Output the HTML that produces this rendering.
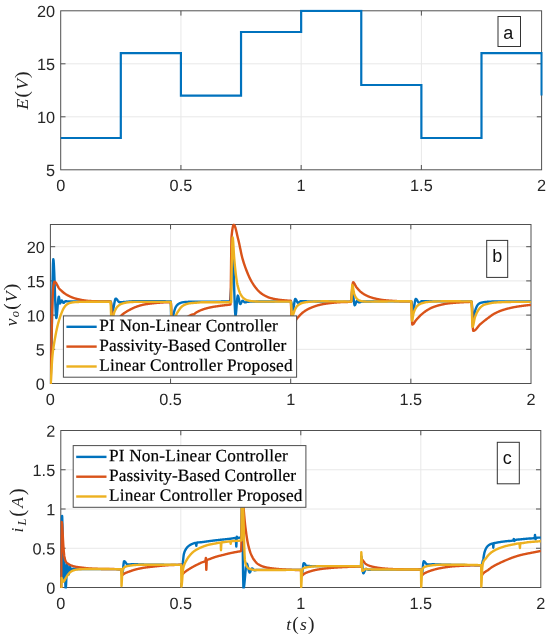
<!DOCTYPE html>
<html><head><meta charset="utf-8"><title>Controller comparison</title>
<style>
html,body{margin:0;padding:0;background:#fff;}
svg{display:block}
.tk{font-family:"Liberation Sans",sans-serif;font-size:16.3px;fill:#262626}
.bx{font-family:"Liberation Sans",sans-serif;font-size:18px;fill:#111}
.lg{font-family:"Liberation Serif",serif;font-size:17.3px;fill:#000;stroke:#000;stroke-width:0.2px}
.lb{font-family:"Liberation Serif",serif;font-size:17.5px;fill:#222;letter-spacing:1.2px}
.pr{font-size:19.5px}
.p2{font-size:20.5px}
.it{font-style:italic}
.sub{font-size:12.5px}
</style></head><body>
<svg width="550" height="639" viewBox="0 0 550 639">
<defs>
<clipPath id="clipa"><rect x="60.2" y="9.600000000000001" width="482.50" height="161.20"/></clipPath>
<clipPath id="clipb"><rect x="49.9" y="223.3" width="482.20" height="161.20"/></clipPath>
<clipPath id="clipc"><rect x="60.3" y="429.3" width="481.60" height="159.20"/></clipPath>
</defs>
<rect width="550" height="639" fill="#fff"/>
<line x1="180.93" y1="10.8" x2="180.93" y2="169.8" stroke="#e8e8e8" stroke-width="1"/>
<line x1="301.15" y1="10.8" x2="301.15" y2="169.8" stroke="#e8e8e8" stroke-width="1"/>
<line x1="421.38" y1="10.8" x2="421.38" y2="169.8" stroke="#e8e8e8" stroke-width="1"/>
<line x1="60.7" y1="116.80" x2="541.6" y2="116.80" stroke="#e8e8e8" stroke-width="1"/>
<line x1="60.7" y1="63.80" x2="541.6" y2="63.80" stroke="#e8e8e8" stroke-width="1"/>
<rect x="60.7" y="10.8" width="480.90" height="159.00" fill="none" stroke="#505050" stroke-width="1"/>
<text x="60.70" y="191" transform="rotate(0.03 60.70 191)" text-anchor="middle" class="tk">0</text>
<line x1="180.93" y1="169.8" x2="180.93" y2="165.0" stroke="#505050" stroke-width="1"/>
<line x1="180.93" y1="10.8" x2="180.93" y2="15.600000000000001" stroke="#505050" stroke-width="1"/>
<text x="180.93" y="191" transform="rotate(0.03 180.93 191)" text-anchor="middle" class="tk">0.5</text>
<line x1="301.15" y1="169.8" x2="301.15" y2="165.0" stroke="#505050" stroke-width="1"/>
<line x1="301.15" y1="10.8" x2="301.15" y2="15.600000000000001" stroke="#505050" stroke-width="1"/>
<text x="301.15" y="191" transform="rotate(0.03 301.15 191)" text-anchor="middle" class="tk">1</text>
<line x1="421.38" y1="169.8" x2="421.38" y2="165.0" stroke="#505050" stroke-width="1"/>
<line x1="421.38" y1="10.8" x2="421.38" y2="15.600000000000001" stroke="#505050" stroke-width="1"/>
<text x="421.38" y="191" transform="rotate(0.03 421.38 191)" text-anchor="middle" class="tk">1.5</text>
<text x="541.60" y="191" transform="rotate(0.03 541.60 191)" text-anchor="middle" class="tk">2</text>
<text x="55.10" y="176.10" transform="rotate(0.03 55.10 176.10)" text-anchor="end" class="tk">5</text>
<line x1="60.7" y1="116.80" x2="65.5" y2="116.80" stroke="#505050" stroke-width="1"/>
<line x1="541.6" y1="116.80" x2="536.8000000000001" y2="116.80" stroke="#505050" stroke-width="1"/>
<text x="55.10" y="123.10" transform="rotate(0.03 55.10 123.10)" text-anchor="end" class="tk">10</text>
<line x1="60.7" y1="63.80" x2="65.5" y2="63.80" stroke="#505050" stroke-width="1"/>
<line x1="541.6" y1="63.80" x2="536.8000000000001" y2="63.80" stroke="#505050" stroke-width="1"/>
<text x="55.10" y="70.10" transform="rotate(0.03 55.10 70.10)" text-anchor="end" class="tk">15</text>
<text x="55.10" y="17.10" transform="rotate(0.03 55.10 17.10)" text-anchor="end" class="tk">20</text>
<polyline points="60.70,138.00 120.81,138.00 120.81,53.20 180.93,53.20 180.93,95.60 241.04,95.60 241.04,32.00 301.15,32.00 301.15,10.80 361.26,10.80 361.26,85.00 421.38,85.00 421.38,138.00 481.49,138.00 481.49,53.20 541.60,53.20 541.60,95.60" fill="none" stroke="#0072BD" stroke-width="2.2" stroke-linejoin="miter" clip-path="url(#clipa)"/>
<rect x="498" y="16.5" width="22.5" height="30" fill="none" stroke="#333" stroke-width="1"/><text x="508.3" y="38.8" class="bx" text-anchor="middle">a</text>
<text transform="translate(27.6,89.8) rotate(-90)" text-anchor="middle" class="lb"><tspan class="it">E</tspan><tspan class="pr" dy="0.7">(</tspan><tspan class="it" dy="-0.7">V</tspan><tspan class="pr" dy="0.7">)</tspan></text>
<line x1="170.55" y1="224.5" x2="170.55" y2="383.5" stroke="#e8e8e8" stroke-width="1"/>
<line x1="290.70" y1="224.5" x2="290.70" y2="383.5" stroke="#e8e8e8" stroke-width="1"/>
<line x1="410.85" y1="224.5" x2="410.85" y2="383.5" stroke="#e8e8e8" stroke-width="1"/>
<line x1="50.4" y1="349.30" x2="531.0" y2="349.30" stroke="#e8e8e8" stroke-width="1"/>
<line x1="50.4" y1="315.10" x2="531.0" y2="315.10" stroke="#e8e8e8" stroke-width="1"/>
<line x1="50.4" y1="280.90" x2="531.0" y2="280.90" stroke="#e8e8e8" stroke-width="1"/>
<line x1="50.4" y1="246.70" x2="531.0" y2="246.70" stroke="#e8e8e8" stroke-width="1"/>
<rect x="50.4" y="224.5" width="480.60" height="159.00" fill="none" stroke="#505050" stroke-width="1"/>
<text x="50.40" y="405" transform="rotate(0.03 50.40 405)" text-anchor="middle" class="tk">0</text>
<line x1="170.55" y1="383.5" x2="170.55" y2="378.7" stroke="#505050" stroke-width="1"/>
<line x1="170.55" y1="224.5" x2="170.55" y2="229.3" stroke="#505050" stroke-width="1"/>
<text x="170.55" y="405" transform="rotate(0.03 170.55 405)" text-anchor="middle" class="tk">0.5</text>
<line x1="290.70" y1="383.5" x2="290.70" y2="378.7" stroke="#505050" stroke-width="1"/>
<line x1="290.70" y1="224.5" x2="290.70" y2="229.3" stroke="#505050" stroke-width="1"/>
<text x="290.70" y="405" transform="rotate(0.03 290.70 405)" text-anchor="middle" class="tk">1</text>
<line x1="410.85" y1="383.5" x2="410.85" y2="378.7" stroke="#505050" stroke-width="1"/>
<line x1="410.85" y1="224.5" x2="410.85" y2="229.3" stroke="#505050" stroke-width="1"/>
<text x="410.85" y="405" transform="rotate(0.03 410.85 405)" text-anchor="middle" class="tk">1.5</text>
<text x="531.00" y="405" transform="rotate(0.03 531.00 405)" text-anchor="middle" class="tk">2</text>
<text x="44.80" y="389.80" transform="rotate(0.03 44.80 389.80)" text-anchor="end" class="tk">0</text>
<line x1="50.4" y1="349.30" x2="55.199999999999996" y2="349.30" stroke="#505050" stroke-width="1"/>
<line x1="531.0" y1="349.30" x2="526.2" y2="349.30" stroke="#505050" stroke-width="1"/>
<text x="44.80" y="355.60" transform="rotate(0.03 44.80 355.60)" text-anchor="end" class="tk">5</text>
<line x1="50.4" y1="315.10" x2="55.199999999999996" y2="315.10" stroke="#505050" stroke-width="1"/>
<line x1="531.0" y1="315.10" x2="526.2" y2="315.10" stroke="#505050" stroke-width="1"/>
<text x="44.80" y="321.40" transform="rotate(0.03 44.80 321.40)" text-anchor="end" class="tk">10</text>
<line x1="50.4" y1="280.90" x2="55.199999999999996" y2="280.90" stroke="#505050" stroke-width="1"/>
<line x1="531.0" y1="280.90" x2="526.2" y2="280.90" stroke="#505050" stroke-width="1"/>
<text x="44.80" y="287.20" transform="rotate(0.03 44.80 287.20)" text-anchor="end" class="tk">15</text>
<line x1="50.4" y1="246.70" x2="55.199999999999996" y2="246.70" stroke="#505050" stroke-width="1"/>
<line x1="531.0" y1="246.70" x2="526.2" y2="246.70" stroke="#505050" stroke-width="1"/>
<text x="44.80" y="253.00" transform="rotate(0.03 44.80 253.00)" text-anchor="end" class="tk">20</text>
<polyline points="50.60,383.90 50.90,371.20 51.20,358.22 51.50,344.92 51.60,340.40 51.80,330.22 52.10,312.13 52.40,293.16 52.70,276.12 53.00,263.82 53.30,259.10 53.30,259.10 53.60,260.75 53.90,265.23 54.20,271.82 54.50,279.83 54.80,288.55 55.10,297.27 55.40,305.28 55.70,311.87 56.00,316.35 56.30,318.00 56.30,318.00 56.60,317.15 56.90,314.91 57.20,311.71 57.50,307.99 57.80,304.20 58.10,300.77 58.40,298.16 58.70,296.80 58.80,296.70 59.00,297.20 59.30,299.22 59.60,301.66 59.90,303.27 60.00,303.40 60.20,303.29 60.50,302.77 60.80,302.03 61.10,301.26 61.40,300.65 61.70,300.40 61.70,300.40 62.00,300.59 62.30,301.05 62.60,301.65 62.90,302.25 63.20,302.71 63.50,302.90 63.50,302.90 63.80,302.80 64.10,302.55 64.40,302.22 64.70,301.86 65.00,301.55 65.30,301.34 65.50,301.30 65.60,301.30 65.90,301.30 66.20,301.31 66.50,301.31 66.80,301.32 67.10,301.33 67.40,301.34 67.70,301.35 68.00,301.36 68.30,301.37 68.60,301.38 68.90,301.38 69.20,301.39 69.50,301.40 69.80,301.40 70.00,301.40 70.10,301.40 70.40,301.40 70.70,301.40 71.00,301.40 71.30,301.40 71.60,301.40 71.90,301.40 72.20,301.40 72.50,301.40 72.80,301.40 73.10,301.40 73.40,301.40 73.70,301.40 74.00,301.40 74.30,301.40 74.60,301.40 74.90,301.40 75.20,301.40 75.50,301.40 75.80,301.40 76.10,301.40 76.40,301.40 76.70,301.40 77.00,301.40 77.30,301.40 77.60,301.40 77.90,301.40 78.20,301.40 78.50,301.40 78.80,301.40 79.10,301.40 79.40,301.40 79.70,301.40 80.00,301.40 80.30,301.40 80.60,301.40 80.90,301.40 81.20,301.40 81.50,301.40 81.80,301.40 82.10,301.40 82.40,301.40 82.70,301.40 83.00,301.40 83.30,301.40 83.60,301.40 83.90,301.40 84.20,301.40 84.50,301.40 84.80,301.40 85.10,301.40 85.40,301.40 85.70,301.40 86.00,301.40 86.30,301.40 86.60,301.40 86.90,301.40 87.20,301.40 87.50,301.40 87.80,301.40 88.10,301.40 88.40,301.40 88.70,301.40 89.00,301.40 89.30,301.40 89.60,301.40 89.90,301.40 90.20,301.40 90.50,301.40 90.80,301.40 91.10,301.40 91.40,301.40 91.70,301.40 92.00,301.40 92.30,301.40 92.60,301.40 92.90,301.40 93.20,301.40 93.50,301.40 93.80,301.40 94.10,301.40 94.40,301.40 94.70,301.40 95.00,301.40 95.30,301.40 95.60,301.40 95.90,301.40 96.20,301.40 96.50,301.40 96.80,301.40 97.10,301.40 97.40,301.40 97.70,301.40 98.00,301.40 98.30,301.40 98.60,301.40 98.90,301.40 99.20,301.40 99.50,301.40 99.80,301.40 100.10,301.40 100.40,301.40 100.70,301.40 101.00,301.40 101.30,301.40 101.60,301.40 101.90,301.40 102.20,301.40 102.50,301.40 102.80,301.40 103.10,301.40 103.40,301.40 103.70,301.40 104.00,301.40 104.30,301.40 104.60,301.40 104.90,301.40 105.20,301.40 105.50,301.40 105.80,301.40 106.10,301.40 106.40,301.40 106.70,301.40 107.00,301.40 107.30,301.40 107.60,301.40 107.90,301.40 108.20,301.40 108.50,301.40 108.80,301.40 109.10,301.40 109.40,301.40 109.70,301.40 110.00,301.40 110.30,301.40 110.60,301.40 110.70,301.40 110.90,301.78 111.20,303.49 111.50,305.96 111.80,308.54 112.10,310.58 112.40,311.40 112.40,311.40 112.70,311.10 113.00,310.28 113.30,309.06 113.60,307.55 113.90,305.87 114.20,304.13 114.50,302.45 114.80,300.94 115.10,299.72 115.40,298.90 115.70,298.60 115.70,298.60 116.00,298.66 116.30,298.83 116.60,299.09 116.90,299.41 117.20,299.79 117.50,300.19 117.80,300.61 118.10,301.01 118.40,301.39 118.70,301.71 119.00,301.97 119.30,302.14 119.60,302.20 119.60,302.20 119.90,302.20 120.20,302.20 120.50,302.19 120.80,302.18 121.10,302.17 121.40,302.16 121.70,302.15 122.00,302.13 122.30,302.12 122.60,302.10 122.90,302.08 123.20,302.06 123.50,302.04 123.80,302.02 124.10,301.99 124.40,301.97 124.70,301.94 125.00,301.92 125.30,301.89 125.60,301.86 125.90,301.83 126.20,301.81 126.50,301.78 126.80,301.75 127.10,301.72 127.40,301.69 127.70,301.66 128.00,301.63 128.30,301.60 128.60,301.57 128.90,301.55 129.20,301.52 129.50,301.49 129.80,301.47 130.10,301.44 130.40,301.41 130.70,301.39 131.00,301.37 131.30,301.35 131.60,301.32 131.90,301.31 132.20,301.29 132.50,301.27 132.80,301.26 133.10,301.24 133.40,301.23 133.70,301.22 134.00,301.21 134.30,301.21 134.60,301.20 134.90,301.20 135.00,301.20 135.20,301.20 135.50,301.20 135.80,301.20 136.10,301.20 136.40,301.20 136.70,301.20 137.00,301.20 137.30,301.20 137.60,301.20 137.90,301.20 138.20,301.20 138.50,301.20 138.80,301.20 139.10,301.20 139.40,301.20 139.70,301.20 140.00,301.20 140.30,301.20 140.60,301.20 140.90,301.20 141.20,301.20 141.50,301.20 141.80,301.20 142.10,301.20 142.40,301.20 142.70,301.20 143.00,301.20 143.30,301.20 143.60,301.20 143.90,301.20 144.20,301.20 144.50,301.20 144.80,301.20 145.10,301.20 145.40,301.21 145.70,301.21 146.00,301.21 146.30,301.21 146.60,301.21 146.90,301.21 147.20,301.21 147.50,301.21 147.80,301.21 148.10,301.21 148.40,301.21 148.70,301.21 149.00,301.21 149.30,301.21 149.60,301.21 149.90,301.22 150.20,301.22 150.50,301.22 150.80,301.22 151.10,301.22 151.40,301.22 151.70,301.22 152.00,301.22 152.30,301.22 152.60,301.22 152.90,301.23 153.20,301.23 153.50,301.23 153.80,301.23 154.10,301.23 154.40,301.23 154.70,301.23 155.00,301.24 155.30,301.24 155.60,301.24 155.90,301.24 156.20,301.24 156.50,301.24 156.80,301.25 157.10,301.25 157.40,301.25 157.70,301.25 158.00,301.25 158.30,301.26 158.60,301.26 158.90,301.26 159.20,301.26 159.50,301.27 159.80,301.27 160.10,301.27 160.40,301.27 160.70,301.28 161.00,301.28 161.30,301.28 161.60,301.28 161.90,301.29 162.20,301.29 162.50,301.29 162.80,301.29 163.10,301.30 163.40,301.30 163.70,301.30 164.00,301.31 164.30,301.31 164.60,301.31 164.90,301.32 165.20,301.32 165.50,301.32 165.80,301.33 166.10,301.33 166.40,301.34 166.70,301.34 167.00,301.34 167.30,301.35 167.60,301.35 167.90,301.36 168.20,301.36 168.50,301.36 168.80,301.37 169.10,301.37 169.40,301.38 169.70,301.38 170.00,301.39 170.30,301.39 170.60,301.40 170.80,301.40 170.90,304.11 171.20,324.70 171.30,327.40 171.50,327.10 171.80,325.69 172.10,323.52 172.40,320.98 172.70,318.50 173.00,316.49 173.10,316.00 173.30,315.13 173.60,313.86 173.90,312.65 174.20,311.50 174.50,310.43 174.80,309.45 175.10,308.56 175.40,307.78 175.70,307.13 176.00,306.60 176.00,306.60 176.30,306.16 176.60,305.75 176.90,305.38 177.20,305.04 177.50,304.74 177.80,304.46 178.10,304.22 178.40,304.00 178.70,303.81 178.90,303.70 179.00,303.65 179.30,303.50 179.60,303.35 179.90,303.21 180.20,303.08 180.50,302.95 180.80,302.83 181.10,302.73 181.40,302.62 181.70,302.53 182.00,302.45 182.30,302.38 182.60,302.31 182.90,302.26 183.20,302.21 183.30,302.20 183.50,302.18 183.80,302.14 184.10,302.11 184.40,302.08 184.70,302.05 185.00,302.02 185.30,302.00 185.60,301.97 185.90,301.95 186.20,301.93 186.50,301.91 186.80,301.89 187.10,301.87 187.40,301.86 187.70,301.85 188.00,301.83 188.30,301.82 188.60,301.81 188.90,301.80 189.10,301.80 189.20,301.80 189.50,301.79 189.80,301.79 190.10,301.78 190.40,301.77 190.70,301.77 191.00,301.76 191.30,301.76 191.60,301.75 191.90,301.75 192.20,301.74 192.50,301.74 192.80,301.73 193.10,301.73 193.40,301.73 193.70,301.72 194.00,301.72 194.30,301.72 194.60,301.71 194.90,301.71 195.20,301.70 195.50,301.70 195.80,301.70 196.10,301.70 196.40,301.69 196.70,301.69 197.00,301.69 197.30,301.69 197.60,301.68 197.90,301.68 198.20,301.68 198.50,301.68 198.80,301.67 199.10,301.67 199.40,301.67 199.70,301.67 200.00,301.67 200.30,301.67 200.60,301.66 200.90,301.66 201.20,301.66 201.50,301.66 201.80,301.66 202.10,301.66 202.40,301.66 202.70,301.65 203.00,301.65 203.30,301.65 203.60,301.65 203.90,301.65 204.20,301.65 204.50,301.65 204.80,301.65 205.10,301.65 205.40,301.65 205.70,301.65 206.00,301.65 206.30,301.64 206.60,301.64 206.90,301.64 207.20,301.64 207.50,301.64 207.80,301.64 208.10,301.64 208.40,301.64 208.70,301.64 209.00,301.64 209.30,301.64 209.60,301.64 209.90,301.64 210.20,301.64 210.50,301.64 210.80,301.63 211.10,301.63 211.40,301.63 211.70,301.63 212.00,301.63 212.30,301.63 212.60,301.63 212.90,301.63 213.20,301.63 213.50,301.63 213.80,301.63 214.10,301.62 214.40,301.62 214.70,301.62 215.00,301.62 215.30,301.62 215.60,301.62 215.90,301.62 216.20,301.61 216.50,301.61 216.80,301.61 217.10,301.61 217.40,301.61 217.70,301.60 218.00,301.60 218.30,301.60 218.60,301.60 218.90,301.59 219.20,301.59 219.50,301.59 219.80,301.59 220.10,301.58 220.40,301.58 220.70,301.58 221.00,301.57 221.30,301.57 221.60,301.57 221.90,301.56 222.20,301.56 222.50,301.55 222.80,301.55 223.10,301.54 223.40,301.54 223.70,301.54 224.00,301.53 224.30,301.53 224.60,301.52 224.90,301.52 225.20,301.51 225.50,301.50 225.80,301.50 226.10,301.49 226.40,301.49 226.70,301.48 227.00,301.47 227.30,301.47 227.60,301.46 227.90,301.45 228.20,301.45 228.50,301.44 228.80,301.43 229.10,301.42 229.40,301.41 229.70,301.41 229.90,301.40 230.00,301.25 230.30,299.30 230.60,295.81 230.90,291.73 231.00,290.40 231.20,287.07 231.50,280.06 231.80,271.98 232.10,264.33 232.40,258.63 232.70,256.40 232.70,256.40 233.00,258.30 233.30,263.41 233.60,270.87 233.90,279.78 234.20,289.28 234.50,298.48 234.80,306.52 235.10,312.51 235.40,315.58 235.50,315.80 235.70,315.37 236.00,313.35 236.30,310.17 236.60,306.36 236.90,302.46 237.20,299.01 237.50,296.54 237.80,295.60 237.80,295.60 238.10,295.97 238.40,296.93 238.70,298.29 239.00,299.85 239.30,301.41 239.60,302.77 239.90,303.73 240.20,304.10 240.20,304.10 240.50,303.95 240.80,303.54 241.10,302.98 241.40,302.34 241.70,301.72 242.00,301.20 242.30,300.87 242.50,300.80 242.60,300.81 242.90,300.91 243.20,301.11 243.50,301.36 243.80,301.65 244.10,301.93 244.40,302.17 244.70,302.34 245.00,302.40 245.00,302.40 245.30,302.38 245.60,302.33 245.90,302.25 246.20,302.16 246.50,302.06 246.80,301.95 247.10,301.86 247.40,301.78 247.70,301.72 248.00,301.70 248.00,301.70 248.30,301.69 248.60,301.69 248.90,301.68 249.20,301.68 249.50,301.67 249.80,301.67 250.10,301.66 250.40,301.66 250.70,301.65 251.00,301.65 251.30,301.64 251.60,301.64 251.90,301.63 252.20,301.63 252.50,301.62 252.80,301.62 253.10,301.61 253.40,301.61 253.70,301.61 254.00,301.60 254.30,301.60 254.60,301.59 254.90,301.59 255.20,301.58 255.50,301.58 255.80,301.58 256.10,301.57 256.40,301.57 256.70,301.56 257.00,301.56 257.30,301.56 257.60,301.55 257.90,301.55 258.20,301.55 258.50,301.54 258.80,301.54 259.10,301.54 259.40,301.53 259.70,301.53 260.00,301.53 260.30,301.52 260.60,301.52 260.90,301.52 261.20,301.51 261.50,301.51 261.80,301.51 262.10,301.51 262.40,301.50 262.70,301.50 263.00,301.50 263.30,301.49 263.60,301.49 263.90,301.49 264.20,301.49 264.50,301.48 264.80,301.48 265.10,301.48 265.40,301.48 265.70,301.47 266.00,301.47 266.30,301.47 266.60,301.47 266.90,301.47 267.20,301.46 267.50,301.46 267.80,301.46 268.10,301.46 268.40,301.46 268.70,301.45 269.00,301.45 269.30,301.45 269.60,301.45 269.90,301.45 270.20,301.45 270.50,301.44 270.80,301.44 271.10,301.44 271.40,301.44 271.70,301.44 272.00,301.44 272.30,301.43 272.60,301.43 272.90,301.43 273.20,301.43 273.50,301.43 273.80,301.43 274.10,301.43 274.40,301.43 274.70,301.42 275.00,301.42 275.30,301.42 275.60,301.42 275.90,301.42 276.20,301.42 276.50,301.42 276.80,301.42 277.10,301.42 277.40,301.42 277.70,301.42 278.00,301.41 278.30,301.41 278.60,301.41 278.90,301.41 279.20,301.41 279.50,301.41 279.80,301.41 280.10,301.41 280.40,301.41 280.70,301.41 281.00,301.41 281.30,301.41 281.60,301.41 281.90,301.41 282.20,301.41 282.50,301.41 282.80,301.40 283.10,301.40 283.40,301.40 283.70,301.40 284.00,301.40 284.30,301.40 284.60,301.40 284.90,301.40 285.20,301.40 285.50,301.40 285.80,301.40 286.10,301.40 286.40,301.40 286.70,301.40 287.00,301.40 287.30,301.40 287.60,301.40 287.90,301.40 288.20,301.40 288.50,301.40 288.80,301.40 289.10,301.40 289.40,301.40 289.70,301.40 290.00,301.40 290.30,301.40 290.60,301.40 290.90,301.40 290.90,301.40 291.20,301.92 291.50,303.24 291.80,305.01 292.10,306.91 292.40,308.57 292.70,309.66 292.90,309.90 293.00,309.84 293.30,309.09 293.60,307.64 293.90,305.76 294.20,303.71 294.50,301.75 294.80,300.13 295.10,299.12 295.30,298.90 295.40,298.92 295.70,299.13 296.00,299.55 296.30,300.11 296.60,300.74 296.90,301.39 297.20,301.98 297.50,302.45 297.80,302.74 298.00,302.80 298.10,302.79 298.40,302.72 298.70,302.57 299.00,302.36 299.30,302.12 299.60,301.87 299.90,301.62 300.20,301.40 300.50,301.23 300.80,301.12 301.00,301.10 301.10,301.10 301.40,301.11 301.70,301.11 302.00,301.13 302.30,301.15 302.60,301.16 302.90,301.19 303.20,301.21 303.50,301.23 303.80,301.25 304.10,301.27 304.40,301.28 304.70,301.29 305.00,301.30 305.00,301.30 305.30,301.30 305.60,301.31 305.90,301.31 306.20,301.32 306.50,301.32 306.80,301.33 307.10,301.33 307.40,301.33 307.70,301.34 308.00,301.34 308.30,301.35 308.60,301.35 308.90,301.35 309.20,301.36 309.50,301.36 309.80,301.37 310.10,301.37 310.40,301.37 310.70,301.38 311.00,301.38 311.30,301.38 311.60,301.39 311.90,301.39 312.20,301.39 312.50,301.40 312.80,301.40 313.10,301.41 313.40,301.41 313.70,301.41 314.00,301.42 314.30,301.42 314.60,301.42 314.90,301.43 315.20,301.43 315.50,301.43 315.80,301.43 316.10,301.44 316.40,301.44 316.70,301.44 317.00,301.45 317.30,301.45 317.60,301.45 317.90,301.46 318.20,301.46 318.50,301.46 318.80,301.46 319.10,301.47 319.40,301.47 319.70,301.47 320.00,301.47 320.30,301.48 320.60,301.48 320.90,301.48 321.20,301.48 321.50,301.49 321.80,301.49 322.10,301.49 322.40,301.49 322.70,301.50 323.00,301.50 323.30,301.50 323.60,301.50 323.90,301.51 324.20,301.51 324.50,301.51 324.80,301.51 325.10,301.51 325.40,301.52 325.70,301.52 326.00,301.52 326.30,301.52 326.60,301.53 326.90,301.53 327.20,301.53 327.50,301.53 327.80,301.53 328.10,301.53 328.40,301.54 328.70,301.54 329.00,301.54 329.30,301.54 329.60,301.54 329.90,301.55 330.20,301.55 330.50,301.55 330.80,301.55 331.10,301.55 331.40,301.55 331.70,301.55 332.00,301.56 332.30,301.56 332.60,301.56 332.90,301.56 333.20,301.56 333.50,301.56 333.80,301.56 334.10,301.57 334.40,301.57 334.70,301.57 335.00,301.57 335.30,301.57 335.60,301.57 335.90,301.57 336.20,301.57 336.50,301.57 336.80,301.58 337.10,301.58 337.40,301.58 337.70,301.58 338.00,301.58 338.30,301.58 338.60,301.58 338.90,301.58 339.20,301.58 339.50,301.58 339.80,301.59 340.10,301.59 340.40,301.59 340.70,301.59 341.00,301.59 341.30,301.59 341.60,301.59 341.90,301.59 342.20,301.59 342.50,301.59 342.80,301.59 343.10,301.59 343.40,301.59 343.70,301.59 344.00,301.59 344.30,301.59 344.60,301.60 344.90,301.60 345.20,301.60 345.50,301.60 345.80,301.60 346.10,301.60 346.40,301.60 346.70,301.60 347.00,301.60 347.30,301.60 347.60,301.60 347.90,301.60 348.20,301.60 348.50,301.60 348.80,301.60 349.10,301.60 349.40,301.60 349.70,301.60 350.00,301.60 350.30,301.60 350.60,301.60 350.90,301.60 351.20,301.60 351.20,301.60 351.50,299.56 351.80,295.24 352.10,291.38 352.30,290.40 352.40,290.47 352.70,291.50 353.00,293.44 353.30,295.97 353.60,298.72 353.90,301.36 354.20,303.54 354.50,304.91 354.70,305.20 354.80,305.18 355.10,304.86 355.40,304.25 355.70,303.47 356.00,302.63 356.30,301.85 356.60,301.24 356.90,300.92 357.00,300.90 357.20,300.94 357.50,301.13 357.80,301.43 358.10,301.76 358.40,302.08 358.70,302.31 359.00,302.40 359.00,302.40 359.30,302.38 359.60,302.32 359.90,302.23 360.20,302.12 360.50,302.01 360.80,301.89 361.10,301.78 361.40,301.69 361.70,301.63 362.00,301.60 362.00,301.60 362.30,301.59 362.60,301.59 362.90,301.58 363.20,301.57 363.50,301.57 363.80,301.56 364.10,301.56 364.40,301.55 364.70,301.54 365.00,301.54 365.30,301.53 365.60,301.53 365.90,301.52 366.20,301.52 366.50,301.51 366.80,301.50 367.10,301.50 367.40,301.49 367.70,301.49 368.00,301.48 368.30,301.48 368.60,301.47 368.90,301.47 369.20,301.46 369.50,301.46 369.80,301.45 370.10,301.45 370.40,301.44 370.70,301.44 371.00,301.43 371.30,301.43 371.60,301.42 371.90,301.42 372.20,301.42 372.50,301.41 372.80,301.41 373.10,301.40 373.40,301.40 373.70,301.39 374.00,301.39 374.30,301.39 374.60,301.38 374.90,301.38 375.20,301.37 375.50,301.37 375.80,301.37 376.10,301.36 376.40,301.36 376.70,301.36 377.00,301.35 377.30,301.35 377.60,301.35 377.90,301.34 378.20,301.34 378.50,301.34 378.80,301.33 379.10,301.33 379.40,301.33 379.70,301.32 380.00,301.32 380.30,301.32 380.60,301.31 380.90,301.31 381.20,301.31 381.50,301.31 381.80,301.30 382.10,301.30 382.40,301.30 382.70,301.30 383.00,301.29 383.30,301.29 383.60,301.29 383.90,301.29 384.20,301.28 384.50,301.28 384.80,301.28 385.10,301.28 385.40,301.27 385.70,301.27 386.00,301.27 386.30,301.27 386.60,301.27 386.90,301.26 387.20,301.26 387.50,301.26 387.80,301.26 388.10,301.26 388.40,301.25 388.70,301.25 389.00,301.25 389.30,301.25 389.60,301.25 389.90,301.25 390.20,301.24 390.50,301.24 390.80,301.24 391.10,301.24 391.40,301.24 391.70,301.24 392.00,301.24 392.30,301.23 392.60,301.23 392.90,301.23 393.20,301.23 393.50,301.23 393.80,301.23 394.10,301.23 394.40,301.23 394.70,301.22 395.00,301.22 395.30,301.22 395.60,301.22 395.90,301.22 396.20,301.22 396.50,301.22 396.80,301.22 397.10,301.22 397.40,301.22 397.70,301.22 398.00,301.21 398.30,301.21 398.60,301.21 398.90,301.21 399.20,301.21 399.50,301.21 399.80,301.21 400.10,301.21 400.40,301.21 400.70,301.21 401.00,301.21 401.30,301.21 401.60,301.21 401.90,301.21 402.20,301.21 402.50,301.21 402.80,301.21 403.10,301.20 403.40,301.20 403.70,301.20 404.00,301.20 404.30,301.20 404.60,301.20 404.90,301.20 405.20,301.20 405.50,301.20 405.80,301.20 406.10,301.20 406.40,301.20 406.70,301.20 407.00,301.20 407.30,301.20 407.60,301.20 407.90,301.20 408.20,301.20 408.50,301.20 408.80,301.20 409.10,301.20 409.40,301.20 409.70,301.20 410.00,301.20 410.30,301.20 410.60,301.20 410.90,301.20 411.20,301.20 411.20,301.20 411.50,301.85 411.80,303.49 412.10,305.67 412.40,307.92 412.70,309.79 413.00,310.82 413.10,310.90 413.30,310.71 413.60,309.82 413.90,308.36 414.20,306.55 414.50,304.57 414.80,302.62 415.10,300.90 415.40,299.61 415.70,298.95 415.80,298.90 416.00,298.94 416.30,299.14 416.60,299.48 416.90,299.91 417.20,300.41 417.50,300.94 417.80,301.46 418.10,301.94 418.40,302.35 418.70,302.64 419.00,302.79 419.10,302.80 419.30,302.78 419.60,302.67 419.90,302.48 420.20,302.25 420.50,301.99 420.80,301.73 421.10,301.49 421.40,301.29 421.70,301.15 422.00,301.10 422.00,301.10 422.30,301.10 422.60,301.11 422.90,301.12 423.20,301.14 423.50,301.16 423.80,301.18 424.10,301.20 424.40,301.23 424.70,301.25 425.00,301.27 425.30,301.28 425.60,301.29 425.90,301.30 426.00,301.30 426.20,301.30 426.50,301.30 426.80,301.30 427.10,301.31 427.40,301.31 427.70,301.31 428.00,301.31 428.30,301.31 428.60,301.31 428.90,301.31 429.20,301.32 429.50,301.32 429.80,301.32 430.10,301.32 430.40,301.32 430.70,301.32 431.00,301.32 431.30,301.32 431.60,301.32 431.90,301.33 432.20,301.33 432.50,301.33 432.80,301.33 433.10,301.33 433.40,301.33 433.70,301.33 434.00,301.33 434.30,301.33 434.60,301.33 434.90,301.33 435.20,301.33 435.50,301.33 435.80,301.34 436.10,301.34 436.40,301.34 436.70,301.34 437.00,301.34 437.30,301.34 437.60,301.34 437.90,301.34 438.20,301.34 438.50,301.34 438.80,301.34 439.10,301.34 439.40,301.34 439.70,301.34 440.00,301.34 440.30,301.34 440.60,301.34 440.90,301.34 441.20,301.34 441.50,301.34 441.80,301.34 442.10,301.34 442.40,301.34 442.70,301.34 443.00,301.34 443.30,301.34 443.60,301.34 443.90,301.34 444.20,301.34 444.50,301.34 444.80,301.34 445.10,301.34 445.40,301.34 445.70,301.34 446.00,301.35 446.30,301.35 446.60,301.35 446.90,301.35 447.20,301.35 447.50,301.35 447.80,301.35 448.10,301.35 448.40,301.35 448.70,301.35 449.00,301.35 449.30,301.35 449.60,301.35 449.90,301.35 450.20,301.35 450.50,301.35 450.80,301.35 451.10,301.35 451.40,301.35 451.70,301.35 452.00,301.35 452.30,301.35 452.60,301.35 452.90,301.35 453.20,301.35 453.50,301.35 453.80,301.35 454.10,301.35 454.40,301.35 454.70,301.35 455.00,301.35 455.30,301.35 455.60,301.35 455.90,301.35 456.20,301.35 456.50,301.35 456.80,301.35 457.10,301.35 457.40,301.35 457.70,301.35 458.00,301.35 458.30,301.35 458.60,301.35 458.90,301.35 459.20,301.35 459.50,301.35 459.80,301.35 460.10,301.36 460.40,301.36 460.70,301.36 461.00,301.36 461.30,301.36 461.60,301.36 461.90,301.36 462.20,301.36 462.50,301.36 462.80,301.36 463.10,301.36 463.40,301.36 463.70,301.36 464.00,301.37 464.30,301.37 464.60,301.37 464.90,301.37 465.20,301.37 465.50,301.37 465.80,301.37 466.10,301.37 466.40,301.37 466.70,301.37 467.00,301.38 467.30,301.38 467.60,301.38 467.90,301.38 468.20,301.38 468.50,301.38 468.80,301.38 469.10,301.39 469.40,301.39 469.70,301.39 470.00,301.39 470.30,301.39 470.60,301.39 470.90,301.40 471.20,301.40 471.50,301.40 471.50,301.40 471.80,303.12 472.10,307.21 472.40,312.09 472.70,316.18 473.00,317.90 473.00,317.90 473.30,317.67 473.60,317.04 473.90,316.09 474.20,314.93 474.50,313.64 474.80,312.31 475.10,311.03 475.40,309.90 475.70,309.00 475.70,309.00 476.00,308.25 476.30,307.52 476.60,306.82 476.90,306.18 477.20,305.61 477.50,305.15 477.70,304.90 477.80,304.79 478.10,304.48 478.40,304.20 478.70,303.93 479.00,303.69 479.30,303.48 479.60,303.29 479.90,303.13 480.20,303.00 480.50,302.90 480.50,302.90 480.80,302.82 481.10,302.73 481.40,302.66 481.70,302.59 482.00,302.52 482.30,302.45 482.60,302.39 482.90,302.33 483.20,302.27 483.50,302.22 483.80,302.17 484.10,302.13 484.40,302.09 484.70,302.05 485.00,302.01 485.30,301.97 485.60,301.94 485.90,301.91 486.20,301.88 486.50,301.86 486.80,301.83 487.10,301.81 487.30,301.80 487.40,301.79 487.70,301.77 488.00,301.76 488.30,301.74 488.60,301.72 488.90,301.70 489.20,301.69 489.50,301.67 489.80,301.65 490.10,301.64 490.40,301.62 490.70,301.61 491.00,301.60 491.30,301.58 491.60,301.57 491.90,301.56 492.20,301.55 492.50,301.54 492.80,301.53 493.10,301.52 493.40,301.52 493.70,301.51 494.00,301.51 494.30,301.50 494.60,301.50 494.90,301.50 495.00,301.50 495.20,301.50 495.50,301.50 495.80,301.50 496.10,301.50 496.40,301.50 496.70,301.50 497.00,301.50 497.30,301.50 497.60,301.50 497.90,301.50 498.20,301.50 498.50,301.50 498.80,301.50 499.10,301.50 499.40,301.50 499.70,301.50 500.00,301.50 500.30,301.50 500.60,301.50 500.90,301.50 501.20,301.50 501.50,301.50 501.80,301.50 502.10,301.50 502.40,301.50 502.70,301.50 503.00,301.50 503.30,301.50 503.60,301.50 503.90,301.50 504.20,301.50 504.50,301.50 504.80,301.50 505.10,301.50 505.40,301.50 505.70,301.50 506.00,301.50 506.30,301.50 506.60,301.50 506.90,301.50 507.20,301.50 507.50,301.50 507.80,301.50 508.10,301.50 508.40,301.50 508.70,301.50 509.00,301.50 509.30,301.50 509.60,301.50 509.90,301.50 510.20,301.50 510.50,301.50 510.80,301.50 511.10,301.50 511.40,301.50 511.70,301.50 512.00,301.50 512.30,301.50 512.60,301.50 512.90,301.50 513.20,301.50 513.50,301.50 513.80,301.50 514.10,301.50 514.40,301.50 514.70,301.50 515.00,301.50 515.30,301.50 515.60,301.50 515.90,301.50 516.20,301.50 516.50,301.50 516.80,301.50 517.10,301.50 517.40,301.50 517.70,301.50 518.00,301.50 518.30,301.50 518.60,301.50 518.90,301.50 519.20,301.50 519.50,301.50 519.80,301.50 520.10,301.50 520.40,301.50 520.70,301.50 521.00,301.50 521.30,301.50 521.60,301.50 521.90,301.50 522.20,301.50 522.50,301.50 522.80,301.50 523.10,301.50 523.40,301.50 523.70,301.50 524.00,301.50 524.30,301.50 524.60,301.50 524.90,301.50 525.20,301.50 525.50,301.50 525.80,301.50 526.10,301.50 526.40,301.50 526.70,301.50 527.00,301.50 527.30,301.50 527.60,301.50 527.90,301.50 528.20,301.50 528.50,301.50 528.80,301.50 529.10,301.50 529.40,301.50 529.70,301.50 530.00,301.50 530.30,301.50 530.60,301.50 530.90,301.50" fill="none" stroke="#0072BD" stroke-width="2.4" stroke-linejoin="round" stroke-linecap="butt" clip-path="url(#clipb)"/>
<polyline points="50.80,383.90 51.10,363.42 51.40,345.56 51.50,340.40 51.70,330.63 52.00,316.96 52.30,305.78 52.50,300.40 52.60,298.27 52.90,292.55 53.20,288.14 53.50,285.40 53.50,285.40 53.80,283.73 54.10,282.43 54.40,281.75 54.50,281.70 54.70,281.73 55.00,281.85 55.30,282.08 55.60,282.39 55.90,282.78 56.20,283.23 56.50,283.73 56.80,284.27 57.10,284.83 57.40,285.41 57.70,286.00 58.00,286.57 58.30,287.12 58.60,287.65 58.90,288.12 59.20,288.55 59.50,288.90 59.50,288.90 59.80,289.21 60.10,289.52 60.40,289.82 60.70,290.11 61.00,290.40 61.30,290.68 61.60,290.96 61.90,291.23 62.20,291.49 62.50,291.75 62.80,292.00 63.10,292.24 63.40,292.48 63.70,292.71 64.00,292.94 64.30,293.16 64.60,293.38 64.90,293.59 65.20,293.80 65.50,294.00 65.80,294.19 66.10,294.38 66.40,294.56 66.70,294.74 66.80,294.80 67.00,294.92 67.30,295.09 67.60,295.25 67.90,295.42 68.20,295.58 68.50,295.74 68.80,295.89 69.10,296.04 69.40,296.19 69.70,296.34 70.00,296.48 70.30,296.62 70.60,296.76 70.90,296.89 71.20,297.02 71.50,297.14 71.80,297.27 72.10,297.39 72.40,297.50 72.70,297.62 73.00,297.73 73.30,297.83 73.60,297.94 73.90,298.04 74.10,298.10 74.20,298.13 74.50,298.23 74.80,298.32 75.10,298.41 75.40,298.50 75.70,298.58 76.00,298.67 76.30,298.75 76.60,298.83 76.90,298.91 77.20,298.99 77.50,299.07 77.80,299.14 78.10,299.21 78.40,299.28 78.70,299.35 79.00,299.42 79.30,299.49 79.60,299.55 79.90,299.61 80.20,299.67 80.50,299.73 80.80,299.79 81.10,299.85 81.40,299.90 81.40,299.90 81.70,299.95 82.00,300.01 82.30,300.06 82.60,300.11 82.90,300.16 83.20,300.21 83.50,300.26 83.80,300.31 84.10,300.36 84.40,300.41 84.70,300.45 85.00,300.50 85.30,300.54 85.60,300.58 85.90,300.62 86.20,300.66 86.50,300.70 86.80,300.73 87.10,300.77 87.40,300.80 87.70,300.83 88.00,300.85 88.30,300.88 88.60,300.90 88.60,300.90 88.90,300.92 89.20,300.94 89.50,300.96 89.80,300.98 90.10,301.00 90.40,301.02 90.70,301.03 91.00,301.05 91.30,301.07 91.60,301.08 91.90,301.10 92.20,301.11 92.50,301.13 92.80,301.14 93.10,301.16 93.40,301.17 93.70,301.19 94.00,301.20 94.30,301.21 94.60,301.22 94.90,301.24 95.20,301.25 95.50,301.26 95.80,301.27 96.10,301.28 96.40,301.29 96.70,301.30 97.00,301.31 97.30,301.32 97.60,301.33 97.90,301.34 98.20,301.35 98.50,301.36 98.80,301.37 99.10,301.38 99.40,301.38 99.70,301.39 100.00,301.40 100.00,301.40 100.30,301.41 100.60,301.41 100.90,301.42 101.20,301.43 101.50,301.43 101.80,301.44 102.10,301.44 102.40,301.44 102.70,301.45 103.00,301.45 103.30,301.45 103.60,301.46 103.90,301.46 104.20,301.46 104.50,301.46 104.80,301.47 105.10,301.47 105.40,301.47 105.70,301.47 106.00,301.48 106.30,301.48 106.60,301.48 106.90,301.49 107.20,301.49 107.50,301.50 107.80,301.50 108.10,301.51 108.40,301.52 108.70,301.53 109.00,301.53 109.30,301.54 109.60,301.55 109.90,301.57 110.20,301.58 110.50,301.59 110.70,301.60 110.80,301.78 111.10,304.16 111.40,308.56 111.70,314.06 112.00,319.70 112.30,324.57 112.60,327.72 112.80,328.40 112.90,328.40 113.20,328.33 113.50,328.19 113.80,327.97 114.10,327.69 114.40,327.36 114.70,326.96 115.00,326.52 115.30,326.04 115.60,325.52 115.90,324.96 116.20,324.38 116.50,323.78 116.80,323.16 117.10,322.53 117.40,321.89 117.70,321.26 118.00,320.63 118.30,320.01 118.60,319.41 118.90,318.83 119.20,318.27 119.50,317.75 119.80,317.27 120.10,316.83 120.40,316.44 120.70,316.10 120.80,316.00 121.00,315.81 121.30,315.53 121.60,315.26 121.90,314.99 122.20,314.73 122.50,314.48 122.80,314.24 123.10,314.00 123.40,313.76 123.70,313.53 124.00,313.31 124.30,313.09 124.60,312.88 124.90,312.67 125.20,312.47 125.50,312.27 125.80,312.08 126.10,311.89 126.40,311.70 126.70,311.51 127.00,311.33 127.30,311.16 127.60,310.98 127.90,310.81 128.20,310.64 128.50,310.47 128.80,310.31 129.10,310.14 129.40,309.98 129.70,309.82 130.00,309.66 130.30,309.50 130.30,309.50 130.60,309.34 130.90,309.19 131.20,309.03 131.50,308.88 131.80,308.73 132.10,308.58 132.40,308.44 132.70,308.29 133.00,308.15 133.30,308.01 133.60,307.87 133.90,307.74 134.20,307.61 134.50,307.48 134.80,307.35 135.10,307.23 135.40,307.11 135.70,306.99 136.00,306.87 136.30,306.76 136.60,306.65 136.90,306.54 137.20,306.43 137.50,306.33 137.60,306.30 137.80,306.23 138.10,306.14 138.40,306.04 138.70,305.95 139.00,305.85 139.30,305.76 139.60,305.67 139.90,305.58 140.20,305.49 140.50,305.41 140.80,305.33 141.10,305.24 141.40,305.16 141.70,305.08 142.00,305.01 142.30,304.93 142.60,304.86 142.90,304.79 143.20,304.72 143.50,304.66 143.80,304.59 144.10,304.53 144.40,304.47 144.70,304.42 144.80,304.40 145.00,304.36 145.30,304.31 145.60,304.26 145.90,304.21 146.20,304.16 146.50,304.12 146.80,304.07 147.10,304.03 147.40,303.98 147.70,303.94 148.00,303.90 148.30,303.86 148.60,303.82 148.90,303.78 149.20,303.74 149.50,303.70 149.80,303.67 150.10,303.63 150.40,303.60 150.70,303.56 151.00,303.53 151.30,303.49 151.60,303.46 151.90,303.42 152.10,303.40 152.20,303.39 152.50,303.35 152.80,303.32 153.10,303.29 153.40,303.25 153.70,303.22 154.00,303.19 154.30,303.16 154.60,303.12 154.90,303.09 155.20,303.06 155.50,303.03 155.80,303.00 156.10,302.97 156.40,302.94 156.70,302.92 157.00,302.89 157.30,302.86 157.60,302.84 157.90,302.81 158.20,302.79 158.50,302.76 158.80,302.74 159.10,302.72 159.40,302.70 159.40,302.70 159.70,302.68 160.00,302.66 160.30,302.64 160.60,302.62 160.90,302.60 161.20,302.58 161.50,302.56 161.80,302.54 162.10,302.52 162.40,302.50 162.70,302.48 163.00,302.46 163.30,302.44 163.60,302.42 163.90,302.41 164.20,302.39 164.50,302.37 164.80,302.35 165.10,302.34 165.40,302.32 165.70,302.31 166.00,302.29 166.30,302.28 166.60,302.27 166.90,302.26 167.20,302.25 167.50,302.24 167.80,302.23 168.10,302.22 168.40,302.21 168.70,302.21 169.00,302.20 169.30,302.20 169.60,302.20 169.80,302.20 169.90,302.20 170.20,302.20 170.50,302.20 170.80,302.20 170.80,302.20 171.10,305.53 171.40,313.30 171.70,322.18 172.00,328.84 172.20,330.40 172.30,330.40 172.60,330.36 172.90,330.27 173.20,330.13 173.50,329.96 173.80,329.75 174.10,329.50 174.40,329.22 174.70,328.92 175.00,328.59 175.30,328.24 175.60,327.87 175.90,327.48 176.20,327.08 176.50,326.68 176.80,326.27 177.10,325.85 177.40,325.44 177.70,325.04 178.00,324.64 178.30,324.25 178.60,323.87 178.90,323.51 179.20,323.18 179.50,322.86 179.80,322.57 180.00,322.40 180.10,322.32 180.40,322.07 180.70,321.82 181.00,321.58 181.30,321.33 181.60,321.09 181.90,320.86 182.20,320.62 182.50,320.39 182.80,320.16 183.10,319.93 183.40,319.71 183.70,319.49 184.00,319.27 184.30,319.05 184.60,318.84 184.90,318.63 185.20,318.42 185.50,318.22 185.80,318.02 186.10,317.82 186.40,317.62 186.70,317.43 187.00,317.24 187.30,317.06 187.60,316.87 187.90,316.69 188.20,316.51 188.50,316.34 188.80,316.17 189.10,316.00 189.10,316.00 189.40,315.83 189.70,315.66 190.00,315.48 190.30,315.32 190.60,315.15 190.90,315.00 191.20,314.87 191.50,314.75 191.80,314.65 192.00,314.60 192.10,314.58 192.40,314.53 192.70,314.49 193.00,314.46 193.30,314.43 193.60,314.38 193.90,314.33 194.00,314.30 194.20,314.21 194.50,313.98 194.80,313.68 195.10,313.36 195.40,313.08 195.50,313.00 195.70,312.86 196.00,312.66 196.30,312.47 196.60,312.29 196.90,312.12 197.20,311.95 197.50,311.78 197.80,311.63 198.10,311.48 198.40,311.33 198.70,311.18 199.00,311.04 199.30,310.90 199.30,310.90 199.60,310.76 199.90,310.63 200.20,310.50 200.50,310.37 200.80,310.24 201.10,310.11 201.40,309.99 201.70,309.87 202.00,309.76 202.30,309.65 202.60,309.54 202.90,309.43 203.20,309.33 203.50,309.23 203.60,309.20 203.80,309.14 204.10,309.04 204.40,308.95 204.70,308.86 205.00,308.77 205.30,308.68 205.60,308.59 205.90,308.51 206.20,308.42 206.50,308.34 206.80,308.26 207.10,308.18 207.40,308.10 207.70,308.03 208.00,307.95 208.30,307.88 208.60,307.81 208.90,307.73 209.20,307.67 209.50,307.60 209.80,307.53 210.10,307.47 210.40,307.40 210.70,307.34 210.90,307.30 211.00,307.28 211.30,307.22 211.60,307.16 211.90,307.11 212.20,307.05 212.50,307.00 212.80,306.94 213.10,306.89 213.40,306.84 213.70,306.79 214.00,306.74 214.30,306.69 214.60,306.64 214.90,306.60 215.20,306.55 215.50,306.50 215.80,306.46 216.10,306.41 216.40,306.37 216.70,306.32 217.00,306.28 217.30,306.23 217.60,306.19 217.90,306.14 218.20,306.10 218.20,306.10 218.50,306.06 218.80,306.01 219.10,305.97 219.40,305.93 219.70,305.88 220.00,305.84 220.30,305.80 220.60,305.76 220.90,305.72 221.20,305.68 221.50,305.64 221.80,305.60 222.10,305.56 222.40,305.52 222.70,305.48 223.00,305.44 223.30,305.40 223.60,305.36 223.90,305.32 224.20,305.28 224.50,305.24 224.80,305.20 225.10,305.16 225.40,305.11 225.50,305.10 225.70,305.07 226.00,305.04 226.30,305.01 226.60,304.99 226.90,304.97 227.20,304.95 227.50,304.93 227.80,304.90 228.10,304.88 228.40,304.85 228.70,304.81 229.00,304.77 229.30,304.72 229.60,304.66 229.90,304.59 230.20,304.50 230.50,304.40 230.50,304.40 230.80,290.59 231.10,262.59 231.40,240.20 231.50,237.40 231.70,235.23 232.00,232.38 232.30,230.01 232.60,228.10 232.90,226.63 233.20,225.61 233.50,225.00 233.80,224.80 233.80,224.80 234.10,224.92 234.40,225.27 234.70,225.81 235.00,226.54 235.30,227.42 235.60,228.44 235.90,229.56 236.20,230.77 236.50,232.04 236.80,233.35 237.10,234.68 237.40,236.00 237.70,237.28 238.00,238.52 238.20,239.30 238.30,239.69 238.60,240.91 238.90,242.20 239.20,243.56 239.50,244.97 239.80,246.42 240.10,247.89 240.40,249.36 240.70,250.82 241.00,252.25 241.30,253.65 241.60,254.99 241.90,256.27 242.20,257.46 242.40,258.20 242.50,258.56 242.80,259.61 243.10,260.63 243.40,261.62 243.70,262.59 244.00,263.53 244.30,264.45 244.60,265.34 244.90,266.21 245.20,267.06 245.50,267.89 245.80,268.71 246.10,269.50 246.40,270.28 246.70,271.05 246.80,271.30 247.00,271.80 247.30,272.54 247.60,273.27 247.90,273.99 248.20,274.70 248.50,275.39 248.80,276.07 249.10,276.73 249.40,277.38 249.70,278.02 250.00,278.63 250.30,279.24 250.60,279.82 250.90,280.39 251.20,280.94 251.40,281.30 251.50,281.48 251.80,282.00 252.10,282.50 252.40,283.00 252.70,283.49 253.00,283.96 253.30,284.43 253.60,284.88 253.90,285.32 254.20,285.75 254.50,286.17 254.80,286.58 255.10,286.98 255.40,287.37 255.70,287.75 255.90,288.00 256.00,288.12 256.30,288.49 256.60,288.85 256.90,289.20 257.20,289.55 257.50,289.88 257.80,290.22 258.10,290.54 258.40,290.86 258.70,291.17 259.00,291.46 259.30,291.75 259.60,292.03 259.90,292.30 260.20,292.56 260.50,292.80 260.50,292.80 260.80,293.04 261.10,293.26 261.40,293.48 261.70,293.70 262.00,293.91 262.30,294.11 262.60,294.31 262.90,294.50 263.20,294.68 263.50,294.86 263.80,295.04 264.10,295.21 264.40,295.38 264.70,295.54 265.00,295.70 265.00,295.70 265.30,295.86 265.60,296.01 265.90,296.17 266.20,296.32 266.50,296.47 266.80,296.61 267.10,296.75 267.40,296.89 267.70,297.03 268.00,297.15 268.30,297.28 268.60,297.39 268.90,297.50 269.20,297.60 269.50,297.70 269.50,297.70 269.80,297.79 270.10,297.88 270.40,297.97 270.70,298.05 271.00,298.14 271.30,298.22 271.60,298.30 271.90,298.38 272.20,298.46 272.50,298.53 272.80,298.60 273.10,298.68 273.40,298.75 273.70,298.81 274.00,298.88 274.30,298.95 274.60,299.01 274.90,299.07 275.20,299.13 275.50,299.19 275.80,299.25 276.10,299.30 276.40,299.36 276.70,299.41 277.00,299.46 277.30,299.51 277.60,299.55 277.90,299.60 278.20,299.64 278.50,299.69 278.60,299.70 278.80,299.73 279.10,299.77 279.40,299.81 279.70,299.84 280.00,299.88 280.30,299.92 280.60,299.95 280.90,299.99 281.20,300.02 281.50,300.05 281.80,300.08 282.10,300.11 282.40,300.14 282.70,300.17 283.00,300.20 283.30,300.23 283.60,300.26 283.90,300.29 284.20,300.31 284.50,300.34 284.80,300.37 285.10,300.39 285.40,300.42 285.70,300.44 286.00,300.47 286.30,300.49 286.60,300.51 286.90,300.54 287.20,300.56 287.50,300.58 287.70,300.60 287.80,300.61 288.10,300.63 288.40,300.64 288.70,300.65 289.00,300.66 289.30,300.68 289.60,300.69 289.90,300.71 290.20,300.74 290.50,300.77 290.70,300.80 290.80,301.24 291.10,306.61 291.40,315.10 291.70,322.95 292.00,326.40 292.00,326.40 292.30,326.33 292.60,326.15 292.90,325.85 293.20,325.46 293.50,324.99 293.80,324.45 294.10,323.87 294.40,323.25 294.70,322.61 295.00,321.96 295.30,321.32 295.60,320.71 295.90,320.13 296.20,319.60 296.50,319.14 296.60,319.00 296.80,318.74 297.10,318.36 297.40,318.00 297.70,317.65 298.00,317.31 298.30,316.98 298.60,316.65 298.90,316.33 299.20,316.01 299.30,315.90 299.50,315.69 299.80,315.36 300.10,315.05 300.40,314.73 300.70,314.42 301.00,314.12 301.30,313.83 301.60,313.55 301.90,313.28 302.00,313.20 302.20,313.03 302.50,312.79 302.80,312.55 303.10,312.31 303.40,312.08 303.70,311.85 304.00,311.63 304.30,311.41 304.60,311.20 304.90,310.99 305.20,310.79 305.50,310.59 305.80,310.40 306.10,310.21 306.40,310.03 306.70,309.85 307.00,309.68 307.30,309.51 307.50,309.40 307.60,309.35 307.90,309.19 308.20,309.03 308.50,308.88 308.80,308.73 309.10,308.59 309.40,308.45 309.70,308.31 310.00,308.18 310.30,308.05 310.60,307.92 310.90,307.79 311.20,307.67 311.50,307.54 311.80,307.42 312.10,307.31 312.40,307.19 312.70,307.08 312.90,307.00 313.00,306.96 313.30,306.85 313.60,306.74 313.90,306.63 314.20,306.52 314.50,306.42 314.80,306.31 315.10,306.21 315.40,306.11 315.70,306.01 316.00,305.91 316.30,305.81 316.60,305.72 316.90,305.63 317.20,305.54 317.50,305.45 317.80,305.36 318.10,305.28 318.40,305.20 318.40,305.20 318.70,305.12 319.00,305.04 319.30,304.97 319.60,304.89 319.90,304.82 320.20,304.75 320.50,304.68 320.80,304.61 321.10,304.54 321.40,304.47 321.70,304.41 322.00,304.35 322.30,304.28 322.60,304.22 322.90,304.17 323.20,304.11 323.50,304.05 323.80,304.00 323.80,304.00 324.10,303.95 324.40,303.90 324.70,303.85 325.00,303.80 325.30,303.75 325.60,303.71 325.90,303.66 326.20,303.62 326.50,303.57 326.80,303.53 327.10,303.49 327.40,303.45 327.70,303.41 328.00,303.37 328.30,303.33 328.60,303.29 328.90,303.25 329.20,303.21 329.30,303.20 329.50,303.17 329.80,303.14 330.10,303.10 330.40,303.06 330.70,303.03 331.00,302.99 331.30,302.96 331.60,302.92 331.90,302.89 332.20,302.85 332.50,302.82 332.80,302.79 333.10,302.76 333.40,302.72 333.70,302.69 334.00,302.67 334.30,302.64 334.60,302.61 334.70,302.60 334.90,302.58 335.20,302.56 335.50,302.53 335.80,302.50 336.10,302.48 336.40,302.46 336.70,302.43 337.00,302.41 337.30,302.39 337.60,302.36 337.90,302.34 338.20,302.32 338.50,302.30 338.80,302.28 339.10,302.26 339.40,302.24 339.70,302.22 340.00,302.20 340.00,302.20 340.30,302.18 340.60,302.17 340.90,302.15 341.20,302.14 341.50,302.12 341.80,302.11 342.10,302.10 342.40,302.09 342.70,302.09 343.00,302.08 343.30,302.07 343.60,302.07 343.90,302.06 344.20,302.05 344.50,302.05 344.80,302.04 345.10,302.03 345.40,302.03 345.70,302.02 346.00,302.01 346.30,302.00 346.60,301.99 346.90,301.98 347.20,301.96 347.50,301.95 347.80,301.93 348.10,301.92 348.40,301.90 348.70,301.87 349.00,301.85 349.30,301.82 349.60,301.80 349.90,301.77 350.20,301.73 350.50,301.70 350.80,301.66 351.10,301.61 351.20,301.60 351.40,300.20 351.70,295.08 352.00,290.40 352.00,290.40 352.30,287.36 352.60,284.58 352.90,282.71 353.10,282.30 353.20,282.31 353.50,282.45 353.80,282.72 354.10,283.12 354.40,283.60 354.70,284.15 355.00,284.73 355.30,285.33 355.60,285.91 355.90,286.46 356.20,286.93 356.40,287.20 356.50,287.32 356.80,287.69 357.10,288.05 357.40,288.40 357.70,288.75 358.00,289.09 358.30,289.42 358.60,289.75 358.90,290.07 359.20,290.38 359.50,290.68 359.80,290.98 360.10,291.27 360.40,291.54 360.70,291.81 361.00,292.07 361.30,292.31 361.60,292.55 361.80,292.70 361.90,292.77 362.20,292.99 362.50,293.20 362.80,293.41 363.10,293.61 363.40,293.80 363.70,293.99 364.00,294.17 364.30,294.35 364.60,294.53 364.90,294.70 365.20,294.86 365.50,295.02 365.80,295.18 366.10,295.33 366.40,295.48 366.70,295.62 367.00,295.76 367.30,295.90 367.30,295.90 367.60,296.03 367.90,296.17 368.20,296.29 368.50,296.42 368.80,296.54 369.10,296.66 369.40,296.78 369.70,296.90 370.00,297.01 370.30,297.12 370.60,297.23 370.90,297.33 371.20,297.43 371.50,297.53 371.80,297.63 372.10,297.72 372.40,297.81 372.70,297.90 372.70,297.90 373.00,297.99 373.30,298.07 373.60,298.15 373.90,298.23 374.20,298.31 374.50,298.38 374.80,298.46 375.10,298.53 375.40,298.60 375.70,298.67 376.00,298.74 376.30,298.81 376.60,298.87 376.90,298.94 377.20,299.00 377.50,299.06 377.80,299.12 378.10,299.18 378.20,299.20 378.40,299.24 378.70,299.30 379.00,299.35 379.30,299.41 379.60,299.47 379.90,299.52 380.20,299.58 380.50,299.63 380.80,299.69 381.10,299.74 381.40,299.79 381.70,299.83 382.00,299.88 382.30,299.93 382.60,299.97 382.90,300.01 383.20,300.05 383.50,300.09 383.60,300.10 383.80,300.12 384.10,300.16 384.40,300.19 384.70,300.22 385.00,300.25 385.30,300.28 385.60,300.31 385.90,300.34 386.20,300.37 386.50,300.40 386.80,300.42 387.10,300.45 387.40,300.47 387.70,300.50 388.00,300.52 388.30,300.54 388.60,300.56 388.90,300.59 389.10,300.60 389.20,300.61 389.50,300.63 389.80,300.65 390.10,300.67 390.40,300.69 390.70,300.71 391.00,300.73 391.30,300.75 391.60,300.77 391.90,300.79 392.20,300.81 392.50,300.83 392.80,300.85 393.10,300.87 393.40,300.89 393.70,300.91 394.00,300.93 394.30,300.94 394.60,300.96 394.90,300.98 395.20,301.00 395.50,301.01 395.80,301.03 396.10,301.04 396.40,301.06 396.70,301.07 397.00,301.09 397.30,301.10 397.60,301.12 397.90,301.13 398.20,301.14 398.50,301.15 398.80,301.16 399.10,301.17 399.40,301.18 399.70,301.19 400.00,301.20 400.00,301.20 400.30,301.21 400.60,301.21 400.90,301.22 401.20,301.23 401.50,301.23 401.80,301.24 402.10,301.24 402.40,301.24 402.70,301.25 403.00,301.25 403.30,301.25 403.60,301.25 403.90,301.26 404.20,301.26 404.50,301.26 404.80,301.26 405.10,301.27 405.40,301.27 405.70,301.27 406.00,301.27 406.30,301.28 406.60,301.28 406.90,301.28 407.20,301.29 407.50,301.29 407.80,301.29 408.10,301.30 408.40,301.31 408.70,301.31 409.00,301.32 409.30,301.33 409.60,301.34 409.90,301.35 410.20,301.36 410.50,301.37 410.80,301.38 411.10,301.40 411.20,301.40 411.40,303.43 411.70,311.43 412.00,320.37 412.30,324.60 412.30,324.60 412.60,324.55 412.90,324.40 413.20,324.17 413.50,323.86 413.80,323.50 414.10,323.09 414.40,322.64 414.70,322.17 415.00,321.69 415.30,321.22 415.60,320.76 415.90,320.33 416.20,319.93 416.40,319.70 416.50,319.59 416.80,319.26 417.10,318.93 417.40,318.60 417.70,318.27 418.00,317.95 418.30,317.63 418.60,317.31 418.90,316.99 419.20,316.68 419.50,316.38 419.80,316.07 420.10,315.77 420.40,315.48 420.70,315.20 421.00,314.91 421.30,314.64 421.60,314.37 421.80,314.20 421.90,314.11 422.20,313.86 422.50,313.61 422.80,313.36 423.10,313.11 423.40,312.87 423.70,312.63 424.00,312.40 424.30,312.17 424.60,311.94 424.90,311.72 425.20,311.50 425.50,311.29 425.80,311.08 426.10,310.87 426.40,310.67 426.70,310.48 427.00,310.29 427.30,310.10 427.30,310.10 427.60,309.92 427.90,309.74 428.20,309.56 428.50,309.39 428.80,309.21 429.10,309.05 429.40,308.88 429.70,308.72 430.00,308.56 430.30,308.40 430.60,308.25 430.90,308.10 431.20,307.96 431.50,307.82 431.80,307.68 432.10,307.55 432.40,307.42 432.70,307.30 432.70,307.30 433.00,307.18 433.30,307.07 433.60,306.95 433.90,306.84 434.20,306.74 434.50,306.63 434.80,306.53 435.10,306.43 435.40,306.33 435.70,306.23 436.00,306.14 436.30,306.05 436.60,305.96 436.90,305.87 437.20,305.78 437.50,305.70 437.80,305.61 438.10,305.53 438.20,305.50 438.40,305.44 438.70,305.36 439.00,305.28 439.30,305.20 439.60,305.12 439.90,305.04 440.20,304.97 440.50,304.89 440.80,304.82 441.10,304.75 441.40,304.67 441.70,304.61 442.00,304.54 442.30,304.47 442.60,304.40 442.90,304.34 443.20,304.28 443.50,304.22 443.60,304.20 443.80,304.16 444.10,304.10 444.40,304.05 444.70,303.99 445.00,303.93 445.30,303.88 445.60,303.83 445.90,303.77 446.20,303.72 446.50,303.67 446.80,303.62 447.10,303.58 447.40,303.53 447.70,303.49 448.00,303.44 448.30,303.40 448.60,303.36 448.90,303.32 449.10,303.30 449.20,303.29 449.50,303.25 449.80,303.22 450.10,303.19 450.40,303.16 450.70,303.13 451.00,303.10 451.30,303.07 451.60,303.04 451.90,303.02 452.20,302.99 452.50,302.96 452.80,302.94 453.10,302.91 453.40,302.89 453.70,302.87 454.00,302.84 454.30,302.82 454.50,302.80 454.60,302.79 454.90,302.77 455.20,302.74 455.50,302.72 455.80,302.69 456.10,302.67 456.40,302.65 456.70,302.62 457.00,302.60 457.30,302.58 457.60,302.56 457.90,302.54 458.20,302.51 458.50,302.49 458.80,302.47 459.10,302.45 459.40,302.44 459.70,302.42 460.00,302.40 460.00,302.40 460.30,302.38 460.60,302.37 460.90,302.35 461.20,302.33 461.50,302.31 461.80,302.30 462.10,302.28 462.40,302.26 462.70,302.24 463.00,302.22 463.30,302.21 463.60,302.19 463.90,302.17 464.20,302.15 464.50,302.14 464.80,302.12 465.10,302.10 465.40,302.09 465.70,302.07 466.00,302.06 466.30,302.04 466.60,302.03 466.90,302.01 467.20,302.00 467.50,301.99 467.80,301.98 468.10,301.97 468.40,301.96 468.70,301.95 469.00,301.94 469.30,301.93 469.60,301.92 469.90,301.92 470.20,301.91 470.50,301.91 470.80,301.90 471.10,301.90 471.40,301.90 471.50,301.90 471.70,303.01 472.00,307.95 472.30,315.12 472.60,322.61 472.90,328.51 473.20,330.90 473.20,330.90 473.50,330.88 473.80,330.81 474.10,330.70 474.40,330.54 474.70,330.36 475.00,330.14 475.30,329.89 475.60,329.61 475.90,329.31 476.20,328.99 476.50,328.65 476.80,328.30 477.10,327.93 477.40,327.56 477.70,327.18 478.00,326.81 478.30,326.43 478.60,326.06 478.90,325.69 479.20,325.34 479.50,325.00 479.80,324.67 480.10,324.37 480.40,324.09 480.50,324.00 480.70,323.83 481.00,323.57 481.30,323.32 481.60,323.07 481.90,322.82 482.20,322.57 482.50,322.32 482.80,322.08 483.10,321.84 483.40,321.60 483.70,321.36 484.00,321.12 484.30,320.89 484.60,320.65 484.90,320.42 485.20,320.19 485.50,319.96 485.80,319.73 486.10,319.50 486.40,319.28 486.70,319.05 487.00,318.82 487.30,318.60 487.30,318.60 487.60,318.37 487.90,318.15 488.20,317.92 488.50,317.69 488.80,317.46 489.10,317.24 489.40,317.01 489.70,316.78 490.00,316.56 490.30,316.33 490.60,316.11 490.90,315.89 491.20,315.67 491.50,315.46 491.80,315.25 492.10,315.04 492.40,314.84 492.70,314.64 493.00,314.45 493.30,314.27 493.60,314.09 493.90,313.91 494.10,313.80 494.20,313.74 494.50,313.58 494.80,313.42 495.10,313.26 495.40,313.11 495.70,312.95 496.00,312.80 496.30,312.66 496.60,312.51 496.90,312.37 497.20,312.23 497.50,312.09 497.80,311.96 498.10,311.82 498.40,311.70 498.70,311.57 499.00,311.44 499.30,311.32 499.60,311.20 499.90,311.08 500.20,310.96 500.50,310.85 500.80,310.74 500.90,310.70 501.10,310.63 501.40,310.52 501.70,310.41 502.00,310.31 502.30,310.20 502.60,310.10 502.90,310.00 503.20,309.90 503.50,309.81 503.80,309.71 504.10,309.62 504.40,309.53 504.70,309.43 505.00,309.34 505.30,309.26 505.60,309.17 505.90,309.08 506.20,309.00 506.50,308.92 506.80,308.84 507.10,308.76 507.40,308.68 507.70,308.60 507.70,308.60 508.00,308.52 508.30,308.45 508.60,308.37 508.90,308.30 509.20,308.23 509.50,308.15 509.80,308.08 510.10,308.01 510.40,307.95 510.70,307.88 511.00,307.81 511.30,307.74 511.60,307.68 511.90,307.62 512.20,307.55 512.50,307.49 512.80,307.43 513.10,307.37 513.40,307.31 513.70,307.25 514.00,307.19 514.30,307.14 514.50,307.10 514.60,307.08 514.90,307.03 515.20,306.97 515.50,306.92 515.80,306.87 516.10,306.81 516.40,306.76 516.70,306.71 517.00,306.66 517.30,306.61 517.60,306.56 517.90,306.51 518.20,306.47 518.50,306.42 518.80,306.37 519.10,306.33 519.40,306.28 519.70,306.24 520.00,306.20 520.30,306.15 520.60,306.11 520.90,306.07 521.20,306.03 521.40,306.00 521.50,305.99 521.80,305.95 522.10,305.91 522.40,305.87 522.70,305.83 523.00,305.79 523.30,305.75 523.60,305.71 523.90,305.67 524.20,305.63 524.50,305.60 524.80,305.56 525.10,305.52 525.40,305.49 525.70,305.45 526.00,305.41 526.30,305.38 526.60,305.34 526.90,305.31 527.20,305.28 527.50,305.24 527.80,305.21 528.10,305.18 528.40,305.15 528.70,305.11 529.00,305.08 529.30,305.05 529.60,305.02 529.90,304.99 530.20,304.96 530.50,304.94 530.80,304.91 530.90,304.90" fill="none" stroke="#D95319" stroke-width="2.4" stroke-linejoin="round" stroke-linecap="butt" clip-path="url(#clipb)"/>
<polyline points="50.80,383.90 51.10,377.75 51.40,371.89 51.70,366.48 52.00,361.66 52.30,357.61 52.50,355.40 52.60,354.43 52.90,351.74 53.20,349.35 53.50,347.22 53.80,345.28 54.10,343.48 54.40,341.77 54.70,340.10 55.00,338.40 55.00,338.40 55.30,336.70 55.60,335.04 55.90,333.43 56.20,331.89 56.50,330.41 56.80,329.00 57.10,327.66 57.40,326.40 57.40,326.40 57.70,325.20 58.00,324.04 58.30,322.92 58.60,321.84 58.90,320.79 59.20,319.77 59.50,318.79 59.80,317.85 60.10,316.94 60.40,316.06 60.70,315.21 61.00,314.40 61.00,314.40 61.30,313.61 61.60,312.83 61.90,312.07 62.20,311.33 62.50,310.63 62.80,309.96 63.10,309.33 63.40,308.75 63.70,308.22 63.90,307.90 64.00,307.75 64.30,307.30 64.60,306.87 64.90,306.46 65.20,306.07 65.50,305.71 65.80,305.37 66.10,305.07 66.40,304.80 66.70,304.57 66.80,304.50 67.00,304.37 67.30,304.18 67.60,304.00 67.90,303.83 68.20,303.67 68.50,303.52 68.80,303.38 69.10,303.26 69.40,303.14 69.70,303.03 70.00,302.94 70.30,302.85 70.50,302.80 70.60,302.78 70.90,302.71 71.20,302.64 71.50,302.58 71.80,302.52 72.10,302.46 72.40,302.41 72.70,302.36 73.00,302.32 73.30,302.28 73.60,302.25 73.90,302.22 74.10,302.20 74.20,302.19 74.50,302.17 74.80,302.15 75.10,302.12 75.40,302.10 75.70,302.08 76.00,302.06 76.30,302.04 76.60,302.03 76.90,302.01 77.20,301.99 77.50,301.98 77.80,301.96 78.10,301.95 78.40,301.94 78.70,301.93 79.00,301.92 79.30,301.91 79.60,301.91 79.90,301.90 80.00,301.90 80.20,301.90 80.50,301.89 80.80,301.89 81.10,301.88 81.40,301.88 81.70,301.88 82.00,301.87 82.30,301.87 82.60,301.87 82.90,301.86 83.20,301.86 83.50,301.85 83.80,301.85 84.10,301.85 84.40,301.84 84.70,301.84 85.00,301.84 85.30,301.83 85.60,301.83 85.90,301.83 86.20,301.82 86.50,301.82 86.80,301.82 87.10,301.81 87.40,301.81 87.70,301.81 88.00,301.80 88.30,301.80 88.60,301.80 88.90,301.80 89.20,301.79 89.50,301.79 89.80,301.79 90.10,301.79 90.40,301.78 90.70,301.78 91.00,301.78 91.30,301.78 91.60,301.77 91.90,301.77 92.20,301.77 92.50,301.77 92.80,301.76 93.10,301.76 93.40,301.76 93.70,301.76 94.00,301.75 94.30,301.75 94.60,301.75 94.90,301.75 95.20,301.75 95.50,301.74 95.80,301.74 96.10,301.74 96.40,301.74 96.70,301.74 97.00,301.74 97.30,301.73 97.60,301.73 97.90,301.73 98.20,301.73 98.50,301.73 98.80,301.73 99.10,301.73 99.40,301.72 99.70,301.72 100.00,301.72 100.30,301.72 100.60,301.72 100.90,301.72 101.20,301.72 101.50,301.72 101.80,301.71 102.10,301.71 102.40,301.71 102.70,301.71 103.00,301.71 103.30,301.71 103.60,301.71 103.90,301.71 104.20,301.71 104.50,301.71 104.80,301.71 105.10,301.71 105.40,301.70 105.70,301.70 106.00,301.70 106.30,301.70 106.60,301.70 106.90,301.70 107.20,301.70 107.50,301.70 107.80,301.70 108.10,301.70 108.40,301.70 108.70,301.70 109.00,301.70 109.30,301.70 109.60,301.70 109.90,301.70 110.20,301.70 110.50,301.70 110.50,301.70 110.80,306.17 111.10,315.11 111.40,321.82 111.50,322.40 111.70,322.29 112.00,321.77 112.30,320.88 112.60,319.73 112.90,318.39 113.20,316.95 113.50,315.50 113.80,314.12 114.10,312.91 114.40,311.95 114.50,311.70 114.70,311.25 115.00,310.59 115.30,309.97 115.60,309.38 115.90,308.83 116.20,308.32 116.50,307.85 116.80,307.42 117.10,307.04 117.40,306.70 117.50,306.60 117.70,306.40 118.00,306.12 118.30,305.85 118.60,305.59 118.90,305.35 119.20,305.12 119.50,304.90 119.80,304.69 120.10,304.50 120.40,304.33 120.70,304.17 121.00,304.02 121.30,303.89 121.60,303.77 121.80,303.70 121.90,303.67 122.20,303.57 122.50,303.48 122.80,303.39 123.10,303.30 123.40,303.22 123.70,303.13 124.00,303.06 124.30,302.98 124.60,302.91 124.90,302.84 125.20,302.77 125.50,302.71 125.80,302.65 126.10,302.60 126.40,302.54 126.70,302.49 127.00,302.44 127.30,302.40 127.60,302.36 127.90,302.32 128.20,302.29 128.50,302.25 128.80,302.23 129.10,302.20 129.10,302.20 129.40,302.18 129.70,302.15 130.00,302.13 130.30,302.11 130.60,302.09 130.90,302.06 131.20,302.04 131.50,302.02 131.80,302.01 132.10,301.99 132.40,301.97 132.70,301.96 133.00,301.94 133.30,301.93 133.60,301.92 133.90,301.91 134.20,301.91 134.50,301.90 134.80,301.90 135.00,301.90 135.10,301.90 135.40,301.90 135.70,301.90 136.00,301.90 136.30,301.90 136.60,301.90 136.90,301.90 137.20,301.90 137.50,301.90 137.80,301.90 138.10,301.90 138.40,301.90 138.70,301.90 139.00,301.90 139.30,301.90 139.60,301.90 139.90,301.90 140.20,301.90 140.50,301.90 140.80,301.90 141.10,301.90 141.40,301.90 141.70,301.90 142.00,301.90 142.30,301.90 142.60,301.90 142.90,301.90 143.20,301.90 143.50,301.90 143.80,301.90 144.10,301.90 144.40,301.90 144.70,301.90 145.00,301.90 145.30,301.90 145.60,301.90 145.90,301.90 146.20,301.90 146.50,301.90 146.80,301.90 147.10,301.90 147.40,301.90 147.70,301.90 148.00,301.90 148.30,301.90 148.60,301.90 148.90,301.90 149.20,301.90 149.50,301.90 149.80,301.90 150.10,301.90 150.40,301.90 150.70,301.90 151.00,301.90 151.30,301.90 151.60,301.90 151.90,301.90 152.20,301.90 152.50,301.90 152.80,301.90 153.10,301.90 153.40,301.90 153.70,301.90 154.00,301.90 154.30,301.90 154.60,301.90 154.90,301.90 155.20,301.90 155.50,301.90 155.80,301.90 156.10,301.90 156.40,301.90 156.70,301.90 157.00,301.90 157.30,301.90 157.60,301.90 157.90,301.90 158.20,301.90 158.50,301.90 158.80,301.90 159.10,301.90 159.40,301.90 159.70,301.90 160.00,301.90 160.30,301.90 160.60,301.90 160.90,301.90 161.20,301.90 161.50,301.90 161.80,301.90 162.10,301.90 162.40,301.90 162.70,301.90 163.00,301.90 163.30,301.90 163.60,301.90 163.90,301.90 164.20,301.90 164.50,301.90 164.80,301.90 165.10,301.90 165.40,301.90 165.70,301.90 166.00,301.90 166.30,301.90 166.60,301.90 166.90,301.90 167.20,301.90 167.50,301.90 167.80,301.90 168.10,301.90 168.40,301.90 168.70,301.90 169.00,301.90 169.30,301.90 169.60,301.90 169.90,301.90 170.20,301.90 170.50,301.90 170.80,301.90 170.80,301.90 171.10,309.14 171.40,323.61 171.70,334.46 171.80,335.40 172.00,335.28 172.30,334.67 172.60,333.63 172.90,332.22 173.20,330.54 173.50,328.65 173.80,326.63 174.10,324.57 174.40,322.54 174.70,320.62 175.00,318.88 175.30,317.41 175.60,316.29 175.70,316.00 175.90,315.49 176.20,314.78 176.50,314.14 176.80,313.54 177.10,312.99 177.40,312.47 177.70,311.99 178.00,311.53 178.30,311.08 178.60,310.64 178.90,310.20 178.90,310.20 179.20,309.76 179.50,309.33 179.80,308.90 180.10,308.49 180.40,308.10 180.70,307.73 181.00,307.38 181.30,307.06 181.60,306.77 181.80,306.60 181.90,306.52 182.20,306.28 182.50,306.06 182.80,305.84 183.10,305.64 183.40,305.45 183.70,305.27 184.00,305.10 184.30,304.94 184.60,304.79 184.90,304.65 185.20,304.52 185.50,304.40 185.50,304.40 185.80,304.29 186.10,304.18 186.40,304.08 186.70,303.98 187.00,303.89 187.30,303.80 187.60,303.72 187.90,303.64 188.20,303.57 188.50,303.51 188.80,303.45 189.10,303.40 189.10,303.40 189.40,303.36 189.70,303.31 190.00,303.27 190.30,303.24 190.60,303.20 190.90,303.17 191.20,303.13 191.50,303.10 191.80,303.07 192.10,303.04 192.40,303.02 192.70,302.99 193.00,302.96 193.30,302.94 193.60,302.92 193.90,302.89 194.20,302.87 194.50,302.85 194.80,302.82 195.10,302.80 195.40,302.78 195.70,302.75 196.00,302.73 196.30,302.71 196.40,302.70 196.60,302.68 196.90,302.66 197.20,302.63 197.50,302.60 197.80,302.58 198.10,302.55 198.40,302.52 198.70,302.49 199.00,302.47 199.30,302.44 199.60,302.41 199.90,302.39 200.20,302.36 200.50,302.34 200.80,302.31 201.10,302.29 201.40,302.27 201.70,302.26 202.00,302.24 202.30,302.23 202.60,302.22 202.90,302.21 203.20,302.20 203.50,302.20 203.60,302.20 203.80,302.20 204.10,302.20 204.40,302.20 204.70,302.20 205.00,302.20 205.30,302.20 205.60,302.20 205.90,302.20 206.20,302.20 206.50,302.20 206.80,302.20 207.10,302.20 207.40,302.20 207.70,302.20 208.00,302.20 208.30,302.20 208.60,302.20 208.90,302.20 209.20,302.20 209.50,302.20 209.80,302.20 210.10,302.20 210.40,302.20 210.70,302.20 211.00,302.20 211.30,302.20 211.60,302.20 211.90,302.20 212.20,302.20 212.50,302.20 212.80,302.20 213.10,302.20 213.40,302.20 213.70,302.20 214.00,302.20 214.30,302.20 214.60,302.20 214.90,302.20 215.20,302.20 215.50,302.20 215.80,302.20 216.10,302.20 216.40,302.20 216.70,302.20 217.00,302.20 217.30,302.20 217.60,302.20 217.90,302.20 218.20,302.20 218.50,302.20 218.80,302.20 219.10,302.20 219.40,302.20 219.70,302.20 220.00,302.20 220.30,302.20 220.60,302.20 220.90,302.20 221.20,302.20 221.50,302.20 221.80,302.20 222.10,302.20 222.40,302.20 222.70,302.20 223.00,302.20 223.30,302.20 223.60,302.20 223.90,302.20 224.20,302.20 224.50,302.20 224.80,302.20 225.10,302.20 225.40,302.20 225.70,302.20 226.00,302.20 226.30,302.20 226.60,302.20 226.90,302.20 227.20,302.20 227.50,302.20 227.80,302.20 228.10,302.20 228.40,302.20 228.70,302.20 229.00,302.20 229.30,302.20 229.60,302.20 229.80,302.20 229.90,302.20 230.20,302.20 230.50,302.20 230.80,302.20 231.10,302.20 231.20,302.20 231.40,288.64 231.60,270.40 231.70,265.77 232.00,252.94 232.30,243.06 232.60,237.88 232.70,237.50 232.90,238.28 233.20,241.78 233.50,246.91 233.80,252.35 234.10,256.80 234.10,256.80 234.40,260.26 234.70,263.60 235.00,266.77 235.30,269.74 235.60,272.46 235.90,274.90 235.90,274.90 236.20,277.13 236.50,279.24 236.80,281.20 237.10,282.99 237.40,284.56 237.70,285.90 237.70,285.90 238.00,287.07 238.30,288.17 238.60,289.19 238.90,290.14 239.20,291.01 239.50,291.82 239.80,292.55 240.10,293.22 240.40,293.82 240.50,294.00 240.70,294.35 241.00,294.87 241.30,295.35 241.60,295.81 241.90,296.25 242.20,296.66 242.50,297.04 242.80,297.39 243.10,297.72 243.40,298.02 243.70,298.29 244.00,298.53 244.10,298.60 244.30,298.74 244.60,298.95 244.90,299.14 245.20,299.32 245.50,299.50 245.80,299.66 246.10,299.81 246.40,299.95 246.70,300.07 247.00,300.19 247.30,300.29 247.60,300.37 247.70,300.40 247.90,300.45 248.20,300.52 248.50,300.59 248.80,300.66 249.10,300.73 249.40,300.79 249.70,300.84 250.00,300.90 250.30,300.95 250.60,301.00 250.90,301.05 251.20,301.09 251.50,301.13 251.80,301.17 252.10,301.20 252.40,301.23 252.70,301.26 253.00,301.29 253.20,301.30 253.30,301.31 253.60,301.33 253.90,301.35 254.20,301.37 254.50,301.39 254.80,301.41 255.10,301.43 255.40,301.45 255.70,301.46 256.00,301.48 256.30,301.50 256.60,301.51 256.90,301.52 257.20,301.54 257.50,301.55 257.80,301.56 258.10,301.57 258.40,301.58 258.70,301.59 259.00,301.59 259.30,301.60 259.60,301.60 259.90,301.60 260.00,301.60 260.20,301.60 260.50,301.60 260.80,301.60 261.10,301.60 261.40,301.60 261.70,301.60 262.00,301.60 262.30,301.60 262.60,301.60 262.90,301.60 263.20,301.60 263.50,301.60 263.80,301.60 264.10,301.60 264.40,301.60 264.70,301.60 265.00,301.60 265.30,301.60 265.60,301.60 265.90,301.60 266.20,301.60 266.50,301.60 266.80,301.60 267.10,301.60 267.40,301.60 267.70,301.60 268.00,301.60 268.30,301.60 268.60,301.60 268.90,301.60 269.20,301.60 269.50,301.60 269.80,301.60 270.10,301.60 270.40,301.60 270.70,301.60 271.00,301.60 271.30,301.60 271.60,301.60 271.90,301.60 272.20,301.60 272.50,301.60 272.80,301.60 273.10,301.60 273.40,301.60 273.70,301.60 274.00,301.60 274.30,301.60 274.60,301.60 274.90,301.60 275.20,301.60 275.50,301.60 275.80,301.60 276.10,301.60 276.40,301.60 276.70,301.60 277.00,301.60 277.30,301.60 277.60,301.60 277.90,301.60 278.20,301.60 278.50,301.60 278.80,301.60 279.10,301.60 279.40,301.60 279.70,301.60 280.00,301.60 280.30,301.60 280.60,301.60 280.90,301.60 281.20,301.60 281.50,301.60 281.80,301.60 282.10,301.60 282.40,301.60 282.70,301.60 283.00,301.60 283.30,301.60 283.60,301.60 283.90,301.60 284.20,301.60 284.50,301.60 284.80,301.60 285.10,301.60 285.40,301.60 285.70,301.60 286.00,301.60 286.30,301.60 286.60,301.60 286.90,301.60 287.20,301.60 287.50,301.60 287.80,301.60 288.10,301.60 288.40,301.60 288.70,301.60 289.00,301.60 289.30,301.60 289.60,301.60 289.90,301.60 290.20,301.60 290.50,301.60 290.80,301.60 290.90,301.60 291.10,302.89 291.40,307.99 291.70,313.70 292.00,316.40 292.00,316.40 292.30,316.27 292.60,315.89 292.90,315.32 293.20,314.59 293.50,313.76 293.80,312.85 294.10,311.92 294.40,311.01 294.70,310.15 295.00,309.40 295.30,308.80 295.30,308.80 295.60,308.29 295.90,307.80 296.20,307.33 296.50,306.89 296.80,306.49 297.10,306.12 297.40,305.80 297.50,305.70 297.70,305.52 298.00,305.26 298.30,305.03 298.60,304.82 298.90,304.63 299.20,304.44 299.50,304.26 299.60,304.20 299.80,304.08 300.10,303.91 300.40,303.73 300.70,303.57 301.00,303.42 301.30,303.28 301.60,303.17 301.80,303.10 301.90,303.07 302.20,302.98 302.50,302.90 302.80,302.82 303.10,302.74 303.40,302.67 303.70,302.60 304.00,302.53 304.30,302.47 304.60,302.41 304.90,302.35 305.20,302.29 305.50,302.24 305.80,302.20 306.10,302.15 306.40,302.11 306.70,302.07 307.00,302.03 307.30,302.00 307.30,302.00 307.60,301.97 307.90,301.94 308.20,301.91 308.50,301.88 308.80,301.85 309.10,301.83 309.40,301.80 309.70,301.78 310.00,301.76 310.30,301.73 310.60,301.71 310.90,301.69 311.20,301.68 311.50,301.66 311.80,301.64 312.10,301.63 312.40,301.61 312.70,301.60 312.70,301.60 313.00,301.59 313.30,301.57 313.60,301.56 313.90,301.55 314.20,301.54 314.50,301.53 314.80,301.51 315.10,301.50 315.40,301.49 315.70,301.48 316.00,301.47 316.30,301.46 316.60,301.44 316.90,301.43 317.20,301.42 317.50,301.41 317.80,301.40 318.10,301.39 318.40,301.38 318.70,301.38 319.00,301.37 319.30,301.36 319.60,301.35 319.90,301.35 320.20,301.34 320.50,301.33 320.80,301.33 321.10,301.32 321.40,301.32 321.70,301.31 322.00,301.31 322.30,301.31 322.60,301.30 322.90,301.30 323.20,301.30 323.50,301.30 323.60,301.30 323.80,301.30 324.10,301.30 324.40,301.30 324.70,301.30 325.00,301.30 325.30,301.30 325.60,301.30 325.90,301.31 326.20,301.31 326.50,301.31 326.80,301.31 327.10,301.31 327.40,301.32 327.70,301.32 328.00,301.32 328.30,301.32 328.60,301.33 328.90,301.33 329.20,301.33 329.50,301.34 329.80,301.34 330.10,301.34 330.40,301.35 330.70,301.35 331.00,301.35 331.30,301.36 331.60,301.36 331.90,301.37 332.20,301.37 332.50,301.37 332.80,301.38 333.10,301.38 333.40,301.39 333.70,301.39 334.00,301.40 334.30,301.40 334.60,301.40 334.90,301.41 335.20,301.41 335.50,301.42 335.80,301.42 336.10,301.43 336.40,301.43 336.70,301.44 337.00,301.44 337.30,301.45 337.60,301.45 337.90,301.46 338.20,301.46 338.50,301.47 338.80,301.47 339.10,301.48 339.40,301.48 339.70,301.49 340.00,301.49 340.30,301.50 340.60,301.50 340.90,301.51 341.20,301.51 341.50,301.51 341.80,301.52 342.10,301.52 342.40,301.53 342.70,301.53 343.00,301.54 343.30,301.54 343.60,301.54 343.90,301.55 344.20,301.55 344.50,301.56 344.80,301.56 345.10,301.56 345.40,301.57 345.70,301.57 346.00,301.57 346.30,301.57 346.60,301.58 346.90,301.58 347.20,301.58 347.50,301.59 347.80,301.59 348.10,301.59 348.40,301.59 348.70,301.59 349.00,301.59 349.30,301.60 349.60,301.60 349.90,301.60 350.20,301.60 350.50,301.60 350.80,301.60 351.10,301.60 351.20,301.60 351.40,300.15 351.70,294.43 352.00,288.03 352.30,285.00 352.30,285.00 352.60,285.48 352.90,286.72 353.20,288.43 353.50,290.32 353.80,292.10 354.10,293.48 354.20,293.80 354.40,294.34 354.70,295.09 355.00,295.78 355.30,296.39 355.60,296.94 355.90,297.43 356.20,297.85 356.40,298.10 356.50,298.22 356.80,298.55 357.10,298.85 357.40,299.13 357.70,299.39 358.00,299.63 358.30,299.84 358.60,300.03 358.90,300.20 359.10,300.30 359.20,300.35 359.50,300.48 359.80,300.61 360.10,300.74 360.40,300.85 360.70,300.95 361.00,301.04 361.30,301.11 361.60,301.17 361.80,301.20 361.90,301.21 362.20,301.25 362.50,301.29 362.80,301.32 363.10,301.35 363.40,301.39 363.70,301.42 364.00,301.44 364.30,301.47 364.60,301.49 364.90,301.51 365.20,301.53 365.50,301.55 365.80,301.57 366.10,301.58 366.40,301.59 366.70,301.59 367.00,301.60 367.30,301.60 367.30,301.60 367.60,301.60 367.90,301.60 368.20,301.60 368.50,301.60 368.80,301.60 369.10,301.60 369.40,301.60 369.70,301.60 370.00,301.60 370.30,301.59 370.60,301.59 370.90,301.59 371.20,301.59 371.50,301.59 371.80,301.59 372.10,301.59 372.40,301.59 372.70,301.58 373.00,301.58 373.30,301.58 373.60,301.58 373.90,301.58 374.20,301.57 374.50,301.57 374.80,301.57 375.10,301.57 375.40,301.56 375.70,301.56 376.00,301.56 376.30,301.56 376.60,301.55 376.90,301.55 377.20,301.55 377.50,301.55 377.80,301.54 378.10,301.54 378.40,301.54 378.70,301.53 379.00,301.53 379.30,301.53 379.60,301.52 379.90,301.52 380.20,301.52 380.50,301.51 380.80,301.51 381.10,301.51 381.40,301.50 381.70,301.50 382.00,301.50 382.30,301.49 382.60,301.49 382.90,301.48 383.20,301.48 383.50,301.48 383.80,301.47 384.10,301.47 384.40,301.47 384.70,301.46 385.00,301.46 385.30,301.45 385.60,301.45 385.90,301.45 386.20,301.44 386.50,301.44 386.80,301.43 387.10,301.43 387.40,301.43 387.70,301.42 388.00,301.42 388.30,301.41 388.60,301.41 388.90,301.40 389.20,301.40 389.50,301.40 389.80,301.39 390.10,301.39 390.40,301.38 390.70,301.38 391.00,301.38 391.30,301.37 391.60,301.37 391.90,301.36 392.20,301.36 392.50,301.36 392.80,301.35 393.10,301.35 393.40,301.34 393.70,301.34 394.00,301.34 394.30,301.33 394.60,301.33 394.90,301.32 395.20,301.32 395.50,301.32 395.80,301.31 396.10,301.31 396.40,301.31 396.70,301.30 397.00,301.30 397.30,301.29 397.60,301.29 397.90,301.29 398.20,301.28 398.50,301.28 398.80,301.28 399.10,301.27 399.40,301.27 399.70,301.27 400.00,301.26 400.30,301.26 400.60,301.26 400.90,301.26 401.20,301.25 401.50,301.25 401.80,301.25 402.10,301.24 402.40,301.24 402.70,301.24 403.00,301.24 403.30,301.23 403.60,301.23 403.90,301.23 404.20,301.23 404.50,301.23 404.80,301.22 405.10,301.22 405.40,301.22 405.70,301.22 406.00,301.22 406.30,301.21 406.60,301.21 406.90,301.21 407.20,301.21 407.50,301.21 407.80,301.21 408.10,301.21 408.40,301.20 408.70,301.20 409.00,301.20 409.30,301.20 409.60,301.20 409.90,301.20 410.20,301.20 410.50,301.20 410.80,301.20 411.10,301.20 411.20,301.20 411.40,304.26 411.70,314.60 412.00,320.80 412.00,320.80 412.30,320.24 412.60,318.83 412.90,316.97 413.20,315.05 413.50,313.48 413.60,313.10 413.80,312.46 414.10,311.56 414.40,310.76 414.70,310.03 415.00,309.38 415.30,308.80 415.30,308.80 415.60,308.27 415.90,307.77 416.20,307.30 416.50,306.87 416.80,306.47 417.10,306.11 417.40,305.80 417.50,305.70 417.70,305.52 418.00,305.26 418.30,305.02 418.60,304.80 418.90,304.60 419.20,304.42 419.50,304.25 419.60,304.20 419.80,304.10 420.10,303.95 420.40,303.82 420.70,303.69 421.00,303.57 421.30,303.47 421.60,303.36 421.80,303.30 421.90,303.27 422.20,303.18 422.50,303.08 422.80,302.99 423.10,302.91 423.40,302.82 423.70,302.74 424.00,302.66 424.30,302.58 424.60,302.50 424.90,302.43 425.20,302.36 425.50,302.29 425.80,302.23 426.10,302.18 426.40,302.13 426.70,302.08 427.00,302.04 427.30,302.00 427.30,302.00 427.60,301.97 427.90,301.94 428.20,301.91 428.50,301.88 428.80,301.85 429.10,301.82 429.40,301.80 429.70,301.77 430.00,301.75 430.30,301.73 430.60,301.71 430.90,301.69 431.20,301.67 431.50,301.66 431.80,301.64 432.10,301.63 432.40,301.61 432.70,301.60 432.70,301.60 433.00,301.59 433.30,301.57 433.60,301.56 433.90,301.55 434.20,301.54 434.50,301.53 434.80,301.51 435.10,301.50 435.40,301.49 435.70,301.48 436.00,301.47 436.30,301.46 436.60,301.44 436.90,301.43 437.20,301.42 437.50,301.41 437.80,301.40 438.10,301.39 438.40,301.38 438.70,301.38 439.00,301.37 439.30,301.36 439.60,301.35 439.90,301.35 440.20,301.34 440.50,301.33 440.80,301.33 441.10,301.32 441.40,301.32 441.70,301.31 442.00,301.31 442.30,301.31 442.60,301.30 442.90,301.30 443.20,301.30 443.50,301.30 443.60,301.30 443.80,301.30 444.10,301.30 444.40,301.30 444.70,301.30 445.00,301.30 445.30,301.30 445.60,301.30 445.90,301.30 446.20,301.30 446.50,301.30 446.80,301.30 447.10,301.30 447.40,301.30 447.70,301.30 448.00,301.30 448.30,301.30 448.60,301.30 448.90,301.30 449.20,301.30 449.50,301.30 449.80,301.30 450.10,301.30 450.40,301.30 450.70,301.30 451.00,301.30 451.30,301.30 451.60,301.30 451.90,301.30 452.20,301.30 452.50,301.30 452.80,301.30 453.10,301.30 453.40,301.31 453.70,301.31 454.00,301.31 454.30,301.31 454.60,301.31 454.90,301.31 455.20,301.31 455.50,301.31 455.80,301.31 456.10,301.31 456.40,301.31 456.70,301.31 457.00,301.31 457.30,301.31 457.60,301.31 457.90,301.31 458.20,301.32 458.50,301.32 458.80,301.32 459.10,301.32 459.40,301.32 459.70,301.32 460.00,301.32 460.30,301.32 460.60,301.32 460.90,301.33 461.20,301.33 461.50,301.33 461.80,301.33 462.10,301.33 462.40,301.33 462.70,301.33 463.00,301.34 463.30,301.34 463.60,301.34 463.90,301.34 464.20,301.34 464.50,301.34 464.80,301.35 465.10,301.35 465.40,301.35 465.70,301.35 466.00,301.35 466.30,301.36 466.60,301.36 466.90,301.36 467.20,301.36 467.50,301.36 467.80,301.37 468.10,301.37 468.40,301.37 468.70,301.37 469.00,301.38 469.30,301.38 469.60,301.38 469.90,301.38 470.20,301.39 470.50,301.39 470.80,301.39 471.10,301.40 471.40,301.40 471.50,301.40 471.70,304.04 472.00,314.10 472.30,324.16 472.50,326.80 472.60,326.77 472.90,326.29 473.20,325.37 473.50,324.11 473.80,322.64 474.10,321.09 474.40,319.58 474.70,318.24 475.00,317.20 475.00,317.20 475.30,316.36 475.60,315.57 475.90,314.81 476.20,314.09 476.50,313.42 476.80,312.78 477.10,312.18 477.40,311.62 477.70,311.10 477.70,311.10 478.00,310.61 478.30,310.14 478.60,309.69 478.90,309.27 479.20,308.87 479.50,308.49 479.80,308.13 480.10,307.80 480.40,307.50 480.50,307.40 480.70,307.21 481.00,306.93 481.30,306.66 481.60,306.41 481.90,306.16 482.20,305.92 482.50,305.70 482.80,305.50 483.10,305.31 483.40,305.14 483.70,304.99 483.90,304.90 484.00,304.86 484.30,304.74 484.60,304.63 484.90,304.53 485.20,304.44 485.50,304.35 485.80,304.27 486.10,304.19 486.40,304.11 486.70,304.04 487.00,303.97 487.30,303.90 487.30,303.90 487.60,303.83 487.90,303.76 488.20,303.69 488.50,303.62 488.80,303.55 489.10,303.48 489.40,303.41 489.70,303.34 490.00,303.27 490.30,303.21 490.60,303.15 490.90,303.08 491.20,303.03 491.50,302.97 491.80,302.91 492.10,302.86 492.40,302.81 492.70,302.77 493.00,302.73 493.30,302.69 493.60,302.65 493.90,302.62 494.10,302.60 494.20,302.59 494.50,302.56 494.80,302.54 495.10,302.52 495.40,302.49 495.70,302.47 496.00,302.45 496.30,302.43 496.60,302.41 496.90,302.39 497.20,302.37 497.50,302.35 497.80,302.34 498.10,302.32 498.40,302.30 498.70,302.29 499.00,302.28 499.30,302.26 499.60,302.25 499.90,302.24 500.20,302.23 500.50,302.21 500.80,302.20 500.90,302.20 501.10,302.19 501.40,302.18 501.70,302.17 502.00,302.16 502.30,302.15 502.60,302.14 502.90,302.13 503.20,302.12 503.50,302.11 503.80,302.10 504.10,302.09 504.40,302.09 504.70,302.08 505.00,302.07 505.30,302.06 505.60,302.05 505.90,302.04 506.20,302.03 506.50,302.02 506.80,302.02 507.10,302.01 507.40,302.00 507.70,301.99 508.00,301.99 508.30,301.98 508.60,301.97 508.90,301.96 509.20,301.96 509.50,301.95 509.80,301.95 510.10,301.94 510.40,301.94 510.70,301.93 511.00,301.93 511.30,301.92 511.60,301.92 511.90,301.92 512.20,301.91 512.50,301.91 512.80,301.91 513.10,301.90 513.40,301.90 513.70,301.90 514.00,301.90 514.30,301.90 514.50,301.90 514.60,301.90 514.90,301.90 515.20,301.90 515.50,301.90 515.80,301.90 516.10,301.90 516.40,301.90 516.70,301.90 517.00,301.90 517.30,301.90 517.60,301.90 517.90,301.90 518.20,301.90 518.50,301.90 518.80,301.90 519.10,301.90 519.40,301.90 519.70,301.90 520.00,301.90 520.30,301.90 520.60,301.90 520.90,301.90 521.20,301.90 521.50,301.90 521.80,301.90 522.10,301.90 522.40,301.90 522.70,301.90 523.00,301.90 523.30,301.90 523.60,301.90 523.90,301.90 524.20,301.90 524.50,301.90 524.80,301.90 525.10,301.90 525.40,301.90 525.70,301.90 526.00,301.90 526.30,301.90 526.60,301.90 526.90,301.90 527.20,301.90 527.50,301.90 527.80,301.90 528.10,301.90 528.40,301.90 528.70,301.90 529.00,301.90 529.30,301.90 529.60,301.90 529.90,301.90 530.20,301.90 530.50,301.90 530.80,301.90 530.90,301.90" fill="none" stroke="#EDB120" stroke-width="2.4" stroke-linejoin="round" stroke-linecap="butt" clip-path="url(#clipb)"/>
<rect x="63.4" y="315.9" width="233.2" height="61.3" fill="#fff" stroke="#4d4d4d" stroke-width="1"/>
<line x1="66.4" y1="326.8" x2="96.7" y2="326.8" stroke="#0072BD" stroke-width="2.4"/>
<text x="99.3" y="331.1" transform="rotate(0.03 99.3 331.1)" class="lg" textLength="178.6" lengthAdjust="spacing">PI Non-Linear Controller</text>
<line x1="66.4" y1="346.6" x2="96.7" y2="346.6" stroke="#D95319" stroke-width="2.4"/>
<text x="99.3" y="350.9" transform="rotate(0.03 99.3 350.9)" class="lg" textLength="187.0" lengthAdjust="spacing">Passivity-Based Controller</text>
<line x1="66.4" y1="366.5" x2="96.7" y2="366.5" stroke="#EDB120" stroke-width="2.4"/>
<text x="99.3" y="370.8" transform="rotate(0.03 99.3 370.8)" class="lg" textLength="193.3" lengthAdjust="spacing">Linear Controller Proposed</text>
<rect x="486.7" y="240.4" width="21" height="37" fill="none" stroke="#333" stroke-width="1"/><text x="497.2" y="262.2" class="bx" text-anchor="middle">b</text>
<text transform="translate(16.5,304.4) rotate(-90)" text-anchor="middle" class="lb"><tspan class="it">v</tspan><tspan class="it sub" dy="2.6">o</tspan><tspan class="pr" dy="-1.9">(</tspan><tspan class="it" dy="-0.7">V</tspan><tspan class="pr" dy="0.7">)</tspan></text>
<line x1="180.80" y1="430.5" x2="180.80" y2="587.5" stroke="#e8e8e8" stroke-width="1"/>
<line x1="300.80" y1="430.5" x2="300.80" y2="587.5" stroke="#e8e8e8" stroke-width="1"/>
<line x1="420.80" y1="430.5" x2="420.80" y2="587.5" stroke="#e8e8e8" stroke-width="1"/>
<line x1="60.8" y1="548.25" x2="540.8" y2="548.25" stroke="#e8e8e8" stroke-width="1"/>
<line x1="60.8" y1="509.00" x2="540.8" y2="509.00" stroke="#e8e8e8" stroke-width="1"/>
<line x1="60.8" y1="469.75" x2="540.8" y2="469.75" stroke="#e8e8e8" stroke-width="1"/>
<rect x="60.8" y="430.5" width="480.00" height="157.00" fill="none" stroke="#505050" stroke-width="1"/>
<text x="60.80" y="609" transform="rotate(0.03 60.80 609)" text-anchor="middle" class="tk">0</text>
<line x1="180.80" y1="587.5" x2="180.80" y2="582.7" stroke="#505050" stroke-width="1"/>
<line x1="180.80" y1="430.5" x2="180.80" y2="435.3" stroke="#505050" stroke-width="1"/>
<text x="180.80" y="609" transform="rotate(0.03 180.80 609)" text-anchor="middle" class="tk">0.5</text>
<line x1="300.80" y1="587.5" x2="300.80" y2="582.7" stroke="#505050" stroke-width="1"/>
<line x1="300.80" y1="430.5" x2="300.80" y2="435.3" stroke="#505050" stroke-width="1"/>
<text x="300.80" y="609" transform="rotate(0.03 300.80 609)" text-anchor="middle" class="tk">1</text>
<line x1="420.80" y1="587.5" x2="420.80" y2="582.7" stroke="#505050" stroke-width="1"/>
<line x1="420.80" y1="430.5" x2="420.80" y2="435.3" stroke="#505050" stroke-width="1"/>
<text x="420.80" y="609" transform="rotate(0.03 420.80 609)" text-anchor="middle" class="tk">1.5</text>
<text x="540.80" y="609" transform="rotate(0.03 540.80 609)" text-anchor="middle" class="tk">2</text>
<text x="55.20" y="593.80" transform="rotate(0.03 55.20 593.80)" text-anchor="end" class="tk">0</text>
<line x1="60.8" y1="548.25" x2="65.6" y2="548.25" stroke="#505050" stroke-width="1"/>
<line x1="540.8" y1="548.25" x2="536.0" y2="548.25" stroke="#505050" stroke-width="1"/>
<text x="55.20" y="554.55" transform="rotate(0.03 55.20 554.55)" text-anchor="end" class="tk">0.5</text>
<line x1="60.8" y1="509.00" x2="65.6" y2="509.00" stroke="#505050" stroke-width="1"/>
<line x1="540.8" y1="509.00" x2="536.0" y2="509.00" stroke="#505050" stroke-width="1"/>
<text x="55.20" y="515.30" transform="rotate(0.03 55.20 515.30)" text-anchor="end" class="tk">1</text>
<line x1="60.8" y1="469.75" x2="65.6" y2="469.75" stroke="#505050" stroke-width="1"/>
<line x1="540.8" y1="469.75" x2="536.0" y2="469.75" stroke="#505050" stroke-width="1"/>
<text x="55.20" y="476.05" transform="rotate(0.03 55.20 476.05)" text-anchor="end" class="tk">1.5</text>
<text x="55.20" y="436.80" transform="rotate(0.03 55.20 436.80)" text-anchor="end" class="tk">2</text>
<polyline points="61.00,587.90 61.30,557.18 61.60,533.31 61.90,518.97 62.10,516.00 62.20,516.81 62.50,527.12 62.80,544.53 63.10,562.96 63.40,576.32 63.60,579.40 63.70,578.40 64.00,568.48 64.30,561.40 64.30,561.40 64.60,564.59 64.90,572.03 65.20,580.53 65.50,586.90 65.70,588.40 65.80,588.09 66.10,584.10 66.40,577.37 66.70,570.25 67.00,565.09 67.20,563.90 67.30,564.05 67.60,565.98 67.90,569.15 68.20,572.32 68.50,574.25 68.60,574.40 68.80,573.98 69.10,572.21 69.40,569.85 69.70,567.79 70.00,566.90 70.00,566.90 70.30,567.44 70.60,568.67 70.90,570.00 71.20,570.83 71.30,570.90 71.50,570.82 71.80,570.44 72.10,569.90 72.40,569.33 72.70,568.88 73.00,568.70 73.00,568.70 73.30,568.71 73.60,568.72 73.90,568.75 74.20,568.78 74.50,568.82 74.80,568.87 75.10,568.91 75.40,568.96 75.70,569.00 76.00,569.03 76.30,569.06 76.60,569.09 76.90,569.10 77.00,569.10 77.20,569.10 77.50,569.10 77.80,569.10 78.10,569.11 78.40,569.11 78.70,569.11 79.00,569.11 79.30,569.11 79.60,569.11 79.90,569.12 80.20,569.12 80.50,569.12 80.80,569.12 81.10,569.12 81.40,569.12 81.70,569.12 82.00,569.12 82.30,569.13 82.60,569.13 82.90,569.13 83.20,569.13 83.50,569.13 83.80,569.13 84.10,569.13 84.40,569.13 84.70,569.13 85.00,569.13 85.30,569.13 85.60,569.13 85.90,569.14 86.20,569.14 86.50,569.14 86.80,569.14 87.10,569.14 87.40,569.14 87.70,569.14 88.00,569.14 88.30,569.14 88.60,569.14 88.90,569.14 89.20,569.14 89.50,569.14 89.80,569.14 90.10,569.14 90.40,569.14 90.70,569.14 91.00,569.14 91.30,569.14 91.60,569.14 91.90,569.14 92.20,569.14 92.50,569.14 92.80,569.14 93.10,569.14 93.40,569.14 93.70,569.15 94.00,569.15 94.30,569.15 94.60,569.15 94.90,569.15 95.20,569.15 95.50,569.15 95.80,569.15 96.10,569.15 96.40,569.15 96.70,569.15 97.00,569.15 97.30,569.15 97.60,569.15 97.90,569.15 98.20,569.15 98.50,569.15 98.80,569.15 99.10,569.15 99.40,569.15 99.70,569.15 100.00,569.15 100.30,569.15 100.60,569.15 100.90,569.15 101.20,569.15 101.50,569.15 101.80,569.15 102.10,569.15 102.40,569.15 102.70,569.15 103.00,569.15 103.30,569.15 103.60,569.15 103.90,569.15 104.20,569.15 104.50,569.15 104.80,569.15 105.10,569.15 105.40,569.15 105.70,569.15 106.00,569.15 106.30,569.15 106.60,569.15 106.90,569.15 107.20,569.15 107.50,569.15 107.80,569.15 108.10,569.15 108.40,569.15 108.70,569.15 109.00,569.15 109.30,569.15 109.60,569.15 109.90,569.16 110.20,569.16 110.50,569.16 110.80,569.16 111.10,569.16 111.40,569.16 111.70,569.16 112.00,569.16 112.30,569.16 112.60,569.16 112.90,569.16 113.20,569.16 113.50,569.16 113.80,569.16 114.10,569.17 114.40,569.17 114.70,569.17 115.00,569.17 115.30,569.17 115.60,569.17 115.90,569.17 116.20,569.17 116.50,569.17 116.80,569.18 117.10,569.18 117.40,569.18 117.70,569.18 118.00,569.18 118.30,569.18 118.60,569.18 118.90,569.19 119.20,569.19 119.50,569.19 119.80,569.19 120.10,569.19 120.40,569.19 120.70,569.20 121.00,569.20 121.20,569.20 121.30,569.32 121.60,570.76 121.90,572.84 122.20,574.28 122.30,574.40 122.50,573.95 122.80,571.91 123.10,568.90 123.40,565.64 123.70,562.87 124.00,561.32 124.10,561.20 124.30,561.23 124.60,561.37 124.90,561.62 125.20,561.94 125.50,562.31 125.80,562.71 126.10,563.12 126.40,563.52 126.70,563.88 127.00,564.17 127.30,564.39 127.60,564.49 127.70,564.50 127.90,564.50 128.20,564.49 128.50,564.48 128.80,564.47 129.10,564.45 129.40,564.43 129.70,564.40 130.00,564.38 130.30,564.35 130.60,564.33 130.90,564.30 131.20,564.28 131.50,564.26 131.80,564.24 132.10,564.22 132.40,564.21 132.70,564.20 133.00,564.20 133.00,564.20 133.30,564.20 133.60,564.20 133.90,564.21 134.20,564.21 134.50,564.21 134.80,564.22 135.10,564.23 135.40,564.24 135.70,564.24 136.00,564.25 136.30,564.26 136.60,564.28 136.90,564.29 137.20,564.30 137.50,564.31 137.80,564.32 138.10,564.34 138.40,564.35 138.70,564.36 139.00,564.38 139.30,564.39 139.60,564.41 139.90,564.42 140.20,564.43 140.50,564.45 140.80,564.46 141.10,564.47 141.40,564.49 141.70,564.50 142.00,564.51 142.30,564.52 142.60,564.54 142.90,564.55 143.20,564.56 143.50,564.57 143.80,564.57 144.10,564.58 144.40,564.59 144.70,564.60 145.00,564.60 145.00,564.60 145.30,564.60 145.60,564.61 145.90,564.61 146.20,564.62 146.50,564.62 146.80,564.63 147.10,564.63 147.40,564.63 147.70,564.64 148.00,564.64 148.30,564.65 148.60,564.65 148.90,564.66 149.20,564.66 149.50,564.66 149.80,564.67 150.10,564.67 150.40,564.68 150.70,564.68 151.00,564.68 151.30,564.69 151.60,564.69 151.90,564.70 152.20,564.70 152.50,564.70 152.80,564.71 153.10,564.71 153.40,564.71 153.70,564.72 154.00,564.72 154.30,564.73 154.60,564.73 154.90,564.73 155.20,564.74 155.50,564.74 155.80,564.74 156.10,564.75 156.40,564.75 156.70,564.75 157.00,564.76 157.30,564.76 157.60,564.76 157.90,564.77 158.20,564.77 158.50,564.77 158.80,564.78 159.10,564.78 159.40,564.78 159.70,564.78 160.00,564.79 160.30,564.79 160.60,564.79 160.90,564.80 161.20,564.80 161.50,564.80 161.80,564.81 162.10,564.81 162.40,564.81 162.70,564.81 163.00,564.82 163.30,564.82 163.60,564.82 163.90,564.82 164.20,564.83 164.50,564.83 164.80,564.83 165.10,564.83 165.40,564.84 165.70,564.84 166.00,564.84 166.30,564.84 166.60,564.84 166.90,564.85 167.20,564.85 167.50,564.85 167.80,564.85 168.10,564.86 168.40,564.86 168.70,564.86 169.00,564.86 169.30,564.86 169.60,564.86 169.90,564.87 170.20,564.87 170.50,564.87 170.80,564.87 171.10,564.87 171.40,564.87 171.70,564.88 172.00,564.88 172.30,564.88 172.60,564.88 172.90,564.88 173.20,564.88 173.50,564.88 173.80,564.89 174.10,564.89 174.40,564.89 174.70,564.89 175.00,564.89 175.30,564.89 175.60,564.89 175.90,564.89 176.20,564.89 176.50,564.89 176.80,564.89 177.10,564.90 177.40,564.90 177.70,564.90 178.00,564.90 178.30,564.90 178.60,564.90 178.90,564.90 179.20,564.90 179.50,564.90 179.80,564.90 180.10,564.90 180.40,564.90 180.70,564.90 181.00,564.90 181.20,564.90 181.30,564.89 181.60,564.80 181.90,564.62 182.20,564.34 182.50,564.00 182.50,564.00 182.80,562.76 183.10,560.32 183.40,557.45 183.70,554.96 183.90,553.90 184.00,553.54 184.30,552.57 184.60,551.72 184.90,550.99 185.20,550.35 185.50,549.78 185.80,549.27 186.10,548.80 186.10,548.80 186.40,548.36 186.70,547.96 187.00,547.59 187.30,547.25 187.60,546.94 187.90,546.65 188.20,546.39 188.30,546.30 188.50,546.13 188.80,545.89 189.10,545.66 189.40,545.44 189.70,545.24 190.00,545.04 190.30,544.86 190.60,544.69 190.90,544.54 191.20,544.40 191.20,544.40 191.50,544.27 191.80,544.13 192.10,544.00 192.40,543.86 192.70,543.73 193.00,543.61 193.30,543.49 193.60,543.37 193.90,543.27 194.20,543.17 194.50,543.09 194.80,543.02 195.10,542.97 195.40,542.93 195.70,542.90 195.90,542.90 196.00,543.37 196.30,545.90 196.30,545.90 196.60,543.85 196.80,542.70 196.90,542.67 197.20,542.60 197.50,542.53 197.80,542.48 198.10,542.44 198.40,542.41 198.70,542.38 199.00,542.36 199.30,542.34 199.60,542.33 199.90,542.31 200.20,542.30 200.50,542.28 200.80,542.26 201.10,542.23 201.40,542.20 201.40,542.20 201.70,542.16 202.00,542.13 202.30,542.09 202.60,542.05 202.90,542.01 203.20,541.97 203.50,541.92 203.80,541.88 204.10,541.84 204.40,541.80 204.70,541.75 205.00,541.71 205.30,541.67 205.60,541.62 205.90,541.58 206.20,541.53 206.50,541.49 206.80,541.45 207.10,541.41 207.40,541.36 207.70,541.32 208.00,541.28 208.30,541.24 208.60,541.20 208.60,541.20 208.90,541.16 209.20,541.12 209.50,541.08 209.80,541.04 210.10,541.01 210.40,540.97 210.70,540.93 211.00,540.89 211.30,540.85 211.60,540.82 211.90,540.78 212.20,540.74 212.50,540.71 212.80,540.67 213.10,540.63 213.40,540.60 213.70,540.56 214.00,540.52 214.30,540.49 214.60,540.45 214.90,540.42 215.20,540.38 215.50,540.35 215.80,540.31 215.90,540.30 216.10,540.28 216.40,540.24 216.70,540.21 217.00,540.17 217.30,540.14 217.60,540.11 217.90,540.07 218.20,540.04 218.50,540.01 218.80,539.98 219.10,539.94 219.40,539.91 219.70,539.88 220.00,539.85 220.30,539.81 220.60,539.78 220.90,539.75 221.20,539.72 221.50,539.68 221.80,539.65 222.10,539.62 222.40,539.59 222.70,539.55 223.00,539.52 223.20,539.50 223.30,539.49 223.60,539.46 223.90,539.42 224.20,539.39 224.50,539.36 224.80,539.33 225.10,539.30 225.40,539.26 225.70,539.23 226.00,539.20 226.30,539.17 226.60,539.14 226.90,539.10 227.20,539.07 227.50,539.04 227.80,539.01 228.10,538.97 228.40,538.94 228.70,538.91 229.00,538.87 229.30,538.84 229.60,538.81 229.90,538.77 230.20,538.74 230.50,538.70 230.50,538.70 230.80,538.66 231.10,538.62 231.40,538.57 231.70,538.52 232.00,538.47 232.30,538.42 232.60,538.37 232.90,538.31 233.20,538.26 233.50,538.21 233.80,538.17 234.10,538.13 234.40,538.09 234.70,538.06 235.00,538.03 235.30,538.01 235.60,538.00 235.80,538.00 235.90,538.89 236.20,545.71 236.30,546.60 236.50,543.12 236.80,536.70 236.80,536.70 237.10,537.01 237.40,537.59 237.70,537.90 237.70,537.90 238.00,537.89 238.30,537.86 238.60,537.82 238.90,537.77 239.20,537.72 239.50,537.66 239.80,537.61 239.90,537.60 240.10,537.58 240.40,537.55 240.70,537.52 241.00,537.48 241.30,537.40 241.30,537.40 241.60,518.88 241.90,500.40 241.90,500.40 242.20,508.52 242.50,528.24 242.80,552.61 243.10,574.65 243.40,587.41 243.50,588.40 243.70,588.12 244.00,586.77 244.30,584.53 244.60,581.62 244.90,578.31 245.20,574.84 245.50,571.45 245.80,568.38 246.10,565.89 246.40,564.21 246.70,563.60 246.70,563.60 247.00,563.85 247.30,564.53 247.60,565.52 247.90,566.73 248.20,568.05 248.50,569.37 248.80,570.58 249.10,571.57 249.40,572.25 249.70,572.50 249.70,572.50 250.00,572.31 250.30,571.81 250.60,571.11 250.90,570.32 251.20,569.54 251.50,568.90 251.80,568.49 252.00,568.40 252.10,568.41 252.40,568.53 252.70,568.76 253.00,569.07 253.30,569.41 253.60,569.74 253.90,570.02 254.20,570.22 254.50,570.30 254.50,570.30 254.80,570.28 255.10,570.24 255.40,570.18 255.70,570.11 256.00,570.04 256.30,569.98 256.60,569.93 256.90,569.90 257.00,569.90 257.20,569.90 257.50,569.90 257.80,569.90 258.10,569.90 258.40,569.90 258.70,569.90 259.00,569.90 259.30,569.90 259.60,569.90 259.90,569.90 260.20,569.90 260.50,569.90 260.80,569.90 261.10,569.90 261.40,569.90 261.70,569.90 262.00,569.90 262.30,569.90 262.60,569.90 262.90,569.90 263.20,569.90 263.50,569.90 263.80,569.90 264.10,569.90 264.40,569.90 264.70,569.90 265.00,569.90 265.30,569.90 265.60,569.90 265.90,569.90 266.20,569.90 266.50,569.90 266.80,569.90 267.10,569.90 267.40,569.90 267.70,569.90 268.00,569.90 268.30,569.90 268.60,569.90 268.90,569.90 269.20,569.90 269.50,569.90 269.80,569.90 270.10,569.90 270.40,569.90 270.70,569.90 271.00,569.90 271.30,569.90 271.60,569.90 271.90,569.90 272.20,569.90 272.50,569.90 272.80,569.90 273.10,569.90 273.40,569.90 273.70,569.90 274.00,569.90 274.30,569.90 274.60,569.90 274.90,569.90 275.20,569.90 275.50,569.90 275.80,569.90 276.10,569.90 276.40,569.90 276.70,569.90 277.00,569.90 277.30,569.90 277.60,569.90 277.90,569.90 278.20,569.90 278.50,569.90 278.80,569.90 279.10,569.90 279.40,569.90 279.70,569.90 280.00,569.90 280.30,569.90 280.60,569.90 280.90,569.90 281.20,569.90 281.50,569.90 281.80,569.90 282.10,569.90 282.40,569.90 282.70,569.90 283.00,569.90 283.30,569.90 283.60,569.90 283.90,569.90 284.20,569.90 284.50,569.90 284.80,569.90 285.10,569.90 285.40,569.90 285.70,569.90 286.00,569.90 286.30,569.90 286.60,569.90 286.90,569.90 287.20,569.90 287.50,569.90 287.80,569.90 288.10,569.90 288.40,569.90 288.70,569.90 289.00,569.90 289.30,569.90 289.60,569.90 289.90,569.90 290.20,569.90 290.50,569.90 290.80,569.90 291.10,569.90 291.40,569.90 291.70,569.90 292.00,569.90 292.30,569.90 292.60,569.90 292.90,569.90 293.20,569.90 293.50,569.90 293.80,569.90 294.10,569.90 294.40,569.90 294.70,569.90 295.00,569.90 295.30,569.90 295.60,569.90 295.90,569.90 296.20,569.90 296.50,569.90 296.80,569.90 297.10,569.90 297.40,569.90 297.70,569.90 298.00,569.90 298.30,569.90 298.60,569.90 298.90,569.90 299.20,569.90 299.50,569.90 299.80,569.90 300.10,569.90 300.40,569.90 300.70,569.90 300.90,569.90 301.00,570.09 301.30,572.19 301.60,574.71 301.80,575.40 301.90,575.30 302.20,573.99 302.50,571.62 302.80,568.76 303.10,566.01 303.40,563.92 303.70,563.10 303.70,563.10 304.00,563.16 304.30,563.34 304.60,563.59 304.90,563.91 305.20,564.27 305.50,564.65 305.80,565.01 306.10,565.34 306.40,565.62 306.70,565.81 307.00,565.90 307.00,565.90 307.30,565.93 307.60,565.95 307.90,565.98 308.20,566.00 308.50,566.02 308.80,566.04 309.10,566.05 309.40,566.06 309.70,566.07 310.00,566.08 310.30,566.09 310.60,566.10 310.90,566.10 311.00,566.10 311.20,566.10 311.50,566.10 311.80,566.10 312.10,566.11 312.40,566.11 312.70,566.11 313.00,566.11 313.30,566.11 313.60,566.11 313.90,566.11 314.20,566.12 314.50,566.12 314.80,566.12 315.10,566.12 315.40,566.12 315.70,566.12 316.00,566.12 316.30,566.13 316.60,566.13 316.90,566.13 317.20,566.13 317.50,566.13 317.80,566.13 318.10,566.13 318.40,566.13 318.70,566.14 319.00,566.14 319.30,566.14 319.60,566.14 319.90,566.14 320.20,566.14 320.50,566.14 320.80,566.14 321.10,566.14 321.40,566.15 321.70,566.15 322.00,566.15 322.30,566.15 322.60,566.15 322.90,566.15 323.20,566.15 323.50,566.15 323.80,566.15 324.10,566.15 324.40,566.16 324.70,566.16 325.00,566.16 325.30,566.16 325.60,566.16 325.90,566.16 326.20,566.16 326.50,566.16 326.80,566.16 327.10,566.16 327.40,566.16 327.70,566.16 328.00,566.17 328.30,566.17 328.60,566.17 328.90,566.17 329.20,566.17 329.50,566.17 329.80,566.17 330.10,566.17 330.40,566.17 330.70,566.17 331.00,566.17 331.30,566.17 331.60,566.17 331.90,566.17 332.20,566.18 332.50,566.18 332.80,566.18 333.10,566.18 333.40,566.18 333.70,566.18 334.00,566.18 334.30,566.18 334.60,566.18 334.90,566.18 335.20,566.18 335.50,566.18 335.80,566.18 336.10,566.18 336.40,566.18 336.70,566.18 337.00,566.18 337.30,566.18 337.60,566.19 337.90,566.19 338.20,566.19 338.50,566.19 338.80,566.19 339.10,566.19 339.40,566.19 339.70,566.19 340.00,566.19 340.30,566.19 340.60,566.19 340.90,566.19 341.20,566.19 341.50,566.19 341.80,566.19 342.10,566.19 342.40,566.19 342.70,566.19 343.00,566.19 343.30,566.19 343.60,566.19 343.90,566.19 344.20,566.19 344.50,566.19 344.80,566.19 345.10,566.19 345.40,566.19 345.70,566.19 346.00,566.19 346.30,566.20 346.60,566.20 346.90,566.20 347.20,566.20 347.50,566.20 347.80,566.20 348.10,566.20 348.40,566.20 348.70,566.20 349.00,566.20 349.30,566.20 349.60,566.20 349.90,566.20 350.20,566.20 350.50,566.20 350.80,566.20 351.10,566.20 351.40,566.20 351.70,566.20 352.00,566.20 352.30,566.20 352.60,566.20 352.90,566.20 353.20,566.20 353.50,566.20 353.80,566.20 354.10,566.20 354.40,566.20 354.70,566.20 355.00,566.20 355.30,566.20 355.60,566.20 355.90,566.20 356.20,566.20 356.50,566.20 356.80,566.20 357.10,566.20 357.40,566.20 357.70,566.20 358.00,566.20 358.30,566.20 358.60,566.20 358.90,566.20 359.20,566.20 359.50,566.20 359.80,566.20 360.10,566.20 360.40,566.20 360.70,566.20 361.00,566.20 361.00,566.20 361.30,556.40 361.30,556.40 361.60,557.43 361.90,560.05 362.20,563.59 362.50,567.35 362.80,570.66 363.10,572.83 363.30,573.30 363.40,573.28 363.70,573.04 364.00,572.57 364.30,571.94 364.60,571.22 364.90,570.50 365.20,569.83 365.50,569.30 365.80,568.97 366.00,568.90 366.10,568.90 366.40,568.95 366.70,569.03 367.00,569.15 367.30,569.28 367.60,569.42 367.90,569.55 368.20,569.67 368.50,569.75 368.80,569.80 368.90,569.80 369.10,569.80 369.40,569.79 369.70,569.77 370.00,569.74 370.30,569.71 370.60,569.69 370.90,569.66 371.20,569.63 371.50,569.61 371.80,569.60 372.00,569.60 372.10,569.60 372.40,569.60 372.70,569.60 373.00,569.60 373.30,569.60 373.60,569.60 373.90,569.60 374.20,569.60 374.50,569.60 374.80,569.60 375.10,569.60 375.40,569.60 375.70,569.60 376.00,569.60 376.30,569.60 376.60,569.60 376.90,569.60 377.20,569.60 377.50,569.60 377.80,569.60 378.10,569.60 378.40,569.60 378.70,569.60 379.00,569.60 379.30,569.60 379.60,569.60 379.90,569.60 380.20,569.60 380.50,569.60 380.80,569.60 381.10,569.60 381.40,569.60 381.70,569.60 382.00,569.60 382.30,569.60 382.60,569.60 382.90,569.60 383.20,569.60 383.50,569.60 383.80,569.60 384.10,569.60 384.40,569.60 384.70,569.60 385.00,569.60 385.30,569.60 385.60,569.60 385.90,569.60 386.20,569.60 386.50,569.60 386.80,569.60 387.10,569.60 387.40,569.60 387.70,569.60 388.00,569.60 388.30,569.60 388.60,569.60 388.90,569.60 389.20,569.60 389.50,569.60 389.80,569.60 390.10,569.60 390.40,569.60 390.70,569.60 391.00,569.60 391.30,569.60 391.60,569.60 391.90,569.60 392.20,569.60 392.50,569.60 392.80,569.60 393.10,569.60 393.40,569.60 393.70,569.60 394.00,569.60 394.30,569.60 394.60,569.60 394.90,569.60 395.20,569.60 395.50,569.60 395.80,569.60 396.10,569.60 396.40,569.60 396.70,569.60 397.00,569.60 397.30,569.60 397.60,569.60 397.90,569.60 398.20,569.60 398.50,569.60 398.80,569.60 399.10,569.60 399.40,569.60 399.70,569.60 400.00,569.60 400.30,569.60 400.60,569.60 400.90,569.60 401.20,569.60 401.50,569.60 401.80,569.60 402.10,569.60 402.40,569.60 402.70,569.60 403.00,569.60 403.30,569.60 403.60,569.60 403.90,569.60 404.20,569.60 404.50,569.60 404.80,569.60 405.10,569.60 405.40,569.60 405.70,569.60 406.00,569.60 406.30,569.60 406.60,569.60 406.90,569.60 407.20,569.60 407.50,569.60 407.80,569.60 408.10,569.60 408.40,569.60 408.70,569.60 409.00,569.60 409.30,569.60 409.60,569.60 409.90,569.60 410.20,569.60 410.50,569.60 410.80,569.60 411.10,569.60 411.40,569.60 411.70,569.60 412.00,569.60 412.30,569.60 412.60,569.60 412.90,569.60 413.20,569.60 413.50,569.60 413.80,569.60 414.10,569.60 414.40,569.60 414.70,569.60 415.00,569.60 415.30,569.60 415.60,569.60 415.90,569.60 416.20,569.60 416.50,569.60 416.80,569.60 417.10,569.60 417.40,569.60 417.70,569.60 418.00,569.60 418.30,569.60 418.60,569.60 418.90,569.60 419.20,569.60 419.50,569.60 419.80,569.60 420.10,569.60 420.40,569.60 420.70,569.60 421.00,569.60 421.00,569.60 421.30,571.44 421.60,574.49 421.80,575.40 421.90,575.29 422.20,573.79 422.50,571.07 422.80,567.79 423.10,564.63 423.40,562.24 423.70,561.30 423.70,561.30 424.00,561.36 424.30,561.53 424.60,561.78 424.90,562.09 425.20,562.45 425.50,562.84 425.80,563.22 426.10,563.59 426.40,563.93 426.70,564.20 427.00,564.40 427.30,564.49 427.40,564.50 427.60,564.50 427.90,564.50 428.20,564.49 428.50,564.48 428.80,564.47 429.10,564.46 429.40,564.44 429.70,564.43 430.00,564.41 430.30,564.39 430.60,564.38 430.90,564.36 431.20,564.35 431.50,564.34 431.80,564.32 432.10,564.31 432.40,564.31 432.70,564.30 433.00,564.30 433.00,564.30 433.30,564.30 433.60,564.30 433.90,564.31 434.20,564.31 434.50,564.31 434.80,564.32 435.10,564.33 435.40,564.33 435.70,564.34 436.00,564.35 436.30,564.36 436.60,564.37 436.90,564.38 437.20,564.39 437.50,564.40 437.80,564.42 438.10,564.43 438.40,564.44 438.70,564.46 439.00,564.47 439.30,564.48 439.60,564.50 439.90,564.51 440.20,564.52 440.50,564.54 440.80,564.55 441.10,564.56 441.40,564.58 441.70,564.59 442.00,564.60 442.30,564.61 442.60,564.63 442.90,564.64 443.20,564.65 443.50,564.66 443.80,564.67 444.10,564.68 444.40,564.69 444.70,564.69 445.00,564.70 445.00,564.70 445.30,564.71 445.60,564.71 445.90,564.72 446.20,564.73 446.50,564.73 446.80,564.74 447.10,564.74 447.40,564.75 447.70,564.76 448.00,564.76 448.30,564.77 448.60,564.78 448.90,564.78 449.20,564.79 449.50,564.79 449.80,564.80 450.10,564.81 450.40,564.81 450.70,564.82 451.00,564.82 451.30,564.83 451.60,564.84 451.90,564.84 452.20,564.85 452.50,564.85 452.80,564.86 453.10,564.87 453.40,564.87 453.70,564.88 454.00,564.88 454.30,564.89 454.60,564.90 454.90,564.90 455.20,564.91 455.50,564.91 455.80,564.92 456.10,564.92 456.40,564.93 456.70,564.94 457.00,564.94 457.30,564.95 457.60,564.95 457.90,564.96 458.20,564.96 458.50,564.97 458.80,564.97 459.10,564.98 459.40,564.98 459.70,564.99 460.00,564.99 460.30,565.00 460.60,565.00 460.90,565.01 461.20,565.01 461.50,565.02 461.80,565.02 462.10,565.03 462.40,565.03 462.70,565.04 463.00,565.04 463.30,565.05 463.60,565.05 463.90,565.06 464.20,565.06 464.50,565.07 464.80,565.07 465.10,565.07 465.40,565.08 465.70,565.08 466.00,565.09 466.30,565.09 466.60,565.10 466.90,565.10 467.20,565.10 467.50,565.11 467.80,565.11 468.10,565.11 468.40,565.12 468.70,565.12 469.00,565.13 469.30,565.13 469.60,565.13 469.90,565.14 470.20,565.14 470.50,565.14 470.80,565.14 471.10,565.15 471.40,565.15 471.70,565.15 472.00,565.16 472.30,565.16 472.60,565.16 472.90,565.16 473.20,565.17 473.50,565.17 473.80,565.17 474.10,565.17 474.40,565.18 474.70,565.18 475.00,565.18 475.30,565.18 475.60,565.18 475.90,565.18 476.20,565.19 476.50,565.19 476.80,565.19 477.10,565.19 477.40,565.19 477.70,565.19 478.00,565.19 478.30,565.20 478.60,565.20 478.90,565.20 479.20,565.20 479.50,565.20 479.80,565.20 480.10,565.20 480.40,565.20 480.70,565.20 481.00,565.20 481.20,565.20 481.30,565.17 481.60,564.82 481.90,564.13 482.20,563.17 482.50,562.06 482.80,560.87 483.10,559.70 483.10,559.70 483.40,558.31 483.70,556.57 484.00,554.78 484.30,553.20 484.50,552.40 484.60,552.07 484.90,551.15 485.20,550.32 485.50,549.56 485.80,548.88 486.10,548.28 486.40,547.75 486.70,547.30 486.70,547.30 487.00,546.90 487.30,546.53 487.60,546.20 487.90,545.90 488.20,545.63 488.50,545.39 488.80,545.17 488.90,545.10 489.10,544.97 489.40,544.78 489.70,544.60 490.00,544.43 490.30,544.27 490.60,544.12 490.90,543.99 491.20,543.88 491.50,543.78 491.80,543.70 491.80,543.70 492.10,543.63 492.40,543.57 492.70,543.52 493.00,543.50 493.00,543.50 493.30,547.70 493.30,547.70 493.60,544.02 493.70,543.30 493.90,543.20 494.20,543.10 494.50,543.04 494.80,543.00 495.10,542.96 495.40,542.92 495.50,542.90 495.70,542.86 496.00,542.80 496.30,542.73 496.60,542.67 496.90,542.61 497.20,542.55 497.50,542.49 497.80,542.43 498.10,542.38 498.40,542.32 498.70,542.27 499.00,542.22 499.10,542.20 499.30,542.17 499.60,542.12 499.90,542.07 500.20,542.03 500.50,541.98 500.80,541.94 501.10,541.89 501.40,541.85 501.70,541.81 502.00,541.77 502.30,541.73 502.60,541.68 502.90,541.64 503.20,541.61 503.50,541.57 503.80,541.53 504.10,541.49 504.40,541.45 504.70,541.41 505.00,541.38 505.30,541.34 505.60,541.30 505.90,541.26 506.20,541.23 506.40,541.20 506.50,541.19 506.80,541.15 507.10,541.13 507.40,541.10 507.70,541.08 508.00,541.06 508.30,541.04 508.60,541.03 508.90,541.01 509.20,540.99 509.50,540.98 509.80,540.96 510.10,540.94 510.40,540.91 510.70,540.89 511.00,540.85 511.30,540.82 511.60,540.78 511.90,540.73 512.20,540.67 512.50,540.61 512.80,540.54 513.10,540.46 513.30,540.40 513.40,540.22 513.70,539.05 513.80,538.90 514.00,539.64 514.30,541.00 514.30,541.00 514.60,540.51 514.80,540.20 514.90,540.17 515.20,540.07 515.50,539.98 515.80,539.90 516.10,539.84 516.40,539.78 516.70,539.72 517.00,539.67 517.30,539.63 517.60,539.60 517.90,539.56 518.20,539.54 518.50,539.51 518.80,539.48 519.10,539.46 519.40,539.44 519.70,539.41 520.00,539.39 520.30,539.36 520.60,539.33 520.90,539.30 520.90,539.30 521.20,539.27 521.50,539.23 521.80,539.20 522.10,539.17 522.40,539.14 522.70,539.11 523.00,539.08 523.30,539.05 523.60,539.02 523.90,538.99 524.20,538.96 524.50,538.93 524.80,538.91 525.10,538.88 525.40,538.85 525.70,538.83 526.00,538.80 526.30,538.77 526.60,538.75 526.90,538.72 527.20,538.69 527.50,538.67 527.80,538.64 528.10,538.61 528.20,538.60 528.40,538.58 528.70,538.56 529.00,538.54 529.30,538.52 529.60,538.51 529.90,538.49 530.20,538.48 530.50,538.47 530.80,538.46 531.10,538.44 531.40,538.43 531.70,538.41 532.00,538.39 532.30,538.36 532.60,538.33 532.90,538.30 533.20,538.26 533.50,538.21 533.80,538.16 534.10,538.10 534.40,538.03 534.50,538.00 534.70,536.89 535.00,534.90 535.00,534.90 535.30,537.82 535.50,539.40 535.60,539.24 535.90,537.97 536.00,537.80 536.20,537.78 536.50,537.75 536.80,537.72 537.10,537.70 537.40,537.68 537.70,537.66 538.00,537.65 538.30,537.64 538.60,537.63 538.90,537.62 539.20,537.61 539.50,537.61 539.80,537.60 540.10,537.60 540.40,537.60 540.70,537.60 540.80,537.60" fill="none" stroke="#0072BD" stroke-width="2.4" stroke-linejoin="round" stroke-linecap="butt" clip-path="url(#clipc)"/>
<polyline points="61.20,587.90 61.50,537.41 61.70,522.00 61.80,522.16 62.10,524.34 62.40,528.48 62.70,533.78 63.00,539.49 63.30,544.82 63.60,549.00 63.60,549.00 63.90,552.39 64.20,555.47 64.50,557.60 64.50,557.60 64.80,558.93 65.10,559.99 65.40,560.81 65.70,561.40 65.70,561.40 66.00,561.85 66.30,562.23 66.60,562.55 66.90,562.84 67.20,563.09 67.50,563.32 67.80,563.53 67.90,563.60 68.10,563.74 68.40,563.94 68.70,564.13 69.00,564.31 69.30,564.49 69.60,564.66 69.90,564.82 70.20,564.97 70.50,565.11 70.80,565.25 71.10,565.38 71.40,565.50 71.70,565.62 72.00,565.73 72.20,565.80 72.30,565.83 72.60,565.93 72.90,566.03 73.20,566.12 73.50,566.21 73.80,566.29 74.10,566.37 74.40,566.45 74.70,566.52 75.00,566.59 75.30,566.66 75.60,566.72 75.90,566.79 76.20,566.84 76.50,566.90 76.50,566.90 76.80,566.95 77.10,567.00 77.40,567.05 77.70,567.10 78.00,567.14 78.30,567.18 78.60,567.23 78.90,567.26 79.20,567.30 79.50,567.34 79.80,567.38 80.10,567.42 80.40,567.45 80.70,567.49 80.80,567.50 81.00,567.52 81.30,567.56 81.60,567.60 81.90,567.63 82.20,567.67 82.50,567.71 82.80,567.74 83.10,567.78 83.40,567.81 83.70,567.85 84.00,567.89 84.30,567.92 84.60,567.95 84.90,567.99 85.20,568.02 85.50,568.05 85.80,568.09 86.10,568.12 86.40,568.15 86.70,568.18 87.00,568.21 87.30,568.23 87.60,568.26 87.90,568.29 88.20,568.31 88.50,568.34 88.80,568.36 89.10,568.38 89.40,568.40 89.40,568.40 89.70,568.42 90.00,568.44 90.30,568.46 90.60,568.48 90.90,568.49 91.20,568.51 91.50,568.53 91.80,568.55 92.10,568.57 92.40,568.58 92.70,568.60 93.00,568.61 93.30,568.63 93.60,568.65 93.90,568.66 94.20,568.68 94.50,568.69 94.80,568.70 95.10,568.72 95.40,568.73 95.70,568.75 96.00,568.76 96.30,568.77 96.60,568.78 96.90,568.80 97.20,568.81 97.50,568.82 97.80,568.83 98.10,568.84 98.40,568.85 98.70,568.86 99.00,568.87 99.30,568.88 99.60,568.89 99.90,568.90 100.00,568.90 100.20,568.91 100.50,568.91 100.80,568.92 101.10,568.93 101.40,568.93 101.70,568.94 102.00,568.95 102.30,568.95 102.60,568.96 102.90,568.96 103.20,568.97 103.50,568.97 103.80,568.98 104.10,568.98 104.40,568.98 104.70,568.99 105.00,568.99 105.30,568.99 105.60,569.00 105.90,569.00 106.20,569.00 106.50,569.00 106.80,569.00 107.10,569.01 107.40,569.01 107.70,569.01 108.00,569.01 108.30,569.01 108.60,569.02 108.90,569.02 109.20,569.02 109.50,569.02 109.80,569.02 110.10,569.03 110.40,569.03 110.70,569.03 111.00,569.03 111.30,569.04 111.60,569.04 111.90,569.04 112.20,569.04 112.50,569.05 112.80,569.05 113.10,569.05 113.40,569.06 113.70,569.06 114.00,569.07 114.30,569.07 114.60,569.08 114.90,569.08 115.20,569.09 115.50,569.09 115.80,569.10 116.10,569.11 116.40,569.11 116.70,569.12 117.00,569.13 117.30,569.14 117.60,569.15 117.90,569.15 118.20,569.16 118.50,569.18 118.80,569.19 119.10,569.20 119.40,569.21 119.70,569.22 120.00,569.24 120.30,569.25 120.60,569.26 120.90,569.28 121.20,569.29 121.30,569.30 121.50,570.48 121.80,574.03 122.00,575.20 122.10,575.19 122.40,575.08 122.70,574.86 123.00,574.59 123.30,574.31 123.60,574.07 123.70,574.00 123.90,573.88 124.20,573.70 124.50,573.52 124.80,573.35 125.10,573.19 125.40,573.04 125.70,572.89 125.90,572.80 126.00,572.76 126.30,572.63 126.60,572.51 126.90,572.40 127.20,572.29 127.50,572.18 127.80,572.08 128.10,571.98 128.40,571.88 128.70,571.78 129.00,571.67 129.30,571.57 129.50,571.50 129.60,571.46 129.90,571.36 130.20,571.25 130.50,571.14 130.80,571.03 131.10,570.92 131.40,570.81 131.70,570.70 132.00,570.60 132.30,570.49 132.60,570.39 132.90,570.29 133.20,570.20 133.20,570.20 133.50,570.11 133.80,570.02 134.10,569.93 134.40,569.84 134.70,569.75 135.00,569.67 135.30,569.59 135.60,569.50 135.90,569.43 136.20,569.35 136.50,569.27 136.80,569.20 136.80,569.20 137.10,569.13 137.40,569.06 137.70,568.99 138.00,568.92 138.30,568.85 138.60,568.78 138.90,568.71 139.20,568.64 139.50,568.58 139.80,568.51 140.10,568.45 140.40,568.38 140.70,568.32 141.00,568.26 141.30,568.20 141.60,568.14 141.90,568.08 142.20,568.02 142.50,567.97 142.80,567.92 143.10,567.86 143.40,567.81 143.70,567.76 144.00,567.72 144.10,567.70 144.30,567.67 144.60,567.62 144.90,567.58 145.20,567.54 145.50,567.50 145.80,567.46 146.10,567.42 146.40,567.38 146.70,567.34 147.00,567.31 147.30,567.27 147.60,567.23 147.90,567.20 148.20,567.16 148.50,567.13 148.80,567.09 149.10,567.06 149.40,567.03 149.70,566.99 150.00,566.96 150.30,566.93 150.60,566.89 150.90,566.86 151.20,566.82 151.40,566.80 151.50,566.79 151.80,566.75 152.10,566.72 152.40,566.69 152.70,566.65 153.00,566.62 153.30,566.58 153.60,566.55 153.90,566.52 154.20,566.49 154.50,566.45 154.80,566.42 155.00,566.40 155.10,566.39 155.40,566.36 155.70,566.33 156.00,566.29 156.30,566.26 156.60,566.23 156.90,566.20 157.20,566.17 157.50,566.14 157.80,566.10 158.10,566.07 158.40,566.04 158.70,566.01 159.00,565.98 159.30,565.95 159.60,565.92 159.90,565.89 160.20,565.86 160.50,565.84 160.80,565.81 161.10,565.78 161.40,565.75 161.70,565.73 162.00,565.70 162.00,565.70 162.30,565.67 162.60,565.65 162.90,565.62 163.20,565.60 163.50,565.57 163.80,565.54 164.10,565.52 164.40,565.49 164.70,565.46 165.00,565.44 165.30,565.41 165.60,565.39 165.90,565.36 166.20,565.34 166.50,565.31 166.80,565.29 167.10,565.27 167.40,565.25 167.70,565.23 168.00,565.21 168.30,565.19 168.60,565.17 168.90,565.15 169.20,565.14 169.50,565.12 169.80,565.11 170.00,565.10 170.10,565.10 170.40,565.08 170.70,565.07 171.00,565.06 171.30,565.05 171.60,565.04 171.90,565.02 172.20,565.01 172.50,565.00 172.80,564.99 173.10,564.98 173.40,564.97 173.70,564.96 174.00,564.95 174.30,564.94 174.60,564.92 174.90,564.92 175.20,564.91 175.50,564.90 175.80,564.89 176.10,564.88 176.40,564.87 176.70,564.86 177.00,564.86 177.30,564.85 177.60,564.84 177.90,564.83 178.20,564.83 178.50,564.82 178.80,564.82 179.10,564.81 179.40,564.81 179.70,564.81 180.00,564.80 180.30,564.80 180.60,564.80 180.90,564.80 181.20,564.80 181.20,564.80 181.50,567.84 181.80,572.90 182.00,574.40 182.10,574.39 182.40,574.27 182.70,574.04 183.00,573.74 183.30,573.40 183.60,573.08 183.90,572.80 183.90,572.80 184.20,572.56 184.50,572.32 184.80,572.08 185.10,571.85 185.40,571.62 185.70,571.39 186.00,571.17 186.30,570.95 186.60,570.74 186.80,570.60 186.90,570.53 187.20,570.33 187.50,570.13 187.80,569.93 188.10,569.73 188.40,569.54 188.70,569.35 189.00,569.16 189.30,568.97 189.60,568.79 189.90,568.60 190.20,568.42 190.50,568.24 190.80,568.06 191.10,567.89 191.40,567.71 191.70,567.54 192.00,567.37 192.30,567.20 192.60,567.03 192.90,566.86 193.20,566.69 193.50,566.53 193.80,566.36 194.10,566.20 194.10,566.20 194.40,566.04 194.70,565.88 195.00,565.72 195.30,565.57 195.60,565.42 195.90,565.27 196.20,565.12 196.50,564.97 196.80,564.82 197.10,564.68 197.40,564.53 197.70,564.39 198.00,564.24 198.30,564.10 198.60,563.96 198.90,563.82 199.20,563.67 199.50,563.53 199.80,563.39 200.10,563.24 200.40,563.09 200.70,562.95 201.00,562.80 201.30,562.65 201.40,562.60 201.60,562.51 201.90,562.39 202.20,562.29 202.50,562.20 202.80,562.12 203.10,562.03 203.40,561.94 203.70,561.84 204.00,561.71 204.30,561.55 204.60,561.36 204.90,561.13 205.20,560.84 205.50,560.50 205.50,560.50 205.80,558.28 205.90,557.90 206.10,563.90 206.30,569.90 206.40,568.88 206.70,561.08 206.80,560.00 207.00,559.86 207.30,559.71 207.60,559.62 207.90,559.56 208.20,559.50 208.50,559.43 208.60,559.40 208.80,559.33 209.10,559.23 209.40,559.12 209.70,559.01 210.00,558.90 210.30,558.79 210.60,558.68 210.90,558.57 211.20,558.46 211.50,558.34 211.80,558.23 212.10,558.12 212.40,558.01 212.70,557.89 213.00,557.78 213.30,557.67 213.60,557.57 213.90,557.46 214.20,557.35 214.50,557.25 214.80,557.15 215.10,557.05 215.40,556.95 215.70,556.86 215.90,556.80 216.00,556.77 216.30,556.68 216.60,556.59 216.90,556.51 217.20,556.42 217.50,556.34 217.80,556.26 218.10,556.18 218.40,556.10 218.70,556.02 219.00,555.95 219.30,555.87 219.60,555.79 219.90,555.72 220.20,555.64 220.50,555.57 220.80,555.50 221.10,555.42 221.40,555.35 221.70,555.27 222.00,555.20 222.30,555.13 222.60,555.05 222.90,554.98 223.20,554.90 223.20,554.90 223.50,554.82 223.80,554.75 224.10,554.67 224.40,554.59 224.70,554.52 225.00,554.44 225.30,554.36 225.60,554.29 225.90,554.21 226.20,554.13 226.50,554.06 226.80,553.98 227.10,553.90 227.40,553.83 227.70,553.75 228.00,553.68 228.30,553.61 228.60,553.54 228.90,553.46 229.20,553.39 229.50,553.32 229.80,553.26 230.10,553.19 230.40,553.12 230.50,553.10 230.70,553.06 231.00,552.99 231.30,552.93 231.60,552.87 231.90,552.81 232.20,552.75 232.50,552.69 232.80,552.64 233.10,552.58 233.40,552.52 233.70,552.47 234.00,552.41 234.30,552.36 234.60,552.30 234.90,552.25 235.20,552.19 235.50,552.14 235.80,552.08 236.10,552.02 236.40,551.96 236.70,551.90 237.00,551.84 237.30,551.78 237.60,551.72 237.70,551.70 237.90,551.66 238.20,551.61 238.50,551.57 238.80,551.53 239.10,551.50 239.40,551.46 239.70,551.41 240.00,551.35 240.30,551.27 240.60,551.17 240.90,551.05 241.20,550.90 241.20,550.90 241.50,539.77 241.80,516.47 242.10,495.66 242.30,490.40 242.40,490.60 242.70,493.17 243.00,497.77 243.30,503.15 243.60,508.07 243.70,509.40 243.90,511.82 244.20,515.34 244.50,518.68 244.80,521.75 244.90,522.70 245.10,524.52 245.40,527.10 245.70,529.51 246.00,531.78 246.30,533.91 246.40,534.60 246.60,535.95 246.90,537.92 247.20,539.78 247.50,541.50 247.80,543.04 247.90,543.50 248.10,544.39 248.40,545.67 248.70,546.89 249.00,548.04 249.30,549.14 249.60,550.17 249.90,551.14 250.20,552.04 250.50,552.88 250.80,553.66 250.90,553.90 251.10,554.37 251.40,555.06 251.70,555.71 252.00,556.33 252.30,556.93 252.60,557.49 252.90,558.03 253.20,558.54 253.50,559.03 253.80,559.49 254.10,559.92 254.40,560.34 254.60,560.60 254.70,560.73 255.00,561.11 255.30,561.48 255.60,561.83 255.90,562.17 256.20,562.50 256.50,562.82 256.80,563.11 257.10,563.39 257.40,563.65 257.70,563.89 258.00,564.11 258.30,564.30 258.30,564.30 258.60,564.48 258.90,564.65 259.20,564.82 259.50,564.99 259.80,565.14 260.10,565.30 260.40,565.45 260.70,565.59 261.00,565.73 261.30,565.86 261.60,565.99 261.90,566.12 262.20,566.24 262.50,566.35 262.80,566.46 263.10,566.57 263.40,566.67 263.70,566.77 264.00,566.86 264.30,566.95 264.60,567.03 264.90,567.11 265.20,567.18 265.50,567.26 265.70,567.30 265.80,567.32 266.10,567.39 266.40,567.45 266.70,567.51 267.00,567.57 267.30,567.63 267.60,567.68 267.90,567.74 268.20,567.79 268.50,567.85 268.80,567.90 269.10,567.95 269.40,567.99 269.70,568.04 270.00,568.09 270.30,568.13 270.60,568.17 270.90,568.22 271.20,568.26 271.50,568.30 271.80,568.34 272.10,568.37 272.40,568.41 272.70,568.45 273.00,568.48 273.30,568.52 273.60,568.55 273.90,568.58 274.20,568.62 274.50,568.65 274.80,568.68 275.10,568.71 275.40,568.74 275.70,568.77 276.00,568.80 276.00,568.80 276.30,568.83 276.60,568.86 276.90,568.89 277.20,568.91 277.50,568.94 277.80,568.97 278.10,569.00 278.40,569.02 278.70,569.05 279.00,569.08 279.30,569.10 279.60,569.13 279.90,569.15 280.20,569.18 280.50,569.20 280.80,569.23 281.10,569.25 281.40,569.27 281.70,569.30 282.00,569.32 282.30,569.34 282.60,569.36 282.90,569.38 283.20,569.40 283.50,569.43 283.80,569.45 284.10,569.46 284.40,569.48 284.70,569.50 285.00,569.52 285.30,569.54 285.60,569.56 285.90,569.57 286.20,569.59 286.50,569.60 286.80,569.62 287.10,569.63 287.40,569.65 287.70,569.66 288.00,569.68 288.30,569.69 288.60,569.70 288.60,569.70 288.90,569.71 289.20,569.72 289.50,569.74 289.80,569.75 290.10,569.76 290.40,569.77 290.70,569.78 291.00,569.79 291.30,569.81 291.60,569.82 291.90,569.83 292.20,569.84 292.50,569.85 292.80,569.86 293.10,569.87 293.40,569.88 293.70,569.89 294.00,569.90 294.30,569.91 294.60,569.92 294.90,569.93 295.20,569.94 295.50,569.94 295.80,569.95 296.10,569.96 296.40,569.97 296.70,569.97 297.00,569.98 297.30,569.98 297.60,569.99 297.90,569.99 298.20,569.99 298.50,570.00 298.80,570.00 299.10,570.00 299.40,570.00 299.50,570.00 299.70,570.00 300.00,570.00 300.30,570.00 300.60,570.00 300.90,570.00 300.90,570.00 301.20,572.32 301.50,575.57 301.60,575.90 301.80,575.86 302.10,575.69 302.40,575.41 302.70,575.09 303.00,574.76 303.30,574.48 303.40,574.40 303.60,574.26 303.90,574.06 304.20,573.86 304.50,573.67 304.80,573.48 305.10,573.31 305.40,573.15 305.70,572.99 305.90,572.90 306.00,572.85 306.30,572.72 306.60,572.60 306.90,572.48 307.20,572.37 307.50,572.26 307.80,572.16 308.10,572.06 308.40,571.96 308.70,571.86 309.00,571.76 309.30,571.66 309.50,571.60 309.60,571.57 309.90,571.47 310.20,571.37 310.50,571.28 310.80,571.18 311.10,571.09 311.40,571.00 311.70,570.91 312.00,570.83 312.30,570.74 312.60,570.66 312.90,570.58 313.20,570.50 313.20,570.50 313.50,570.42 313.80,570.35 314.10,570.28 314.40,570.21 314.70,570.14 315.00,570.07 315.30,570.00 315.60,569.94 315.90,569.88 316.20,569.81 316.50,569.76 316.80,569.70 316.80,569.70 317.10,569.65 317.40,569.59 317.70,569.54 318.00,569.49 318.30,569.43 318.60,569.38 318.90,569.33 319.20,569.29 319.50,569.24 319.80,569.19 320.10,569.14 320.40,569.10 320.70,569.05 321.00,569.01 321.30,568.96 321.60,568.92 321.90,568.88 322.20,568.84 322.50,568.80 322.80,568.76 323.10,568.72 323.40,568.68 323.70,568.65 324.00,568.61 324.10,568.60 324.30,568.58 324.60,568.54 324.90,568.51 325.20,568.48 325.50,568.44 325.80,568.41 326.10,568.38 326.40,568.35 326.70,568.32 327.00,568.29 327.30,568.27 327.60,568.24 327.90,568.21 328.20,568.18 328.50,568.16 328.80,568.13 329.10,568.10 329.40,568.08 329.70,568.05 330.00,568.02 330.30,568.00 330.60,567.97 330.90,567.94 331.20,567.92 331.40,567.90 331.50,567.89 331.80,567.86 332.10,567.84 332.40,567.81 332.70,567.78 333.00,567.76 333.30,567.73 333.60,567.71 333.90,567.68 334.20,567.66 334.50,567.64 334.80,567.61 335.00,567.60 335.10,567.59 335.40,567.57 335.70,567.55 336.00,567.53 336.30,567.51 336.60,567.50 336.90,567.48 337.20,567.46 337.50,567.44 337.80,567.42 338.10,567.40 338.40,567.38 338.70,567.37 339.00,567.35 339.30,567.33 339.60,567.32 339.90,567.30 340.20,567.28 340.50,567.27 340.80,567.25 341.10,567.23 341.40,567.22 341.70,567.20 342.00,567.19 342.30,567.17 342.60,567.16 342.90,567.14 343.20,567.13 343.50,567.11 343.80,567.10 344.10,567.08 344.40,567.07 344.70,567.05 345.00,567.04 345.30,567.03 345.60,567.01 345.90,567.00 346.20,566.99 346.50,566.97 346.80,566.96 347.10,566.95 347.40,566.93 347.70,566.92 348.00,566.91 348.20,566.90 348.30,566.90 348.60,566.88 348.90,566.87 349.20,566.86 349.50,566.85 349.80,566.84 350.10,566.83 350.40,566.82 350.70,566.81 351.00,566.80 351.30,566.79 351.60,566.78 351.90,566.77 352.20,566.76 352.50,566.76 352.80,566.75 353.10,566.74 353.40,566.73 353.70,566.72 354.00,566.71 354.30,566.71 354.60,566.70 354.90,566.69 355.20,566.68 355.50,566.67 355.80,566.66 356.10,566.65 356.40,566.64 356.70,566.63 357.00,566.62 357.30,566.61 357.60,566.60 357.90,566.59 358.20,566.57 358.50,566.56 358.80,566.55 359.10,566.53 359.40,566.52 359.70,566.51 359.80,566.50 360.00,566.49 360.30,566.48 360.60,566.46 360.90,566.44 361.20,566.40 361.20,566.40 361.50,565.19 361.80,562.69 362.10,560.46 362.30,559.90 362.40,559.92 362.70,560.13 363.00,560.51 363.30,560.98 363.60,561.44 363.80,561.70 363.90,561.82 364.20,562.18 364.50,562.55 364.80,562.92 365.10,563.27 365.40,563.59 365.70,563.87 366.00,564.10 366.00,564.10 366.30,564.29 366.60,564.47 366.90,564.64 367.20,564.80 367.50,564.95 367.80,565.10 368.10,565.24 368.40,565.37 368.70,565.49 369.00,565.61 369.30,565.73 369.60,565.83 369.90,565.94 370.20,566.04 370.50,566.13 370.80,566.22 371.10,566.31 371.40,566.39 371.70,566.47 371.80,566.50 372.00,566.55 372.30,566.63 372.60,566.70 372.90,566.78 373.20,566.85 373.50,566.92 373.80,566.98 374.10,567.05 374.40,567.11 374.70,567.17 375.00,567.23 375.30,567.29 375.60,567.34 375.90,567.40 376.20,567.45 376.50,567.50 376.80,567.55 377.10,567.60 377.40,567.65 377.70,567.70 378.00,567.74 378.30,567.79 378.60,567.83 378.90,567.87 379.10,567.90 379.20,567.91 379.50,567.96 379.80,568.00 380.10,568.04 380.40,568.08 380.70,568.11 381.00,568.15 381.30,568.19 381.60,568.23 381.90,568.26 382.20,568.30 382.50,568.33 382.80,568.37 383.10,568.40 383.40,568.43 383.70,568.46 384.00,568.49 384.30,568.52 384.60,568.55 384.90,568.58 385.20,568.60 385.50,568.63 385.80,568.65 386.10,568.68 386.40,568.70 386.40,568.70 386.70,568.72 387.00,568.74 387.30,568.76 387.60,568.79 387.90,568.81 388.20,568.83 388.50,568.85 388.80,568.87 389.10,568.88 389.40,568.90 389.70,568.92 390.00,568.94 390.30,568.95 390.60,568.97 390.90,568.99 391.20,569.00 391.50,569.02 391.80,569.03 392.10,569.04 392.40,569.06 392.70,569.07 393.00,569.08 393.30,569.09 393.60,569.10 393.60,569.10 393.90,569.11 394.20,569.12 394.50,569.13 394.80,569.14 395.10,569.14 395.40,569.15 395.70,569.16 396.00,569.17 396.30,569.18 396.60,569.18 396.90,569.19 397.20,569.20 397.50,569.21 397.80,569.21 398.10,569.22 398.40,569.23 398.70,569.23 399.00,569.24 399.30,569.24 399.60,569.25 399.90,569.26 400.20,569.26 400.50,569.27 400.80,569.27 401.10,569.28 401.40,569.28 401.70,569.29 402.00,569.30 402.30,569.30 402.60,569.31 402.90,569.31 403.20,569.32 403.50,569.32 403.80,569.33 404.10,569.33 404.40,569.34 404.70,569.34 405.00,569.35 405.30,569.35 405.60,569.36 405.90,569.36 406.20,569.37 406.50,569.37 406.80,569.38 407.10,569.38 407.40,569.39 407.70,569.39 408.00,569.40 408.20,569.40 408.30,569.40 408.60,569.41 408.90,569.41 409.20,569.42 409.50,569.42 409.80,569.42 410.10,569.43 410.40,569.43 410.70,569.43 411.00,569.43 411.30,569.44 411.60,569.44 411.90,569.44 412.20,569.44 412.50,569.44 412.80,569.44 413.10,569.45 413.40,569.45 413.70,569.45 414.00,569.45 414.30,569.45 414.60,569.46 414.90,569.46 415.20,569.46 415.50,569.46 415.80,569.47 416.10,569.47 416.40,569.47 416.70,569.48 417.00,569.48 417.30,569.49 417.60,569.49 417.90,569.50 418.20,569.50 418.50,569.51 418.80,569.52 419.10,569.53 419.40,569.53 419.70,569.54 420.00,569.55 420.30,569.56 420.60,569.58 420.90,569.59 421.20,569.60 421.20,569.60 421.50,572.50 421.80,575.40 421.80,575.40 422.10,575.30 422.40,575.05 422.70,574.72 423.00,574.37 423.30,574.08 423.40,574.00 423.60,573.86 423.90,573.67 424.20,573.49 424.50,573.32 424.80,573.15 425.10,573.00 425.40,572.84 425.70,572.70 425.90,572.60 426.00,572.55 426.30,572.41 426.60,572.27 426.90,572.14 427.20,572.01 427.50,571.88 427.80,571.76 428.10,571.63 428.40,571.52 428.70,571.40 429.00,571.29 429.30,571.17 429.50,571.10 429.60,571.06 429.90,570.96 430.20,570.85 430.50,570.75 430.80,570.65 431.10,570.55 431.40,570.45 431.70,570.36 432.00,570.26 432.30,570.17 432.60,570.08 432.90,569.99 433.20,569.90 433.20,569.90 433.50,569.81 433.80,569.72 434.10,569.63 434.40,569.54 434.70,569.46 435.00,569.37 435.30,569.29 435.60,569.20 435.90,569.12 436.20,569.05 436.50,568.97 436.80,568.90 436.80,568.90 437.10,568.83 437.40,568.76 437.70,568.70 438.00,568.63 438.30,568.57 438.60,568.50 438.90,568.44 439.20,568.38 439.50,568.32 439.80,568.26 440.10,568.20 440.40,568.14 440.70,568.09 441.00,568.03 441.30,567.98 441.60,567.92 441.90,567.87 442.20,567.82 442.50,567.76 442.80,567.71 443.10,567.66 443.40,567.61 443.70,567.56 444.00,567.52 444.10,567.50 444.30,567.47 444.60,567.42 444.90,567.37 445.20,567.33 445.50,567.28 445.80,567.23 446.10,567.19 446.40,567.14 446.70,567.10 447.00,567.05 447.30,567.01 447.60,566.97 447.90,566.93 448.20,566.88 448.50,566.84 448.80,566.80 449.10,566.76 449.40,566.73 449.70,566.69 450.00,566.65 450.30,566.62 450.60,566.58 450.90,566.55 451.20,566.52 451.40,566.50 451.50,566.49 451.80,566.46 452.10,566.43 452.40,566.40 452.70,566.38 453.00,566.35 453.30,566.33 453.60,566.30 453.90,566.28 454.20,566.26 454.50,566.23 454.80,566.21 455.00,566.20 455.10,566.19 455.40,566.17 455.70,566.15 456.00,566.13 456.30,566.11 456.60,566.09 456.90,566.07 457.20,566.06 457.50,566.04 457.80,566.02 458.10,566.00 458.40,565.98 458.70,565.96 459.00,565.94 459.30,565.93 459.60,565.91 459.90,565.89 460.20,565.87 460.50,565.86 460.80,565.84 461.10,565.82 461.40,565.81 461.70,565.79 462.00,565.77 462.30,565.76 462.60,565.74 462.90,565.73 463.20,565.71 463.50,565.70 463.80,565.68 464.10,565.67 464.40,565.65 464.70,565.64 465.00,565.63 465.30,565.61 465.60,565.60 465.90,565.59 466.20,565.58 466.50,565.56 466.80,565.55 467.10,565.54 467.40,565.53 467.70,565.52 468.00,565.51 468.20,565.50 468.30,565.50 468.60,565.49 468.90,565.48 469.20,565.46 469.50,565.45 469.80,565.44 470.10,565.43 470.40,565.42 470.70,565.41 471.00,565.40 471.30,565.39 471.60,565.38 471.90,565.37 472.20,565.36 472.50,565.35 472.80,565.34 473.10,565.33 473.40,565.32 473.70,565.31 474.00,565.30 474.30,565.29 474.60,565.28 474.90,565.27 475.20,565.27 475.50,565.26 475.80,565.25 476.10,565.24 476.40,565.24 476.70,565.23 477.00,565.23 477.30,565.22 477.60,565.22 477.90,565.21 478.20,565.21 478.50,565.21 478.80,565.20 479.10,565.20 479.40,565.20 479.70,565.20 479.80,565.20 480.00,565.20 480.30,565.20 480.60,565.20 480.90,565.20 481.20,565.20 481.30,565.20 481.50,567.12 481.80,572.98 482.00,574.90 482.10,574.88 482.40,574.57 482.70,574.08 483.00,573.61 483.10,573.50 483.30,573.31 483.60,573.04 483.90,572.79 484.20,572.55 484.50,572.33 484.80,572.11 485.10,571.91 485.40,571.71 485.70,571.52 486.00,571.33 486.30,571.14 486.60,570.96 486.90,570.77 487.20,570.58 487.50,570.38 487.80,570.18 488.10,569.97 488.20,569.90 488.40,569.75 488.70,569.53 489.00,569.29 489.30,569.06 489.60,568.82 489.90,568.59 490.20,568.35 490.50,568.12 490.80,567.89 491.10,567.68 491.40,567.46 491.70,567.26 491.80,567.20 492.00,567.07 492.30,566.89 492.60,566.70 492.90,566.53 493.20,566.35 493.50,566.18 493.80,566.01 494.10,565.84 494.40,565.67 494.70,565.51 495.00,565.35 495.30,565.19 495.60,565.04 495.90,564.88 496.20,564.73 496.50,564.58 496.80,564.43 497.10,564.28 497.40,564.13 497.70,563.99 498.00,563.84 498.30,563.69 498.60,563.54 498.90,563.40 499.10,563.30 499.20,563.25 499.50,563.11 499.80,562.96 500.10,562.82 500.40,562.67 500.70,562.53 501.00,562.39 501.30,562.25 501.60,562.11 501.90,561.97 502.20,561.83 502.50,561.70 502.80,561.56 503.10,561.43 503.40,561.29 503.70,561.16 504.00,561.03 504.30,560.90 504.60,560.77 504.90,560.64 505.20,560.51 505.50,560.38 505.80,560.25 506.10,560.13 506.40,560.00 506.40,560.00 506.70,559.87 507.00,559.75 507.30,559.63 507.60,559.50 507.90,559.38 508.20,559.25 508.50,559.13 508.80,559.01 509.10,558.89 509.40,558.77 509.70,558.65 510.00,558.53 510.30,558.41 510.60,558.30 510.90,558.18 511.20,558.07 511.50,557.95 511.80,557.84 512.10,557.73 512.40,557.62 512.70,557.51 513.00,557.41 513.30,557.30 513.60,557.20 513.60,557.20 513.90,557.10 514.20,557.00 514.50,556.90 514.80,556.80 515.10,556.70 515.40,556.60 515.70,556.51 516.00,556.41 516.30,556.32 516.60,556.22 516.90,556.13 517.20,556.04 517.50,555.95 517.80,555.86 518.10,555.77 518.40,555.68 518.70,555.59 519.00,555.51 519.30,555.43 519.60,555.34 519.90,555.26 520.20,555.18 520.50,555.10 520.80,555.03 520.90,555.00 521.10,554.95 521.40,554.87 521.70,554.80 522.00,554.73 522.30,554.66 522.60,554.59 522.90,554.52 523.20,554.45 523.50,554.38 523.80,554.32 524.10,554.25 524.40,554.19 524.70,554.12 525.00,554.06 525.30,554.00 525.60,553.93 525.90,553.87 526.20,553.81 526.50,553.75 526.80,553.69 527.10,553.62 527.40,553.56 527.70,553.50 528.00,553.44 528.20,553.40 528.30,553.38 528.60,553.32 528.90,553.26 529.20,553.20 529.50,553.14 529.80,553.08 530.10,553.03 530.40,552.97 530.70,552.91 531.00,552.85 531.30,552.80 531.60,552.74 531.90,552.69 532.20,552.63 532.50,552.57 532.80,552.52 533.10,552.46 533.40,552.41 533.70,552.35 534.00,552.29 534.30,552.23 534.60,552.18 534.90,552.12 535.20,552.06 535.50,552.00 535.50,552.00 535.80,551.94 536.10,551.88 536.40,551.82 536.70,551.76 537.00,551.70 537.30,551.64 537.60,551.57 537.90,551.51 538.20,551.45 538.50,551.39 538.80,551.32 539.10,551.26 539.40,551.20 539.70,551.13 540.00,551.07 540.30,551.01 540.60,550.94 540.80,550.90" fill="none" stroke="#D95319" stroke-width="2.4" stroke-linejoin="round" stroke-linecap="butt" clip-path="url(#clipc)"/>
<polyline points="61.30,588.00 61.40,577.90 61.60,578.03 61.90,578.62 62.20,579.48 62.50,580.42 62.80,581.22 63.10,581.67 63.20,581.70 63.40,581.66 63.70,581.45 64.00,581.11 64.30,580.66 64.60,580.14 64.90,579.59 65.20,579.03 65.50,578.51 65.70,578.20 65.80,578.05 66.10,577.59 66.40,577.11 66.70,576.62 67.00,576.13 67.30,575.66 67.60,575.21 67.90,574.80 67.90,574.80 68.20,574.41 68.50,574.03 68.80,573.66 69.10,573.31 69.40,572.98 69.70,572.67 70.00,572.40 70.00,572.40 70.30,572.15 70.60,571.91 70.90,571.68 71.20,571.47 71.50,571.27 71.80,571.10 72.10,570.95 72.20,570.90 72.40,570.81 72.70,570.69 73.00,570.57 73.30,570.45 73.60,570.34 73.90,570.24 74.20,570.14 74.50,570.05 74.80,569.96 75.10,569.88 75.40,569.81 75.70,569.74 76.00,569.68 76.30,569.63 76.50,569.60 76.60,569.59 76.90,569.54 77.20,569.51 77.50,569.47 77.80,569.43 78.10,569.40 78.40,569.37 78.70,569.34 79.00,569.31 79.30,569.29 79.60,569.27 79.90,569.25 80.20,569.23 80.50,569.21 80.80,569.20 80.80,569.20 81.10,569.19 81.40,569.18 81.70,569.17 82.00,569.15 82.30,569.14 82.60,569.13 82.90,569.12 83.20,569.11 83.50,569.10 83.80,569.09 84.10,569.08 84.40,569.08 84.70,569.07 85.00,569.06 85.30,569.05 85.60,569.05 85.90,569.04 86.20,569.03 86.50,569.03 86.80,569.02 87.10,569.02 87.40,569.01 87.70,569.01 88.00,569.01 88.30,569.00 88.60,569.00 88.90,569.00 89.20,569.00 89.40,569.00 89.50,569.00 89.80,569.00 90.10,569.00 90.40,569.00 90.70,569.00 91.00,569.00 91.30,569.00 91.60,569.00 91.90,569.00 92.20,569.00 92.50,569.00 92.80,569.00 93.10,569.00 93.40,569.00 93.70,569.00 94.00,569.00 94.30,569.00 94.60,569.00 94.90,569.00 95.20,569.00 95.50,569.00 95.80,569.00 96.10,569.00 96.40,569.00 96.70,569.00 97.00,569.00 97.30,569.00 97.60,569.01 97.90,569.01 98.20,569.01 98.50,569.01 98.80,569.01 99.10,569.01 99.40,569.01 99.70,569.01 100.00,569.01 100.30,569.01 100.60,569.01 100.90,569.01 101.20,569.02 101.50,569.02 101.80,569.02 102.10,569.02 102.40,569.02 102.70,569.02 103.00,569.02 103.30,569.03 103.60,569.03 103.90,569.03 104.20,569.03 104.50,569.03 104.80,569.03 105.10,569.04 105.40,569.04 105.70,569.04 106.00,569.04 106.30,569.05 106.60,569.05 106.90,569.05 107.20,569.05 107.50,569.06 107.80,569.06 108.10,569.06 108.40,569.06 108.70,569.07 109.00,569.07 109.30,569.07 109.60,569.08 109.90,569.08 110.20,569.08 110.50,569.09 110.80,569.09 111.10,569.10 111.40,569.10 111.70,569.10 112.00,569.11 112.30,569.11 112.60,569.12 112.90,569.12 113.20,569.13 113.50,569.13 113.80,569.14 114.10,569.14 114.40,569.15 114.70,569.15 115.00,569.16 115.30,569.16 115.60,569.17 115.90,569.17 116.20,569.18 116.50,569.18 116.80,569.19 117.10,569.20 117.40,569.20 117.70,569.21 118.00,569.22 118.30,569.22 118.60,569.23 118.90,569.24 119.20,569.24 119.50,569.25 119.80,569.26 120.10,569.27 120.40,569.28 120.70,569.28 121.00,569.29 121.30,569.30 121.30,569.30 121.50,586.00 121.60,585.49 121.90,579.85 122.20,573.48 122.30,572.40 122.50,571.21 122.80,569.78 123.10,568.78 123.40,568.20 123.40,568.20 123.70,567.85 124.00,567.55 124.30,567.30 124.60,567.09 124.90,566.92 125.20,566.77 125.50,566.65 125.80,566.53 125.90,566.50 126.10,566.43 126.40,566.34 126.70,566.25 127.00,566.17 127.30,566.10 127.60,566.03 127.90,565.97 128.20,565.91 128.50,565.86 128.80,565.81 129.10,565.76 129.40,565.72 129.50,565.70 129.70,565.67 130.00,565.62 130.30,565.58 130.60,565.54 130.90,565.49 131.20,565.45 131.50,565.41 131.80,565.37 132.10,565.33 132.40,565.29 132.70,565.25 133.00,565.22 133.30,565.18 133.60,565.15 133.90,565.12 134.20,565.09 134.50,565.06 134.80,565.03 135.10,565.01 135.40,564.98 135.70,564.96 136.00,564.94 136.30,564.92 136.60,564.91 136.80,564.90 136.90,564.90 137.20,564.88 137.50,564.87 137.80,564.86 138.10,564.84 138.40,564.83 138.70,564.82 139.00,564.81 139.30,564.80 139.60,564.79 139.90,564.78 140.20,564.77 140.50,564.76 140.80,564.75 141.10,564.74 141.40,564.73 141.70,564.73 142.00,564.72 142.30,564.72 142.60,564.71 142.90,564.71 143.20,564.70 143.50,564.70 143.80,564.70 144.10,564.70 144.10,564.70 144.40,564.70 144.70,564.70 145.00,564.70 145.30,564.70 145.60,564.70 145.90,564.70 146.20,564.70 146.50,564.70 146.80,564.70 147.10,564.70 147.40,564.70 147.70,564.70 148.00,564.70 148.30,564.70 148.60,564.70 148.90,564.70 149.20,564.70 149.50,564.70 149.80,564.70 150.10,564.70 150.40,564.70 150.70,564.70 151.00,564.70 151.30,564.70 151.60,564.70 151.90,564.70 152.20,564.70 152.50,564.70 152.80,564.70 153.10,564.70 153.40,564.70 153.70,564.70 154.00,564.70 154.30,564.70 154.60,564.70 154.90,564.71 155.20,564.71 155.50,564.71 155.80,564.71 156.10,564.71 156.40,564.71 156.70,564.71 157.00,564.71 157.30,564.71 157.60,564.71 157.90,564.71 158.20,564.71 158.50,564.71 158.80,564.71 159.10,564.71 159.40,564.71 159.70,564.72 160.00,564.72 160.30,564.72 160.60,564.72 160.90,564.72 161.20,564.72 161.50,564.72 161.80,564.72 162.10,564.72 162.40,564.72 162.70,564.73 163.00,564.73 163.30,564.73 163.60,564.73 163.90,564.73 164.20,564.73 164.50,564.73 164.80,564.74 165.10,564.74 165.40,564.74 165.70,564.74 166.00,564.74 166.30,564.74 166.60,564.75 166.90,564.75 167.20,564.75 167.50,564.75 167.80,564.75 168.10,564.75 168.40,564.76 168.70,564.76 169.00,564.76 169.30,564.76 169.60,564.77 169.90,564.77 170.20,564.77 170.50,564.77 170.80,564.78 171.10,564.78 171.40,564.78 171.70,564.78 172.00,564.79 172.30,564.79 172.60,564.79 172.90,564.79 173.20,564.80 173.50,564.80 173.80,564.80 174.10,564.81 174.40,564.81 174.70,564.81 175.00,564.82 175.30,564.82 175.60,564.82 175.90,564.83 176.20,564.83 176.50,564.83 176.80,564.84 177.10,564.84 177.40,564.84 177.70,564.85 178.00,564.85 178.30,564.86 178.60,564.86 178.90,564.87 179.20,564.87 179.50,564.87 179.80,564.88 180.10,564.88 180.40,564.89 180.70,564.89 181.00,564.90 181.20,564.90 181.30,575.75 181.40,586.60 181.60,586.06 181.90,583.59 182.20,579.84 182.50,575.61 182.80,571.71 183.10,568.94 183.20,568.40 183.40,567.59 183.70,566.50 184.00,565.52 184.30,564.65 184.60,563.87 184.90,563.17 185.20,562.54 185.50,561.96 185.80,561.42 186.10,560.90 186.40,560.39 186.70,559.87 186.80,559.70 187.00,559.35 187.30,558.85 187.60,558.38 187.90,557.92 188.20,557.48 188.50,557.06 188.80,556.65 189.10,556.27 189.40,555.89 189.70,555.52 190.00,555.17 190.30,554.83 190.50,554.60 190.60,554.49 190.90,554.16 191.20,553.83 191.50,553.52 191.80,553.21 192.10,552.91 192.40,552.62 192.70,552.34 193.00,552.07 193.30,551.82 193.60,551.57 193.90,551.34 194.10,551.20 194.20,551.13 194.50,550.92 194.80,550.72 195.10,550.53 195.40,550.33 195.70,550.15 196.00,549.97 196.30,549.79 196.60,549.62 196.90,549.45 197.20,549.28 197.50,549.12 197.80,548.97 198.10,548.81 198.40,548.66 198.70,548.51 199.00,548.37 199.30,548.23 199.60,548.09 199.90,547.95 200.20,547.82 200.50,547.69 200.80,547.56 201.10,547.43 201.40,547.30 201.40,547.30 201.70,547.17 202.00,547.05 202.30,546.93 202.60,546.81 202.90,546.69 203.20,546.57 203.50,546.45 203.80,546.33 204.10,546.22 204.40,546.11 204.70,546.00 205.00,545.89 205.30,545.79 205.60,545.69 205.90,545.59 206.20,545.49 206.50,545.39 206.80,545.30 207.10,545.21 207.40,545.12 207.70,545.04 208.00,544.95 208.30,544.88 208.60,544.80 208.60,544.80 208.90,544.73 209.20,544.66 209.50,544.59 209.80,544.52 210.10,544.46 210.40,544.39 210.70,544.33 211.00,544.27 211.30,544.22 211.60,544.16 211.90,544.10 212.20,544.05 212.50,544.00 212.80,543.94 213.10,543.89 213.40,543.84 213.70,543.79 214.00,543.73 214.30,543.68 214.60,543.63 214.90,543.58 215.20,543.53 215.50,543.47 215.80,543.42 215.90,543.40 216.10,543.36 216.40,543.30 216.70,543.24 217.00,543.17 217.30,543.10 217.60,543.03 217.90,542.96 218.20,542.90 218.50,542.83 218.80,542.78 219.10,542.72 219.40,542.68 219.70,542.64 220.00,542.62 220.30,542.60 220.50,542.60 220.60,542.73 220.80,543.70 220.90,547.12 221.00,550.20 221.20,546.31 221.40,542.40 221.50,542.37 221.80,542.31 222.10,542.28 222.40,542.25 222.70,542.24 223.00,542.22 223.20,542.20 223.30,542.19 223.60,542.16 223.90,542.12 224.20,542.08 224.50,542.05 224.80,542.01 225.10,541.97 225.40,541.93 225.70,541.89 226.00,541.85 226.30,541.81 226.60,541.77 226.90,541.74 227.20,541.70 227.50,541.67 227.80,541.64 228.10,541.61 228.40,541.58 228.70,541.56 229.00,541.54 229.30,541.52 229.60,541.51 229.90,541.50 230.20,541.50 230.30,541.50 230.50,542.60 230.70,543.70 230.80,543.11 231.00,541.40 231.10,541.38 231.40,541.31 231.70,541.25 232.00,541.19 232.30,541.15 232.60,541.11 232.90,541.07 233.20,541.05 233.50,541.02 233.80,541.00 234.10,540.98 234.40,540.97 234.70,540.96 235.00,540.94 235.30,540.93 235.60,540.92 235.90,540.91 236.20,540.90 236.50,540.89 236.80,540.87 237.10,540.85 237.40,540.83 237.70,540.80 237.70,540.80 238.00,540.77 238.30,540.75 238.60,540.74 238.90,540.72 239.20,540.71 239.50,540.69 239.80,540.67 240.10,540.65 240.40,540.62 240.70,540.57 241.00,540.52 241.30,540.45 241.50,540.40 241.60,534.14 241.90,486.64 242.00,480.40 242.20,481.59 242.50,487.12 242.80,495.67 243.10,505.64 243.40,515.40 243.40,515.40 243.70,526.44 244.00,538.49 244.20,545.00 244.30,547.71 244.60,555.30 244.90,559.90 244.90,559.90 245.20,561.82 245.50,563.30 245.80,564.40 246.10,565.21 246.40,565.80 246.40,565.80 246.70,566.29 247.00,566.73 247.30,567.13 247.60,567.49 247.90,567.80 248.20,568.08 248.50,568.31 248.80,568.51 249.10,568.67 249.40,568.80 249.40,568.80 249.70,568.91 250.00,569.01 250.30,569.11 250.60,569.21 250.90,569.30 251.20,569.38 251.50,569.47 251.80,569.54 252.10,569.61 252.40,569.68 252.70,569.74 253.00,569.79 253.30,569.84 253.60,569.89 253.90,569.92 254.20,569.95 254.50,569.97 254.80,569.99 255.10,570.00 255.30,570.00 255.40,570.00 255.70,570.00 256.00,570.00 256.30,570.00 256.60,570.00 256.90,570.00 257.20,570.00 257.50,570.00 257.80,570.00 258.10,570.00 258.40,570.00 258.70,570.00 259.00,570.00 259.30,570.00 259.60,570.00 259.90,570.00 260.20,570.00 260.50,570.00 260.80,570.00 261.10,570.00 261.40,570.00 261.70,569.99 262.00,569.99 262.30,569.99 262.60,569.99 262.90,569.99 263.20,569.99 263.50,569.99 263.80,569.99 264.10,569.99 264.40,569.99 264.70,569.99 265.00,569.99 265.30,569.99 265.60,569.99 265.90,569.99 266.20,569.99 266.50,569.98 266.80,569.98 267.10,569.98 267.40,569.98 267.70,569.98 268.00,569.98 268.30,569.98 268.60,569.98 268.90,569.98 269.20,569.98 269.50,569.98 269.80,569.98 270.10,569.98 270.40,569.97 270.70,569.97 271.00,569.97 271.30,569.97 271.60,569.97 271.90,569.97 272.20,569.97 272.50,569.97 272.80,569.97 273.10,569.97 273.40,569.97 273.70,569.96 274.00,569.96 274.30,569.96 274.60,569.96 274.90,569.96 275.20,569.96 275.50,569.96 275.80,569.96 276.10,569.96 276.40,569.96 276.70,569.95 277.00,569.95 277.30,569.95 277.60,569.95 277.90,569.95 278.20,569.95 278.50,569.95 278.80,569.95 279.10,569.95 279.40,569.95 279.70,569.94 280.00,569.94 280.30,569.94 280.60,569.94 280.90,569.94 281.20,569.94 281.50,569.94 281.80,569.94 282.10,569.94 282.40,569.94 282.70,569.94 283.00,569.93 283.30,569.93 283.60,569.93 283.90,569.93 284.20,569.93 284.50,569.93 284.80,569.93 285.10,569.93 285.40,569.93 285.70,569.93 286.00,569.93 286.30,569.92 286.60,569.92 286.90,569.92 287.20,569.92 287.50,569.92 287.80,569.92 288.10,569.92 288.40,569.92 288.70,569.92 289.00,569.92 289.30,569.92 289.60,569.92 289.90,569.91 290.20,569.91 290.50,569.91 290.80,569.91 291.10,569.91 291.40,569.91 291.70,569.91 292.00,569.91 292.30,569.91 292.60,569.91 292.90,569.91 293.20,569.91 293.50,569.91 293.80,569.91 294.10,569.91 294.40,569.91 294.70,569.91 295.00,569.90 295.30,569.90 295.60,569.90 295.90,569.90 296.20,569.90 296.50,569.90 296.80,569.90 297.10,569.90 297.40,569.90 297.70,569.90 298.00,569.90 298.30,569.90 298.60,569.90 298.90,569.90 299.20,569.90 299.50,569.90 299.80,569.90 300.10,569.90 300.40,569.90 300.70,569.90 300.90,569.90 301.00,574.36 301.20,587.10 301.30,586.54 301.60,580.40 301.90,573.53 302.00,572.40 302.20,571.20 302.50,569.79 302.80,568.89 303.00,568.60 303.10,568.52 303.40,568.32 303.70,568.15 304.00,568.02 304.30,567.90 304.60,567.81 304.90,567.73 305.20,567.66 305.50,567.60 305.80,567.53 305.90,567.50 306.10,567.45 306.40,567.37 306.70,567.30 307.00,567.23 307.30,567.16 307.60,567.10 307.90,567.04 308.20,566.99 308.50,566.94 308.80,566.89 309.10,566.85 309.40,566.81 309.50,566.80 309.70,566.78 310.00,566.75 310.30,566.72 310.60,566.69 310.90,566.66 311.20,566.64 311.50,566.61 311.80,566.59 312.10,566.56 312.40,566.54 312.70,566.52 313.00,566.50 313.30,566.48 313.60,566.46 313.90,566.44 314.20,566.42 314.50,566.41 314.80,566.39 315.10,566.38 315.40,566.36 315.70,566.35 316.00,566.33 316.30,566.32 316.60,566.31 316.80,566.30 316.90,566.30 317.20,566.28 317.50,566.27 317.80,566.26 318.10,566.25 318.40,566.24 318.70,566.23 319.00,566.21 319.30,566.20 319.60,566.19 319.90,566.18 320.20,566.17 320.50,566.16 320.80,566.15 321.10,566.15 321.40,566.14 321.70,566.13 322.00,566.12 322.30,566.12 322.60,566.11 322.90,566.11 323.20,566.10 323.50,566.10 323.80,566.10 324.10,566.10 324.10,566.10 324.40,566.10 324.70,566.10 325.00,566.10 325.30,566.10 325.60,566.10 325.90,566.10 326.20,566.10 326.50,566.10 326.80,566.10 327.10,566.10 327.40,566.10 327.70,566.10 328.00,566.10 328.30,566.10 328.60,566.10 328.90,566.10 329.20,566.11 329.50,566.11 329.80,566.11 330.10,566.11 330.40,566.11 330.70,566.11 331.00,566.11 331.30,566.11 331.60,566.11 331.90,566.11 332.20,566.11 332.50,566.11 332.80,566.11 333.10,566.11 333.40,566.12 333.70,566.12 334.00,566.12 334.30,566.12 334.60,566.12 334.90,566.12 335.20,566.12 335.50,566.12 335.80,566.12 336.10,566.12 336.40,566.13 336.70,566.13 337.00,566.13 337.30,566.13 337.60,566.13 337.90,566.13 338.20,566.13 338.50,566.13 338.80,566.13 339.10,566.14 339.40,566.14 339.70,566.14 340.00,566.14 340.30,566.14 340.60,566.14 340.90,566.14 341.20,566.14 341.50,566.15 341.80,566.15 342.10,566.15 342.40,566.15 342.70,566.15 343.00,566.15 343.30,566.15 343.60,566.15 343.90,566.16 344.20,566.16 344.50,566.16 344.80,566.16 345.10,566.16 345.40,566.16 345.70,566.16 346.00,566.16 346.30,566.16 346.60,566.17 346.90,566.17 347.20,566.17 347.50,566.17 347.80,566.17 348.10,566.17 348.40,566.17 348.70,566.17 349.00,566.17 349.30,566.18 349.60,566.18 349.90,566.18 350.20,566.18 350.50,566.18 350.80,566.18 351.10,566.18 351.40,566.18 351.70,566.18 352.00,566.18 352.30,566.19 352.60,566.19 352.90,566.19 353.20,566.19 353.50,566.19 353.80,566.19 354.10,566.19 354.40,566.19 354.70,566.19 355.00,566.19 355.30,566.19 355.60,566.19 355.90,566.19 356.20,566.20 356.50,566.20 356.80,566.20 357.10,566.20 357.40,566.20 357.70,566.20 358.00,566.20 358.30,566.20 358.60,566.20 358.90,566.20 359.20,566.20 359.50,566.20 359.80,566.20 360.10,566.20 360.40,566.20 360.70,566.20 361.00,566.20 361.10,566.20 361.30,552.20 361.30,552.20 361.60,556.24 361.90,564.32 362.20,570.38 362.30,570.90 362.50,570.88 362.80,570.77 363.10,570.62 363.40,570.45 363.50,570.40 363.70,570.28 364.00,570.04 364.30,569.76 364.60,569.47 364.90,569.21 365.20,569.01 365.50,568.91 365.60,568.90 365.80,568.91 366.10,568.96 366.40,569.03 366.70,569.12 367.00,569.21 367.30,569.29 367.60,569.36 367.90,569.40 368.00,569.40 368.20,569.40 368.50,569.41 368.80,569.41 369.10,569.41 369.40,569.41 369.70,569.42 370.00,569.42 370.30,569.42 370.60,569.42 370.90,569.43 371.20,569.43 371.50,569.43 371.80,569.43 372.10,569.44 372.40,569.44 372.70,569.44 373.00,569.44 373.30,569.45 373.60,569.45 373.90,569.45 374.20,569.45 374.50,569.45 374.80,569.45 375.10,569.46 375.40,569.46 375.70,569.46 376.00,569.46 376.30,569.46 376.60,569.46 376.90,569.47 377.20,569.47 377.50,569.47 377.80,569.47 378.10,569.47 378.40,569.47 378.70,569.47 379.00,569.47 379.30,569.48 379.60,569.48 379.90,569.48 380.20,569.48 380.50,569.48 380.80,569.48 381.10,569.48 381.40,569.48 381.70,569.48 382.00,569.48 382.30,569.48 382.60,569.48 382.90,569.49 383.20,569.49 383.50,569.49 383.80,569.49 384.10,569.49 384.40,569.49 384.70,569.49 385.00,569.49 385.30,569.49 385.60,569.49 385.90,569.49 386.20,569.49 386.50,569.49 386.80,569.49 387.10,569.49 387.40,569.49 387.70,569.49 388.00,569.49 388.30,569.49 388.60,569.49 388.90,569.49 389.20,569.49 389.50,569.49 389.80,569.49 390.10,569.49 390.40,569.49 390.70,569.49 391.00,569.49 391.30,569.49 391.60,569.49 391.90,569.49 392.20,569.49 392.50,569.49 392.80,569.49 393.10,569.49 393.40,569.49 393.70,569.49 394.00,569.49 394.30,569.49 394.60,569.49 394.90,569.49 395.20,569.49 395.50,569.50 395.80,569.50 396.10,569.50 396.40,569.50 396.70,569.50 397.00,569.50 397.30,569.50 397.60,569.50 397.90,569.50 398.20,569.50 398.50,569.50 398.80,569.50 399.10,569.50 399.40,569.50 399.70,569.50 400.00,569.50 400.30,569.50 400.60,569.50 400.90,569.50 401.20,569.50 401.50,569.50 401.80,569.50 402.10,569.50 402.40,569.50 402.70,569.50 403.00,569.50 403.30,569.50 403.60,569.50 403.90,569.50 404.20,569.50 404.50,569.50 404.80,569.50 405.10,569.50 405.40,569.50 405.70,569.51 406.00,569.51 406.30,569.51 406.60,569.51 406.90,569.51 407.20,569.51 407.50,569.51 407.80,569.51 408.10,569.51 408.40,569.51 408.70,569.51 409.00,569.51 409.30,569.52 409.60,569.52 409.90,569.52 410.20,569.52 410.50,569.52 410.80,569.52 411.10,569.52 411.40,569.53 411.70,569.53 412.00,569.53 412.30,569.53 412.60,569.53 412.90,569.53 413.20,569.53 413.50,569.54 413.80,569.54 414.10,569.54 414.40,569.54 414.70,569.54 415.00,569.55 415.30,569.55 415.60,569.55 415.90,569.55 416.20,569.55 416.50,569.56 416.80,569.56 417.10,569.56 417.40,569.56 417.70,569.57 418.00,569.57 418.30,569.57 418.60,569.58 418.90,569.58 419.20,569.58 419.50,569.58 419.80,569.59 420.10,569.59 420.40,569.59 420.70,569.60 421.00,569.60 421.00,569.60 421.20,586.80 421.30,586.26 421.60,580.30 421.90,573.55 422.00,572.40 422.20,571.11 422.50,569.58 422.80,568.56 423.00,568.20 423.10,568.09 423.40,567.78 423.70,567.52 424.00,567.30 424.30,567.12 424.60,566.97 424.90,566.84 425.20,566.73 425.50,566.63 425.80,566.53 425.90,566.50 426.10,566.44 426.40,566.35 426.70,566.26 427.00,566.18 427.30,566.11 427.60,566.04 427.90,565.98 428.20,565.92 428.50,565.86 428.80,565.81 429.10,565.76 429.40,565.72 429.50,565.70 429.70,565.67 430.00,565.62 430.30,565.58 430.60,565.54 430.90,565.49 431.20,565.45 431.50,565.41 431.80,565.37 432.10,565.33 432.40,565.29 432.70,565.25 433.00,565.22 433.30,565.18 433.60,565.15 433.90,565.12 434.20,565.09 434.50,565.06 434.80,565.03 435.10,565.01 435.40,564.98 435.70,564.96 436.00,564.94 436.30,564.92 436.60,564.91 436.80,564.90 436.90,564.90 437.20,564.88 437.50,564.87 437.80,564.86 438.10,564.84 438.40,564.83 438.70,564.82 439.00,564.81 439.30,564.80 439.60,564.79 439.90,564.78 440.20,564.77 440.50,564.76 440.80,564.75 441.10,564.74 441.40,564.73 441.70,564.73 442.00,564.72 442.30,564.72 442.60,564.71 442.90,564.71 443.20,564.70 443.50,564.70 443.80,564.70 444.10,564.70 444.10,564.70 444.40,564.70 444.70,564.70 445.00,564.70 445.30,564.70 445.60,564.70 445.90,564.70 446.20,564.70 446.50,564.70 446.80,564.70 447.10,564.70 447.40,564.70 447.70,564.70 448.00,564.70 448.30,564.70 448.60,564.70 448.90,564.70 449.20,564.70 449.50,564.70 449.80,564.70 450.10,564.70 450.40,564.70 450.70,564.70 451.00,564.70 451.30,564.70 451.60,564.70 451.90,564.70 452.20,564.71 452.50,564.71 452.80,564.71 453.10,564.71 453.40,564.71 453.70,564.71 454.00,564.71 454.30,564.71 454.60,564.71 454.90,564.71 455.20,564.71 455.50,564.71 455.80,564.72 456.10,564.72 456.40,564.72 456.70,564.72 457.00,564.72 457.30,564.72 457.60,564.72 457.90,564.73 458.20,564.73 458.50,564.73 458.80,564.73 459.10,564.73 459.40,564.74 459.70,564.74 460.00,564.74 460.30,564.74 460.60,564.74 460.90,564.75 461.20,564.75 461.50,564.75 461.80,564.75 462.10,564.76 462.40,564.76 462.70,564.76 463.00,564.77 463.30,564.77 463.60,564.77 463.90,564.78 464.20,564.78 464.50,564.78 464.80,564.79 465.10,564.79 465.40,564.80 465.70,564.80 466.00,564.80 466.30,564.81 466.60,564.81 466.90,564.82 467.20,564.82 467.50,564.83 467.80,564.83 468.10,564.84 468.40,564.84 468.70,564.85 469.00,564.85 469.30,564.86 469.60,564.86 469.90,564.87 470.20,564.87 470.50,564.88 470.80,564.89 471.10,564.89 471.40,564.90 471.70,564.91 472.00,564.91 472.30,564.92 472.60,564.93 472.90,564.93 473.20,564.94 473.50,564.95 473.80,564.96 474.10,564.96 474.40,564.97 474.70,564.98 475.00,564.99 475.30,565.00 475.60,565.01 475.90,565.02 476.20,565.02 476.50,565.03 476.80,565.04 477.10,565.05 477.40,565.06 477.70,565.07 478.00,565.08 478.30,565.09 478.60,565.10 478.90,565.11 479.20,565.12 479.50,565.13 479.80,565.15 480.10,565.16 480.40,565.17 480.70,565.18 481.00,565.19 481.20,565.20 481.30,586.60 481.30,586.60 481.60,582.53 481.90,574.42 482.20,568.40 482.20,568.40 482.50,565.78 482.80,563.82 483.10,562.60 483.10,562.60 483.40,561.84 483.70,561.21 484.00,560.68 484.30,560.22 484.60,559.83 484.90,559.48 485.20,559.15 485.50,558.82 485.80,558.46 486.00,558.20 486.10,558.06 486.40,557.66 486.70,557.25 487.00,556.85 487.30,556.47 487.60,556.09 487.90,555.72 488.20,555.36 488.50,555.02 488.80,554.70 488.90,554.60 489.10,554.40 489.40,554.10 489.70,553.82 490.00,553.55 490.30,553.28 490.60,553.03 490.90,552.78 491.20,552.54 491.50,552.32 491.80,552.10 491.80,552.10 492.10,551.89 492.40,551.69 492.70,551.49 493.00,551.30 493.30,551.12 493.60,550.94 493.90,550.76 494.20,550.59 494.50,550.43 494.80,550.26 495.10,550.11 495.40,549.95 495.50,549.90 495.70,549.80 496.00,549.65 496.30,549.51 496.60,549.36 496.90,549.22 497.20,549.09 497.50,548.96 497.80,548.83 498.10,548.70 498.40,548.58 498.70,548.46 499.00,548.34 499.10,548.30 499.30,548.22 499.60,548.11 499.90,548.00 500.20,547.88 500.50,547.77 500.80,547.66 501.10,547.55 501.40,547.45 501.70,547.34 502.00,547.24 502.30,547.13 502.60,547.03 502.90,546.93 503.20,546.83 503.50,546.74 503.80,546.64 504.10,546.55 504.40,546.46 504.70,546.37 505.00,546.28 505.30,546.20 505.60,546.11 505.90,546.03 506.20,545.95 506.40,545.90 506.50,545.87 506.80,545.80 507.10,545.73 507.40,545.65 507.70,545.58 508.00,545.52 508.30,545.45 508.60,545.38 508.90,545.32 509.20,545.25 509.50,545.19 509.80,545.13 510.10,545.07 510.40,545.01 510.70,544.95 511.00,544.89 511.30,544.83 511.60,544.77 511.90,544.72 512.20,544.66 512.50,544.61 512.80,544.55 513.10,544.49 513.40,544.44 513.60,544.40 513.70,544.38 514.00,544.32 514.30,544.26 514.60,544.20 514.90,544.13 515.20,544.06 515.50,543.99 515.80,543.93 516.10,543.86 516.40,543.79 516.70,543.73 517.00,543.67 517.30,543.62 517.60,543.57 517.90,543.52 518.20,543.48 518.50,543.45 518.80,543.43 519.10,543.41 519.40,543.40 519.50,543.40 519.70,545.70 519.90,548.00 520.00,547.25 520.30,543.20 520.30,543.20 520.60,543.20 520.90,543.20 520.90,543.20 521.20,543.20 521.50,543.19 521.80,543.17 522.10,543.14 522.40,543.12 522.70,543.08 523.00,543.04 523.30,543.00 523.60,542.96 523.90,542.91 524.20,542.86 524.50,542.80 524.80,542.75 525.10,542.69 525.40,542.64 525.70,542.58 526.00,542.53 526.30,542.47 526.60,542.42 526.90,542.37 527.20,542.33 527.50,542.28 527.80,542.25 528.10,542.21 528.20,542.20 528.40,542.18 528.70,542.15 529.00,542.12 529.30,542.09 529.60,542.07 529.90,542.04 530.20,542.01 530.50,541.99 530.80,541.96 531.10,541.94 531.40,541.91 531.70,541.89 532.00,541.87 532.30,541.84 532.60,541.82 532.90,541.80 533.20,541.77 533.50,541.75 533.80,541.73 534.10,541.71 534.40,541.68 534.70,541.66 535.00,541.64 535.30,541.62 535.50,541.60 535.60,541.59 535.90,541.57 536.20,541.55 536.50,541.52 536.80,541.50 537.10,541.48 537.40,541.45 537.70,541.43 538.00,541.41 538.30,541.38 538.60,541.36 538.90,541.34 539.20,541.32 539.50,541.30 539.80,541.27 540.10,541.25 540.40,541.23 540.70,541.21 540.80,541.20" fill="none" stroke="#EDB120" stroke-width="2.4" stroke-linejoin="round" stroke-linecap="butt" clip-path="url(#clipc)"/>
<rect x="73.2" y="445.6" width="232.7" height="61.7" fill="#fff" stroke="#4d4d4d" stroke-width="1"/>
<line x1="76.2" y1="456.9" x2="106.5" y2="456.9" stroke="#0072BD" stroke-width="2.4"/>
<text x="109.1" y="461.2" transform="rotate(0.03 109.1 461.2)" class="lg" textLength="178.6" lengthAdjust="spacing">PI Non-Linear Controller</text>
<line x1="76.2" y1="476.7" x2="106.5" y2="476.7" stroke="#D95319" stroke-width="2.4"/>
<text x="109.1" y="481.0" transform="rotate(0.03 109.1 481.0)" class="lg" textLength="187.0" lengthAdjust="spacing">Passivity-Based Controller</text>
<line x1="76.2" y1="496.5" x2="106.5" y2="496.5" stroke="#EDB120" stroke-width="2.4"/>
<text x="109.1" y="500.8" transform="rotate(0.03 109.1 500.8)" class="lg" textLength="193.3" lengthAdjust="spacing">Linear Controller Proposed</text>
<rect x="497.3" y="442.3" width="22" height="41.5" fill="none" stroke="#333" stroke-width="1"/><text x="507.3" y="463.9" class="bx" text-anchor="middle">c</text>
<text transform="translate(23.2,509.4) rotate(-90)" text-anchor="middle" class="lb" style="letter-spacing:2px"><tspan class="it">i</tspan><tspan class="it sub" dy="2.6">L</tspan><tspan class="pr p2" dy="-1.9">(</tspan><tspan class="it" dy="-0.7">A</tspan><tspan class="pr p2" dy="0.7">)</tspan></text>
<text x="301.0" y="629.5" text-anchor="middle" class="lb"><tspan class="it">t</tspan><tspan class="pr" dy="0.7">(</tspan><tspan class="it" dy="-0.7">s</tspan><tspan class="pr" dy="0.7">)</tspan></text>
</svg>
</body></html>
